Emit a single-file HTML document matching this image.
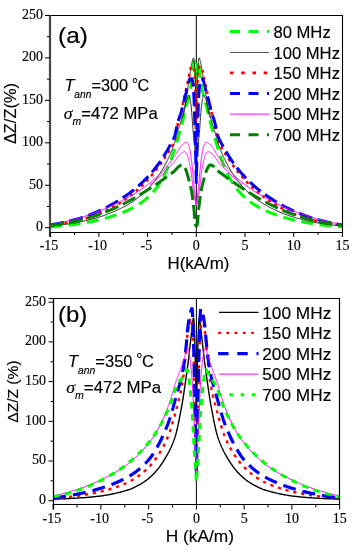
<!DOCTYPE html><html><head><meta charset="utf-8"><style>html,body{margin:0;padding:0;background:#fff;}svg{display:block;}.sf{font-family:"Liberation Serif",serif;font-size:14px;fill:#000;stroke:#000;stroke-width:0.15px;}.ss{font-family:"Liberation Sans",Arial,sans-serif;fill:#000;stroke:#000;stroke-width:0.15px;}</style></head><body>
<svg width="355" height="550" viewBox="0 0 355 550">
<rect width="355" height="550" fill="#fff"/>
<defs><clipPath id="ca"><rect x="50.0" y="15.5" width="292.5" height="217.0"/></clipPath>
<clipPath id="cb"><rect x="53.5" y="298.5" width="286" height="206"/></clipPath></defs>
<g clip-path="url(#ca)" fill="none" stroke-linejoin="round">
<line x1="196.3" y1="15" x2="196.3" y2="233" stroke="#000" stroke-width="1"/>
<path d="M50.20 226.83 L51.17 226.78 L52.15 226.73 L53.12 226.67 L54.10 226.60 L55.07 226.53 L56.04 226.46 L57.02 226.39 L57.99 226.31 L58.97 226.22 L59.94 226.13 L60.91 226.04 L61.89 225.95 L62.86 225.85 L63.84 225.75 L64.81 225.65 L65.78 225.54 L66.76 225.44 L67.73 225.33 L68.71 225.21 L69.68 225.10 L70.65 224.98 L71.63 224.87 L72.60 224.75 L73.58 224.62 L74.55 224.50 L75.52 224.38 L76.50 224.24 L77.47 224.10 L78.45 223.96 L79.42 223.81 L80.39 223.65 L81.37 223.49 L82.34 223.32 L83.32 223.15 L84.29 222.97 L85.26 222.79 L86.24 222.60 L87.21 222.41 L88.19 222.22 L89.16 222.03 L90.13 221.83 L91.11 221.63 L92.08 221.42 L93.06 221.22 L94.03 221.01 L95.00 220.80 L95.98 220.59 L96.95 220.37 L97.93 220.15 L98.90 219.92 L99.87 219.68 L100.85 219.44 L101.82 219.20 L102.80 218.95 L103.77 218.69 L104.74 218.42 L105.72 218.16 L106.69 217.88 L107.67 217.60 L108.64 217.32 L109.61 217.02 L110.59 216.73 L111.56 216.42 L112.54 216.11 L113.51 215.80 L114.48 215.48 L115.46 215.15 L116.43 214.81 L117.41 214.47 L118.38 214.12 L119.35 213.76 L120.33 213.40 L121.30 213.03 L122.28 212.65 L123.25 212.26 L124.22 211.86 L125.20 211.45 L126.17 211.04 L127.15 210.61 L128.12 210.18 L129.09 209.74 L130.07 209.28 L131.04 208.80 L132.02 208.30 L132.99 207.79 L133.96 207.26 L134.94 206.71 L135.91 206.15 L136.89 205.56 L137.86 204.96 L138.83 204.34 L139.81 203.70 L140.78 203.04 L141.76 202.35 L142.73 201.64 L143.70 200.90 L144.68 200.13 L145.65 199.33 L146.63 198.50 L147.60 197.64 L148.57 196.75 L149.55 195.82 L150.52 194.86 L151.50 193.85 L152.47 192.80 L153.44 191.69 L154.42 190.54 L155.39 189.34 L156.37 188.08 L157.34 186.77 L158.31 185.39 L159.29 183.96 L160.26 182.45 L161.24 180.85 L162.21 179.15 L163.18 177.36 L164.16 175.47 L165.13 173.50 L166.11 171.44 L167.08 169.30 L167.18 169.08 L167.27 168.86 L167.37 168.64 L167.47 168.42 L167.57 168.20 L167.66 167.97 L167.76 167.75 L167.86 167.53 L167.96 167.30 L168.05 167.08 L168.15 166.85 L168.25 166.62 L168.35 166.39 L168.44 166.17 L168.54 165.94 L168.64 165.71 L168.74 165.48 L168.83 165.24 L168.93 165.01 L169.03 164.78 L169.13 164.54 L169.22 164.31 L169.32 164.07 L169.42 163.84 L169.52 163.60 L169.61 163.36 L169.71 163.13 L169.81 162.89 L169.90 162.65 L170.00 162.40 L170.10 162.15 L170.20 161.90 L170.29 161.64 L170.39 161.38 L170.49 161.12 L170.59 160.86 L170.68 160.59 L170.78 160.32 L170.88 160.04 L170.98 159.77 L171.07 159.49 L171.17 159.21 L171.27 158.93 L171.37 158.64 L171.46 158.35 L171.56 158.06 L171.66 157.77 L171.76 157.48 L171.85 157.19 L171.95 156.89 L172.05 156.60 L172.14 156.30 L172.24 156.00 L172.34 155.71 L172.44 155.41 L172.53 155.11 L172.63 154.81 L172.73 154.51 L172.83 154.21 L172.92 153.91 L173.02 153.61 L173.12 153.31 L173.22 153.01 L173.31 152.71 L173.41 152.41 L173.51 152.11 L173.61 151.81 L173.70 151.51 L173.80 151.22 L173.90 150.92 L174.00 150.61 L174.09 150.31 L174.19 150.01 L174.29 149.71 L174.39 149.41 L174.48 149.11 L174.58 148.80 L174.68 148.50 L174.77 148.19 L174.87 147.89 L174.97 147.58 L175.07 147.28 L175.16 146.97 L175.26 146.66 L175.36 146.35 L175.46 146.05 L175.55 145.74 L175.65 145.43 L175.75 145.12 L175.85 144.81 L175.94 144.49 L176.04 144.18 L176.14 143.87 L176.24 143.56 L176.33 143.24 L176.43 142.93 L176.53 142.61 L176.63 142.29 L176.72 141.98 L176.82 141.66 L176.92 141.34 L177.01 141.02 L177.11 140.70 L177.21 140.38 L177.31 140.06 L177.40 139.74 L177.50 139.42 L177.60 139.09 L177.70 138.77 L177.79 138.44 L177.89 138.12 L177.99 137.79 L178.09 137.46 L178.18 137.13 L178.28 136.80 L178.38 136.47 L178.48 136.14 L178.57 135.81 L178.67 135.48 L178.77 135.15 L178.87 134.81 L178.96 134.48 L179.06 134.14 L179.16 133.80 L179.25 133.47 L179.35 133.13 L179.45 132.79 L179.55 132.45 L179.64 132.11 L179.74 131.76 L179.84 131.42 L179.94 131.07 L180.03 130.73 L180.13 130.38 L180.23 130.03 L180.33 129.68 L180.42 129.32 L180.52 128.97 L180.62 128.61 L180.72 128.25 L180.81 127.89 L180.91 127.53 L181.01 127.17 L181.11 126.81 L181.20 126.44 L181.30 126.08 L181.40 125.71 L181.50 125.34 L181.59 124.97 L181.69 124.60 L181.79 124.23 L181.88 123.86 L181.98 123.49 L182.08 123.11 L182.18 122.74 L182.27 122.36 L182.37 121.98 L182.47 121.61 L182.57 121.23 L182.66 120.85 L182.76 120.47 L182.86 120.09 L182.96 119.71 L183.05 119.33 L183.15 118.94 L183.25 118.56 L183.35 118.18 L183.44 117.79 L183.54 117.41 L183.64 117.01 L183.74 116.62 L183.83 116.22 L183.93 115.82 L184.03 115.42 L184.12 115.01 L184.22 114.61 L184.32 114.20 L184.42 113.79 L184.51 113.38 L184.61 112.97 L184.71 112.56 L184.81 112.14 L184.90 111.73 L185.00 111.32 L185.10 110.90 L185.20 110.49 L185.29 110.08 L185.39 109.67 L185.49 109.26 L185.59 108.85 L185.68 108.44 L185.78 108.03 L185.88 107.63 L185.98 107.23 L186.07 106.83 L186.17 106.43 L186.27 106.04 L186.37 105.65 L186.46 105.26 L186.56 104.88 L186.66 104.49 L186.75 104.12 L186.85 103.75 L186.95 103.38 L187.05 103.03 L187.14 102.68 L187.24 102.34 L187.34 102.00 L187.44 101.68 L187.53 101.35 L187.63 101.03 L187.73 100.71 L187.83 100.38 L187.92 100.06 L188.02 99.74 L188.12 99.41 L188.22 99.08 L188.31 98.74 L188.41 98.39 L188.51 98.04 L188.61 97.67 L188.70 97.30 L188.80 96.92 L188.90 96.52 L189.00 96.10 L189.09 95.68 L189.19 95.25 L189.29 94.82 L189.38 94.37 L189.48 93.93 L189.58 93.47 L189.68 93.01 L189.77 92.54 L189.87 92.06 L189.97 91.58 L190.07 91.09 L190.16 90.59 L190.26 90.08 L190.36 89.57 L190.46 89.05 L190.55 88.53 L190.65 87.99 L190.75 87.45 L190.85 86.90 L190.94 86.34 L191.04 85.77 L191.14 85.20 L191.24 84.62 L191.33 84.03 L191.43 83.43 L191.53 82.82 L191.62 82.21 L191.72 81.59 L191.82 80.96 L191.92 80.32 L192.01 79.67 L192.11 79.01 L192.21 78.34 L192.31 77.67 L192.40 76.99 L192.50 76.29 L192.60 75.59 L192.70 74.88 L192.79 74.08 L192.89 73.15 L192.99 72.09 L193.09 70.96 L193.18 69.77 L193.28 68.55 L193.38 67.34 L193.48 66.16 L193.57 65.05 L193.67 64.02 L193.77 63.12 L193.87 62.37 L193.96 61.79 L194.06 61.42 L194.16 61.30 L194.25 61.35 L194.35 61.52 L194.45 61.79 L194.55 62.16 L194.64 62.63 L194.74 63.20 L194.84 63.85 L194.94 64.59 L195.03 65.42 L195.13 66.32 L195.23 67.30 L195.33 68.34 L195.42 69.46 L195.52 70.63 L195.62 72.31 L195.72 74.83 L195.81 78.06 L195.91 81.88 L196.01 86.15 L196.11 90.73 L196.20 95.51 L196.30 100.35 L196.40 95.51 L196.49 90.73 L196.59 86.15 L196.69 81.88 L196.79 78.06 L196.88 74.83 L196.98 72.31 L197.08 70.63 L197.18 69.46 L197.27 68.34 L197.37 67.30 L197.47 66.32 L197.57 65.42 L197.66 64.59 L197.76 63.85 L197.86 63.20 L197.96 62.63 L198.05 62.16 L198.15 61.79 L198.25 61.52 L198.35 61.35 L198.44 61.30 L198.54 61.42 L198.64 61.79 L198.74 62.37 L198.83 63.12 L198.93 64.02 L199.03 65.05 L199.12 66.16 L199.22 67.34 L199.32 68.55 L199.42 69.77 L199.51 70.96 L199.61 72.09 L199.71 73.15 L199.81 74.08 L199.90 74.88 L200.00 75.59 L200.10 76.29 L200.20 76.99 L200.29 77.67 L200.39 78.34 L200.49 79.01 L200.59 79.67 L200.68 80.32 L200.78 80.96 L200.88 81.59 L200.98 82.21 L201.07 82.82 L201.17 83.43 L201.27 84.03 L201.36 84.62 L201.46 85.20 L201.56 85.77 L201.66 86.34 L201.75 86.90 L201.85 87.45 L201.95 87.99 L202.05 88.53 L202.14 89.05 L202.24 89.57 L202.34 90.08 L202.44 90.59 L202.53 91.09 L202.63 91.58 L202.73 92.06 L202.83 92.54 L202.92 93.01 L203.02 93.47 L203.12 93.93 L203.22 94.37 L203.31 94.82 L203.41 95.25 L203.51 95.68 L203.61 96.10 L203.70 96.52 L203.80 96.92 L203.90 97.30 L203.99 97.67 L204.09 98.04 L204.19 98.39 L204.29 98.74 L204.38 99.08 L204.48 99.41 L204.58 99.74 L204.68 100.06 L204.77 100.38 L204.87 100.71 L204.97 101.03 L205.07 101.35 L205.16 101.68 L205.26 102.00 L205.36 102.34 L205.46 102.68 L205.55 103.03 L205.65 103.38 L205.75 103.75 L205.85 104.12 L205.94 104.49 L206.04 104.88 L206.14 105.26 L206.23 105.65 L206.33 106.04 L206.43 106.43 L206.53 106.83 L206.62 107.23 L206.72 107.63 L206.82 108.03 L206.92 108.44 L207.01 108.85 L207.11 109.26 L207.21 109.67 L207.31 110.08 L207.40 110.49 L207.50 110.90 L207.60 111.32 L207.70 111.73 L207.79 112.14 L207.89 112.56 L207.99 112.97 L208.09 113.38 L208.18 113.79 L208.28 114.20 L208.38 114.61 L208.48 115.01 L208.57 115.42 L208.67 115.82 L208.77 116.22 L208.86 116.62 L208.96 117.01 L209.06 117.41 L209.16 117.79 L209.25 118.18 L209.35 118.56 L209.45 118.94 L209.55 119.33 L209.64 119.71 L209.74 120.09 L209.84 120.47 L209.94 120.85 L210.03 121.23 L210.13 121.61 L210.23 121.98 L210.33 122.36 L210.42 122.74 L210.52 123.11 L210.62 123.49 L210.72 123.86 L210.81 124.23 L210.91 124.60 L211.01 124.97 L211.10 125.34 L211.20 125.71 L211.30 126.08 L211.40 126.44 L211.49 126.81 L211.59 127.17 L211.69 127.53 L211.79 127.89 L211.88 128.25 L211.98 128.61 L212.08 128.97 L212.18 129.32 L212.27 129.68 L212.37 130.03 L212.47 130.38 L212.57 130.73 L212.66 131.07 L212.76 131.42 L212.86 131.76 L212.96 132.11 L213.05 132.45 L213.15 132.79 L213.25 133.13 L213.35 133.47 L213.44 133.80 L213.54 134.14 L213.64 134.48 L213.73 134.81 L213.83 135.15 L213.93 135.48 L214.03 135.81 L214.12 136.14 L214.22 136.47 L214.32 136.80 L214.42 137.13 L214.51 137.46 L214.61 137.79 L214.71 138.12 L214.81 138.44 L214.90 138.77 L215.00 139.09 L215.10 139.42 L215.20 139.74 L215.29 140.06 L215.39 140.38 L215.49 140.70 L215.59 141.02 L215.68 141.34 L215.78 141.66 L215.88 141.98 L215.97 142.29 L216.07 142.61 L216.17 142.93 L216.27 143.24 L216.36 143.56 L216.46 143.87 L216.56 144.18 L216.66 144.49 L216.75 144.81 L216.85 145.12 L216.95 145.43 L217.05 145.74 L217.14 146.05 L217.24 146.35 L217.34 146.66 L217.44 146.97 L217.53 147.28 L217.63 147.58 L217.73 147.89 L217.83 148.19 L217.92 148.50 L218.02 148.80 L218.12 149.11 L218.22 149.41 L218.31 149.71 L218.41 150.01 L218.51 150.31 L218.60 150.61 L218.70 150.92 L218.80 151.22 L218.90 151.51 L218.99 151.81 L219.09 152.11 L219.19 152.41 L219.29 152.71 L219.38 153.01 L219.48 153.31 L219.58 153.61 L219.68 153.91 L219.77 154.21 L219.87 154.51 L219.97 154.81 L220.07 155.11 L220.16 155.41 L220.26 155.71 L220.36 156.00 L220.46 156.30 L220.55 156.60 L220.65 156.89 L220.75 157.19 L220.84 157.48 L220.94 157.77 L221.04 158.06 L221.14 158.35 L221.23 158.64 L221.33 158.93 L221.43 159.21 L221.53 159.49 L221.62 159.77 L221.72 160.04 L221.82 160.32 L221.92 160.59 L222.01 160.86 L222.11 161.12 L222.21 161.38 L222.31 161.64 L222.40 161.90 L222.50 162.15 L222.60 162.40 L222.70 162.65 L222.79 162.89 L222.89 163.13 L222.99 163.36 L223.09 163.60 L223.18 163.84 L223.28 164.07 L223.38 164.31 L223.47 164.54 L223.57 164.78 L223.67 165.01 L223.77 165.24 L223.86 165.48 L223.96 165.71 L224.06 165.94 L224.16 166.17 L224.25 166.39 L224.35 166.62 L224.45 166.85 L224.55 167.08 L224.64 167.30 L224.74 167.53 L224.84 167.75 L224.94 167.97 L225.03 168.20 L225.13 168.42 L225.23 168.64 L225.33 168.86 L225.42 169.08 L225.52 169.30 L226.49 171.44 L227.47 173.50 L228.44 175.47 L229.42 177.36 L230.39 179.15 L231.36 180.85 L232.34 182.45 L233.31 183.96 L234.29 185.39 L235.26 186.77 L236.23 188.08 L237.21 189.34 L238.18 190.54 L239.16 191.69 L240.13 192.80 L241.10 193.85 L242.08 194.86 L243.05 195.82 L244.03 196.75 L245.00 197.64 L245.97 198.50 L246.95 199.33 L247.92 200.13 L248.90 200.90 L249.87 201.64 L250.84 202.35 L251.82 203.04 L252.79 203.70 L253.77 204.34 L254.74 204.96 L255.71 205.56 L256.69 206.15 L257.66 206.71 L258.64 207.26 L259.61 207.79 L260.58 208.30 L261.56 208.80 L262.53 209.28 L263.51 209.74 L264.48 210.18 L265.45 210.61 L266.43 211.04 L267.40 211.45 L268.38 211.86 L269.35 212.26 L270.32 212.65 L271.30 213.03 L272.27 213.40 L273.25 213.76 L274.22 214.12 L275.19 214.47 L276.17 214.81 L277.14 215.15 L278.12 215.48 L279.09 215.80 L280.06 216.11 L281.04 216.42 L282.01 216.73 L282.99 217.02 L283.96 217.32 L284.93 217.60 L285.91 217.88 L286.88 218.16 L287.86 218.42 L288.83 218.69 L289.80 218.95 L290.78 219.20 L291.75 219.44 L292.73 219.68 L293.70 219.92 L294.67 220.15 L295.65 220.37 L296.62 220.59 L297.60 220.80 L298.57 221.01 L299.54 221.22 L300.52 221.42 L301.49 221.63 L302.47 221.83 L303.44 222.03 L304.41 222.22 L305.39 222.41 L306.36 222.60 L307.34 222.79 L308.31 222.97 L309.28 223.15 L310.26 223.32 L311.23 223.49 L312.21 223.65 L313.18 223.81 L314.15 223.96 L315.13 224.10 L316.10 224.24 L317.08 224.38 L318.05 224.50 L319.02 224.62 L320.00 224.75 L320.97 224.87 L321.95 224.98 L322.92 225.10 L323.89 225.21 L324.87 225.33 L325.84 225.44 L326.82 225.54 L327.79 225.65 L328.76 225.75 L329.74 225.85 L330.71 225.95 L331.69 226.04 L332.66 226.13 L333.63 226.22 L334.61 226.31 L335.58 226.39 L336.56 226.46 L337.53 226.53 L338.50 226.60 L339.48 226.67 L340.45 226.73 L341.43 226.78 L342.40 226.83" stroke="#00ff00" stroke-width="3" stroke-dasharray="12 6.5"/>
<path d="M50.20 226.01 L51.17 225.94 L52.15 225.86 L53.12 225.78 L54.10 225.69 L55.07 225.60 L56.04 225.50 L57.02 225.40 L57.99 225.29 L58.97 225.18 L59.94 225.07 L60.91 224.95 L61.89 224.82 L62.86 224.70 L63.84 224.56 L64.81 224.43 L65.78 224.29 L66.76 224.15 L67.73 224.01 L68.71 223.86 L69.68 223.72 L70.65 223.56 L71.63 223.41 L72.60 223.26 L73.58 223.10 L74.55 222.94 L75.52 222.78 L76.50 222.61 L77.47 222.43 L78.45 222.25 L79.42 222.05 L80.39 221.86 L81.37 221.65 L82.34 221.44 L83.32 221.23 L84.29 221.01 L85.26 220.78 L86.24 220.55 L87.21 220.31 L88.19 220.07 L89.16 219.83 L90.13 219.58 L91.11 219.33 L92.08 219.07 L93.06 218.81 L94.03 218.55 L95.00 218.29 L95.98 218.01 L96.95 217.74 L97.93 217.45 L98.90 217.15 L99.87 216.85 L100.85 216.54 L101.82 216.22 L102.80 215.90 L103.77 215.56 L104.74 215.22 L105.72 214.87 L106.69 214.52 L107.67 214.15 L108.64 213.78 L109.61 213.40 L110.59 213.02 L111.56 212.62 L112.54 212.22 L113.51 211.80 L114.48 211.38 L115.46 210.95 L116.43 210.50 L117.41 210.05 L118.38 209.59 L119.35 209.12 L120.33 208.64 L121.30 208.15 L122.28 207.66 L123.25 207.15 L124.22 206.63 L125.20 206.10 L126.17 205.56 L127.15 205.01 L128.12 204.46 L129.09 203.89 L130.07 203.30 L131.04 202.69 L132.02 202.06 L132.99 201.41 L133.96 200.74 L134.94 200.05 L135.91 199.34 L136.89 198.61 L137.86 197.87 L138.83 197.11 L139.81 196.33 L140.78 195.53 L141.76 194.71 L142.73 193.86 L143.70 192.98 L144.68 192.08 L145.65 191.15 L146.63 190.19 L147.60 189.21 L148.57 188.20 L149.55 187.15 L150.52 186.08 L151.50 184.96 L152.47 183.81 L153.44 182.62 L154.42 181.39 L155.39 180.12 L156.37 178.81 L157.34 177.45 L158.31 176.05 L159.29 174.61 L160.26 173.13 L161.24 171.57 L162.21 169.95 L163.18 168.26 L164.16 166.51 L165.13 164.70 L166.11 162.84 L167.08 160.91 L167.18 160.72 L167.27 160.52 L167.37 160.33 L167.47 160.13 L167.57 159.93 L167.66 159.74 L167.76 159.54 L167.86 159.34 L167.96 159.14 L168.05 158.94 L168.15 158.74 L168.25 158.54 L168.35 158.34 L168.44 158.14 L168.54 157.93 L168.64 157.73 L168.74 157.53 L168.83 157.32 L168.93 157.12 L169.03 156.91 L169.13 156.70 L169.22 156.49 L169.32 156.28 L169.42 156.07 L169.52 155.86 L169.61 155.65 L169.71 155.44 L169.81 155.23 L169.90 155.01 L170.00 154.79 L170.10 154.58 L170.20 154.36 L170.29 154.14 L170.39 153.92 L170.49 153.70 L170.59 153.47 L170.68 153.25 L170.78 153.02 L170.88 152.79 L170.98 152.56 L171.07 152.33 L171.17 152.10 L171.27 151.87 L171.37 151.63 L171.46 151.40 L171.56 151.16 L171.66 150.92 L171.76 150.68 L171.85 150.43 L171.95 150.19 L172.05 149.94 L172.14 149.69 L172.24 149.44 L172.34 149.19 L172.44 148.93 L172.53 148.68 L172.63 148.42 L172.73 148.16 L172.83 147.90 L172.92 147.63 L173.02 147.36 L173.12 147.09 L173.22 146.81 L173.31 146.53 L173.41 146.25 L173.51 145.96 L173.61 145.67 L173.70 145.38 L173.80 145.08 L173.90 144.78 L174.00 144.47 L174.09 144.17 L174.19 143.85 L174.29 143.54 L174.39 143.23 L174.48 142.91 L174.58 142.59 L174.68 142.27 L174.77 141.94 L174.87 141.62 L174.97 141.29 L175.07 140.96 L175.16 140.63 L175.26 140.30 L175.36 139.96 L175.46 139.63 L175.55 139.29 L175.65 138.96 L175.75 138.62 L175.85 138.29 L175.94 137.95 L176.04 137.61 L176.14 137.27 L176.24 136.94 L176.33 136.60 L176.43 136.26 L176.53 135.92 L176.63 135.59 L176.72 135.25 L176.82 134.92 L176.92 134.58 L177.01 134.25 L177.11 133.92 L177.21 133.59 L177.31 133.26 L177.40 132.94 L177.50 132.61 L177.60 132.29 L177.70 131.97 L177.79 131.64 L177.89 131.32 L177.99 131.00 L178.09 130.67 L178.18 130.35 L178.28 130.03 L178.38 129.71 L178.48 129.39 L178.57 129.06 L178.67 128.74 L178.77 128.42 L178.87 128.10 L178.96 127.78 L179.06 127.45 L179.16 127.13 L179.25 126.81 L179.35 126.48 L179.45 126.16 L179.55 125.84 L179.64 125.51 L179.74 125.19 L179.84 124.86 L179.94 124.53 L180.03 124.21 L180.13 123.88 L180.23 123.55 L180.33 123.22 L180.42 122.89 L180.52 122.56 L180.62 122.23 L180.72 121.90 L180.81 121.57 L180.91 121.23 L181.01 120.90 L181.11 120.56 L181.20 120.22 L181.30 119.89 L181.40 119.55 L181.50 119.21 L181.59 118.87 L181.69 118.52 L181.79 118.18 L181.88 117.83 L181.98 117.48 L182.08 117.12 L182.18 116.76 L182.27 116.39 L182.37 116.02 L182.47 115.64 L182.57 115.26 L182.66 114.88 L182.76 114.49 L182.86 114.11 L182.96 113.71 L183.05 113.32 L183.15 112.93 L183.25 112.53 L183.35 112.13 L183.44 111.73 L183.54 111.33 L183.64 110.94 L183.74 110.54 L183.83 110.14 L183.93 109.74 L184.03 109.34 L184.12 108.94 L184.22 108.55 L184.32 108.16 L184.42 107.77 L184.51 107.38 L184.61 106.99 L184.71 106.61 L184.81 106.23 L184.90 105.86 L185.00 105.49 L185.10 105.12 L185.20 104.76 L185.29 104.40 L185.39 104.05 L185.49 103.70 L185.59 103.36 L185.68 103.03 L185.78 102.70 L185.88 102.38 L185.98 102.07 L186.07 101.76 L186.17 101.46 L186.27 101.17 L186.37 100.89 L186.46 100.61 L186.56 100.35 L186.66 100.09 L186.75 99.81 L186.85 99.53 L186.95 99.25 L187.05 98.96 L187.14 98.68 L187.24 98.39 L187.34 98.10 L187.44 97.82 L187.53 97.55 L187.63 97.28 L187.73 97.02 L187.83 96.77 L187.92 96.54 L188.02 96.32 L188.12 96.11 L188.22 95.93 L188.31 95.76 L188.41 95.61 L188.51 95.49 L188.61 95.39 L188.70 95.32 L188.80 95.27 L188.90 95.26 L189.00 95.29 L189.09 95.38 L189.19 95.54 L189.29 95.75 L189.38 96.01 L189.48 96.33 L189.58 96.68 L189.68 97.08 L189.77 97.52 L189.87 98.00 L189.97 98.51 L190.07 99.04 L190.16 99.60 L190.26 100.19 L190.36 100.79 L190.46 101.40 L190.55 102.03 L190.65 102.67 L190.75 103.31 L190.85 103.95 L190.94 104.59 L191.04 105.28 L191.14 106.07 L191.24 106.94 L191.33 107.90 L191.43 108.93 L191.53 110.03 L191.62 111.19 L191.72 112.41 L191.82 113.67 L191.92 114.97 L192.01 116.30 L192.11 117.65 L192.21 119.03 L192.31 120.41 L192.40 121.80 L192.50 123.18 L192.60 124.56 L192.70 125.91 L192.79 127.25 L192.89 128.55 L192.99 129.80 L193.09 131.02 L193.18 132.18 L193.28 133.28 L193.38 134.31 L193.48 135.30 L193.57 136.29 L193.67 137.26 L193.77 138.23 L193.87 139.19 L193.96 140.14 L194.06 141.09 L194.16 142.02 L194.25 142.95 L194.35 143.86 L194.45 144.77 L194.55 145.66 L194.64 146.55 L194.74 147.42 L194.84 148.29 L194.94 149.14 L195.03 149.98 L195.13 150.81 L195.23 151.63 L195.33 152.44 L195.42 153.23 L195.52 154.01 L195.62 154.78 L195.72 155.54 L195.81 156.28 L195.91 157.01 L196.01 157.72 L196.11 158.42 L196.20 159.11 L196.30 159.78 L196.40 159.11 L196.49 158.42 L196.59 157.72 L196.69 157.01 L196.79 156.28 L196.88 155.54 L196.98 154.78 L197.08 154.01 L197.18 153.23 L197.27 152.44 L197.37 151.63 L197.47 150.81 L197.57 149.98 L197.66 149.14 L197.76 148.29 L197.86 147.42 L197.96 146.55 L198.05 145.66 L198.15 144.77 L198.25 143.86 L198.35 142.95 L198.44 142.02 L198.54 141.09 L198.64 140.14 L198.74 139.19 L198.83 138.23 L198.93 137.26 L199.03 136.29 L199.12 135.30 L199.22 134.31 L199.32 133.28 L199.42 132.18 L199.51 131.02 L199.61 129.80 L199.71 128.55 L199.81 127.25 L199.90 125.91 L200.00 124.56 L200.10 123.18 L200.20 121.80 L200.29 120.41 L200.39 119.03 L200.49 117.65 L200.59 116.30 L200.68 114.97 L200.78 113.67 L200.88 112.41 L200.98 111.19 L201.07 110.03 L201.17 108.93 L201.27 107.90 L201.36 106.94 L201.46 106.07 L201.56 105.28 L201.66 104.59 L201.75 103.95 L201.85 103.31 L201.95 102.67 L202.05 102.03 L202.14 101.40 L202.24 100.79 L202.34 100.19 L202.44 99.60 L202.53 99.04 L202.63 98.51 L202.73 98.00 L202.83 97.52 L202.92 97.08 L203.02 96.68 L203.12 96.33 L203.22 96.01 L203.31 95.75 L203.41 95.54 L203.51 95.38 L203.61 95.29 L203.70 95.26 L203.80 95.27 L203.90 95.32 L203.99 95.39 L204.09 95.49 L204.19 95.61 L204.29 95.76 L204.38 95.93 L204.48 96.11 L204.58 96.32 L204.68 96.54 L204.77 96.77 L204.87 97.02 L204.97 97.28 L205.07 97.55 L205.16 97.82 L205.26 98.10 L205.36 98.39 L205.46 98.68 L205.55 98.96 L205.65 99.25 L205.75 99.53 L205.85 99.81 L205.94 100.09 L206.04 100.35 L206.14 100.61 L206.23 100.89 L206.33 101.17 L206.43 101.46 L206.53 101.76 L206.62 102.07 L206.72 102.38 L206.82 102.70 L206.92 103.03 L207.01 103.36 L207.11 103.70 L207.21 104.05 L207.31 104.40 L207.40 104.76 L207.50 105.12 L207.60 105.49 L207.70 105.86 L207.79 106.23 L207.89 106.61 L207.99 106.99 L208.09 107.38 L208.18 107.77 L208.28 108.16 L208.38 108.55 L208.48 108.94 L208.57 109.34 L208.67 109.74 L208.77 110.14 L208.86 110.54 L208.96 110.94 L209.06 111.33 L209.16 111.73 L209.25 112.13 L209.35 112.53 L209.45 112.93 L209.55 113.32 L209.64 113.71 L209.74 114.11 L209.84 114.49 L209.94 114.88 L210.03 115.26 L210.13 115.64 L210.23 116.02 L210.33 116.39 L210.42 116.76 L210.52 117.12 L210.62 117.48 L210.72 117.83 L210.81 118.18 L210.91 118.52 L211.01 118.87 L211.10 119.21 L211.20 119.55 L211.30 119.89 L211.40 120.22 L211.49 120.56 L211.59 120.90 L211.69 121.23 L211.79 121.57 L211.88 121.90 L211.98 122.23 L212.08 122.56 L212.18 122.89 L212.27 123.22 L212.37 123.55 L212.47 123.88 L212.57 124.21 L212.66 124.53 L212.76 124.86 L212.86 125.19 L212.96 125.51 L213.05 125.84 L213.15 126.16 L213.25 126.48 L213.35 126.81 L213.44 127.13 L213.54 127.45 L213.64 127.78 L213.73 128.10 L213.83 128.42 L213.93 128.74 L214.03 129.06 L214.12 129.39 L214.22 129.71 L214.32 130.03 L214.42 130.35 L214.51 130.67 L214.61 131.00 L214.71 131.32 L214.81 131.64 L214.90 131.97 L215.00 132.29 L215.10 132.61 L215.20 132.94 L215.29 133.26 L215.39 133.59 L215.49 133.92 L215.59 134.25 L215.68 134.58 L215.78 134.92 L215.88 135.25 L215.97 135.59 L216.07 135.92 L216.17 136.26 L216.27 136.60 L216.36 136.94 L216.46 137.27 L216.56 137.61 L216.66 137.95 L216.75 138.29 L216.85 138.62 L216.95 138.96 L217.05 139.29 L217.14 139.63 L217.24 139.96 L217.34 140.30 L217.44 140.63 L217.53 140.96 L217.63 141.29 L217.73 141.62 L217.83 141.94 L217.92 142.27 L218.02 142.59 L218.12 142.91 L218.22 143.23 L218.31 143.54 L218.41 143.85 L218.51 144.17 L218.60 144.47 L218.70 144.78 L218.80 145.08 L218.90 145.38 L218.99 145.67 L219.09 145.96 L219.19 146.25 L219.29 146.53 L219.38 146.81 L219.48 147.09 L219.58 147.36 L219.68 147.63 L219.77 147.90 L219.87 148.16 L219.97 148.42 L220.07 148.68 L220.16 148.93 L220.26 149.19 L220.36 149.44 L220.46 149.69 L220.55 149.94 L220.65 150.19 L220.75 150.43 L220.84 150.68 L220.94 150.92 L221.04 151.16 L221.14 151.40 L221.23 151.63 L221.33 151.87 L221.43 152.10 L221.53 152.33 L221.62 152.56 L221.72 152.79 L221.82 153.02 L221.92 153.25 L222.01 153.47 L222.11 153.70 L222.21 153.92 L222.31 154.14 L222.40 154.36 L222.50 154.58 L222.60 154.79 L222.70 155.01 L222.79 155.23 L222.89 155.44 L222.99 155.65 L223.09 155.86 L223.18 156.07 L223.28 156.28 L223.38 156.49 L223.47 156.70 L223.57 156.91 L223.67 157.12 L223.77 157.32 L223.86 157.53 L223.96 157.73 L224.06 157.93 L224.16 158.14 L224.25 158.34 L224.35 158.54 L224.45 158.74 L224.55 158.94 L224.64 159.14 L224.74 159.34 L224.84 159.54 L224.94 159.74 L225.03 159.93 L225.13 160.13 L225.23 160.33 L225.33 160.52 L225.42 160.72 L225.52 160.91 L226.49 162.84 L227.47 164.70 L228.44 166.51 L229.42 168.26 L230.39 169.95 L231.36 171.57 L232.34 173.13 L233.31 174.61 L234.29 176.05 L235.26 177.45 L236.23 178.81 L237.21 180.12 L238.18 181.39 L239.16 182.62 L240.13 183.81 L241.10 184.96 L242.08 186.08 L243.05 187.15 L244.03 188.20 L245.00 189.21 L245.97 190.19 L246.95 191.15 L247.92 192.08 L248.90 192.98 L249.87 193.86 L250.84 194.71 L251.82 195.53 L252.79 196.33 L253.77 197.11 L254.74 197.87 L255.71 198.61 L256.69 199.34 L257.66 200.05 L258.64 200.74 L259.61 201.41 L260.58 202.06 L261.56 202.69 L262.53 203.30 L263.51 203.89 L264.48 204.46 L265.45 205.01 L266.43 205.56 L267.40 206.10 L268.38 206.63 L269.35 207.15 L270.32 207.66 L271.30 208.15 L272.27 208.64 L273.25 209.12 L274.22 209.59 L275.19 210.05 L276.17 210.50 L277.14 210.95 L278.12 211.38 L279.09 211.80 L280.06 212.22 L281.04 212.62 L282.01 213.02 L282.99 213.40 L283.96 213.78 L284.93 214.15 L285.91 214.52 L286.88 214.87 L287.86 215.22 L288.83 215.56 L289.80 215.90 L290.78 216.22 L291.75 216.54 L292.73 216.85 L293.70 217.15 L294.67 217.45 L295.65 217.74 L296.62 218.01 L297.60 218.29 L298.57 218.55 L299.54 218.81 L300.52 219.07 L301.49 219.33 L302.47 219.58 L303.44 219.83 L304.41 220.07 L305.39 220.31 L306.36 220.55 L307.34 220.78 L308.31 221.01 L309.28 221.23 L310.26 221.44 L311.23 221.65 L312.21 221.86 L313.18 222.05 L314.15 222.25 L315.13 222.43 L316.10 222.61 L317.08 222.78 L318.05 222.94 L319.02 223.10 L320.00 223.26 L320.97 223.41 L321.95 223.56 L322.92 223.72 L323.89 223.86 L324.87 224.01 L325.84 224.15 L326.82 224.29 L327.79 224.43 L328.76 224.56 L329.74 224.70 L330.71 224.82 L331.69 224.95 L332.66 225.07 L333.63 225.18 L334.61 225.29 L335.58 225.40 L336.56 225.50 L337.53 225.60 L338.50 225.69 L339.48 225.78 L340.45 225.86 L341.43 225.94 L342.40 226.01" stroke="#111" stroke-width="0.9"/>
<path d="M181.79 118.18 L181.88 118.11 L181.98 118.03 L182.08 117.92 L182.18 117.79 L182.27 117.64 L182.37 117.47 L182.47 117.29 L182.57 117.08 L182.66 116.87 L182.76 116.63 L182.86 116.38 L182.96 116.12 L183.05 115.84 L183.15 115.56 L183.25 115.26 L183.35 114.95 L183.44 114.63 L183.54 114.31 L183.64 113.98 L183.74 113.64 L183.83 113.29 L183.93 112.94 L184.03 112.59 L184.12 112.24 L184.22 111.86 L184.32 111.43 L184.42 110.97 L184.51 110.46 L184.61 109.92 L184.71 109.35 L184.81 108.75 L184.90 108.12 L185.00 107.46 L185.10 106.79 L185.20 106.09 L185.29 105.38 L185.39 104.65 L185.49 103.92 L185.59 103.17 L185.68 102.42 L185.78 101.67 L185.88 100.92 L185.98 100.17 L186.07 99.43 L186.17 98.70 L186.27 97.97 L186.37 97.27 L186.46 96.58 L186.56 95.90 L186.66 95.26 L186.75 94.62 L186.85 93.99 L186.95 93.36 L187.05 92.73 L187.14 92.11 L187.24 91.48 L187.34 90.86 L187.44 90.24 L187.53 89.62 L187.63 89.00 L187.73 88.39 L187.83 87.77 L187.92 87.15 L188.02 86.53 L188.12 85.92 L188.22 85.30 L188.31 84.68 L188.41 84.06 L188.51 83.44 L188.61 82.82 L188.70 82.20 L188.80 81.58 L188.90 80.97 L189.00 80.35 L189.09 79.74 L189.19 79.12 L189.29 78.51 L189.38 77.90 L189.48 77.29 L189.58 76.68 L189.68 76.08 L189.77 75.48 L189.87 74.88 L189.97 74.28 L190.07 73.66 L190.16 73.04 L190.26 72.41 L190.36 71.78 L190.46 71.14 L190.55 70.51 L190.65 69.88 L190.75 69.25 L190.85 68.63 L190.94 68.03 L191.04 67.43 L191.14 66.86 L191.24 66.30 L191.33 65.75 L191.43 65.24 L191.53 64.74 L191.62 64.28 L191.72 63.84 L191.82 63.42 L191.92 62.98 L192.01 62.53 L192.11 62.08 L192.21 61.63 L192.31 61.18 L192.40 60.75 L192.50 60.33 L192.60 59.93 L192.70 59.55 L192.79 59.20 L192.89 58.88 L192.99 58.60 L193.09 58.36 L193.18 58.17 L193.28 58.02 L193.38 57.93 L193.48 57.90 L193.57 57.98 L193.67 58.22 L193.77 58.60 L193.87 59.12 L193.96 59.77 L194.06 60.55 L194.16 61.44 L194.25 62.43 L194.35 63.53 L194.45 64.72 L194.55 65.98 L194.64 67.33 L194.74 68.74 L194.84 70.21 L194.94 71.72 L195.03 73.28 L195.13 74.88 L195.23 76.72 L195.33 78.99 L195.42 81.65 L195.52 84.67 L195.62 88.01 L195.72 91.64 L195.81 95.51 L195.91 99.60 L196.01 103.86 L196.11 108.26 L196.20 112.76 L196.30 117.33 L196.40 112.76 L196.49 108.26 L196.59 103.86 L196.69 99.60 L196.79 95.51 L196.88 91.64 L196.98 88.01 L197.08 84.67 L197.18 81.65 L197.27 78.99 L197.37 76.72 L197.47 74.88 L197.57 73.28 L197.66 71.72 L197.76 70.21 L197.86 68.74 L197.96 67.33 L198.05 65.98 L198.15 64.72 L198.25 63.53 L198.35 62.43 L198.44 61.44 L198.54 60.55 L198.64 59.77 L198.74 59.12 L198.83 58.60 L198.93 58.22 L199.03 57.98 L199.12 57.90 L199.22 57.93 L199.32 58.02 L199.42 58.17 L199.51 58.36 L199.61 58.60 L199.71 58.88 L199.81 59.20 L199.90 59.55 L200.00 59.93 L200.10 60.33 L200.20 60.75 L200.29 61.18 L200.39 61.63 L200.49 62.08 L200.59 62.53 L200.68 62.98 L200.78 63.42 L200.88 63.84 L200.98 64.28 L201.07 64.74 L201.17 65.24 L201.27 65.75 L201.36 66.30 L201.46 66.86 L201.56 67.43 L201.66 68.03 L201.75 68.63 L201.85 69.25 L201.95 69.88 L202.05 70.51 L202.14 71.14 L202.24 71.78 L202.34 72.41 L202.44 73.04 L202.53 73.66 L202.63 74.28 L202.73 74.88 L202.83 75.48 L202.92 76.08 L203.02 76.68 L203.12 77.29 L203.22 77.90 L203.31 78.51 L203.41 79.12 L203.51 79.74 L203.61 80.35 L203.70 80.97 L203.80 81.58 L203.90 82.20 L203.99 82.82 L204.09 83.44 L204.19 84.06 L204.29 84.68 L204.38 85.30 L204.48 85.92 L204.58 86.53 L204.68 87.15 L204.77 87.77 L204.87 88.39 L204.97 89.00 L205.07 89.62 L205.16 90.24 L205.26 90.86 L205.36 91.48 L205.46 92.11 L205.55 92.73 L205.65 93.36 L205.75 93.99 L205.85 94.62 L205.94 95.26 L206.04 95.90 L206.14 96.58 L206.23 97.27 L206.33 97.97 L206.43 98.70 L206.53 99.43 L206.62 100.17 L206.72 100.92 L206.82 101.67 L206.92 102.42 L207.01 103.17 L207.11 103.92 L207.21 104.65 L207.31 105.38 L207.40 106.09 L207.50 106.79 L207.60 107.46 L207.70 108.12 L207.79 108.75 L207.89 109.35 L207.99 109.92 L208.09 110.46 L208.18 110.97 L208.28 111.43 L208.38 111.86 L208.48 112.24 L208.57 112.59 L208.67 112.94 L208.77 113.29 L208.86 113.64 L208.96 113.98 L209.06 114.31 L209.16 114.63 L209.25 114.95 L209.35 115.26 L209.45 115.56 L209.55 115.84 L209.64 116.12 L209.74 116.38 L209.84 116.63 L209.94 116.87 L210.03 117.08 L210.13 117.29 L210.23 117.47 L210.33 117.64 L210.42 117.79 L210.52 117.92 L210.62 118.03 L210.72 118.11 L210.81 118.18" stroke="#111" stroke-width="0.9"/>
<path d="M50.20 225.22 L51.17 225.14 L52.15 225.04 L53.12 224.94 L54.10 224.83 L55.07 224.71 L56.04 224.59 L57.02 224.46 L57.99 224.33 L58.97 224.19 L59.94 224.04 L60.91 223.89 L61.89 223.73 L62.86 223.57 L63.84 223.41 L64.81 223.24 L65.78 223.06 L66.76 222.88 L67.73 222.70 L68.71 222.51 L69.68 222.33 L70.65 222.13 L71.63 221.94 L72.60 221.74 L73.58 221.54 L74.55 221.34 L75.52 221.13 L76.50 220.91 L77.47 220.69 L78.45 220.45 L79.42 220.21 L80.39 219.95 L81.37 219.69 L82.34 219.42 L83.32 219.14 L84.29 218.86 L85.26 218.57 L86.24 218.27 L87.21 217.97 L88.19 217.66 L89.16 217.34 L90.13 217.02 L91.11 216.69 L92.08 216.36 L93.06 216.02 L94.03 215.68 L95.00 215.34 L95.98 214.99 L96.95 214.62 L97.93 214.25 L98.90 213.86 L99.87 213.46 L100.85 213.05 L101.82 212.63 L102.80 212.20 L103.77 211.76 L104.74 211.31 L105.72 210.86 L106.69 210.39 L107.67 209.91 L108.64 209.43 L109.61 208.93 L110.59 208.43 L111.56 207.92 L112.54 207.39 L113.51 206.85 L114.48 206.30 L115.46 205.74 L116.43 205.16 L117.41 204.58 L118.38 203.98 L119.35 203.38 L120.33 202.76 L121.30 202.13 L122.28 201.49 L123.25 200.85 L124.22 200.19 L125.20 199.52 L126.17 198.84 L127.15 198.16 L128.12 197.46 L129.09 196.76 L130.07 196.03 L131.04 195.29 L132.02 194.52 L132.99 193.73 L133.96 192.93 L134.94 192.11 L135.91 191.27 L136.89 190.42 L137.86 189.55 L138.83 188.67 L139.81 187.77 L140.78 186.87 L141.76 185.94 L142.73 184.99 L143.70 184.02 L144.68 183.04 L145.65 182.03 L146.63 181.00 L147.60 179.96 L148.57 178.90 L149.55 177.81 L150.52 176.71 L151.50 175.59 L152.47 174.44 L153.44 173.26 L154.42 172.07 L155.39 170.85 L156.37 169.60 L157.34 168.33 L158.31 167.04 L159.29 165.72 L160.26 164.37 L161.24 162.99 L162.21 161.58 L163.18 160.14 L164.16 158.67 L165.13 157.17 L166.11 155.64 L167.08 154.08 L167.18 153.92 L167.27 153.77 L167.37 153.61 L167.47 153.45 L167.57 153.29 L167.66 153.14 L167.76 152.98 L167.86 152.82 L167.96 152.66 L168.05 152.50 L168.15 152.34 L168.25 152.18 L168.35 152.02 L168.44 151.86 L168.54 151.70 L168.64 151.54 L168.74 151.38 L168.83 151.22 L168.93 151.06 L169.03 150.90 L169.13 150.73 L169.22 150.57 L169.32 150.41 L169.42 150.25 L169.52 150.08 L169.61 149.92 L169.71 149.76 L169.81 149.59 L169.90 149.43 L170.00 149.27 L170.10 149.12 L170.20 148.96 L170.29 148.81 L170.39 148.65 L170.49 148.50 L170.59 148.36 L170.68 148.21 L170.78 148.06 L170.88 147.91 L170.98 147.77 L171.07 147.62 L171.17 147.48 L171.27 147.33 L171.37 147.18 L171.46 147.04 L171.56 146.89 L171.66 146.74 L171.76 146.59 L171.85 146.44 L171.95 146.29 L172.05 146.14 L172.14 145.98 L172.24 145.82 L172.34 145.66 L172.44 145.50 L172.53 145.33 L172.63 145.17 L172.73 145.00 L172.83 144.82 L172.92 144.64 L173.02 144.46 L173.12 144.28 L173.22 144.09 L173.31 143.89 L173.41 143.69 L173.51 143.49 L173.61 143.28 L173.70 143.07 L173.80 142.85 L173.90 142.63 L174.00 142.40 L174.09 142.16 L174.19 141.92 L174.29 141.67 L174.39 141.42 L174.48 141.16 L174.58 140.88 L174.68 140.58 L174.77 140.24 L174.87 139.88 L174.97 139.50 L175.07 139.10 L175.16 138.67 L175.26 138.23 L175.36 137.76 L175.46 137.28 L175.55 136.79 L175.65 136.28 L175.75 135.75 L175.85 135.22 L175.94 134.67 L176.04 134.12 L176.14 133.56 L176.24 132.99 L176.33 132.42 L176.43 131.84 L176.53 131.26 L176.63 130.68 L176.72 130.10 L176.82 129.53 L176.92 128.95 L177.01 128.38 L177.11 127.82 L177.21 127.27 L177.31 126.72 L177.40 126.19 L177.50 125.66 L177.60 125.15 L177.70 124.65 L177.79 124.17 L177.89 123.70 L177.99 123.26 L178.09 122.83 L178.18 122.42 L178.28 122.03 L178.38 121.66 L178.48 121.29 L178.57 120.93 L178.67 120.58 L178.77 120.24 L178.87 119.91 L178.96 119.58 L179.06 119.26 L179.16 118.95 L179.25 118.63 L179.35 118.33 L179.45 118.02 L179.55 117.72 L179.64 117.41 L179.74 117.11 L179.84 116.80 L179.94 116.50 L180.03 116.19 L180.13 115.88 L180.23 115.56 L180.33 115.24 L180.42 114.91 L180.52 114.58 L180.62 114.24 L180.72 113.89 L180.81 113.54 L180.91 113.17 L181.01 112.79 L181.11 112.41 L181.20 112.00 L181.30 111.59 L181.40 111.16 L181.50 110.72 L181.59 110.27 L181.69 109.81 L181.79 109.34 L181.88 108.86 L181.98 108.38 L182.08 107.89 L182.18 107.39 L182.27 106.90 L182.37 106.40 L182.47 105.90 L182.57 105.40 L182.66 104.90 L182.76 104.41 L182.86 103.91 L182.96 103.42 L183.05 102.94 L183.15 102.47 L183.25 102.00 L183.35 101.54 L183.44 101.08 L183.54 100.63 L183.64 100.18 L183.74 99.74 L183.83 99.29 L183.93 98.85 L184.03 98.40 L184.12 97.96 L184.22 97.52 L184.32 97.08 L184.42 96.64 L184.51 96.21 L184.61 95.77 L184.71 95.34 L184.81 94.90 L184.90 94.47 L185.00 94.04 L185.10 93.61 L185.20 93.18 L185.29 92.75 L185.39 92.31 L185.49 91.88 L185.59 91.45 L185.68 91.02 L185.78 90.59 L185.88 90.16 L185.98 89.73 L186.07 89.30 L186.17 88.88 L186.27 88.45 L186.37 88.02 L186.46 87.60 L186.56 87.18 L186.66 86.75 L186.75 86.33 L186.85 85.91 L186.95 85.49 L187.05 85.07 L187.14 84.65 L187.24 84.23 L187.34 83.81 L187.44 83.39 L187.53 82.96 L187.63 82.54 L187.73 82.12 L187.83 81.69 L187.92 81.27 L188.02 80.84 L188.12 80.42 L188.22 79.99 L188.31 79.56 L188.41 79.12 L188.51 78.68 L188.61 78.22 L188.70 77.74 L188.80 77.25 L188.90 76.75 L189.00 76.23 L189.09 75.71 L189.19 75.19 L189.29 74.66 L189.38 74.14 L189.48 73.61 L189.58 73.09 L189.68 72.58 L189.77 72.08 L189.87 71.59 L189.97 71.11 L190.07 70.65 L190.16 70.21 L190.26 69.80 L190.36 69.40 L190.46 69.03 L190.55 68.69 L190.65 68.38 L190.75 68.11 L190.85 67.87 L190.94 67.66 L191.04 67.48 L191.14 67.30 L191.24 67.12 L191.33 66.95 L191.43 66.80 L191.53 66.66 L191.62 66.55 L191.72 66.46 L191.82 66.41 L191.92 66.39 L192.01 66.39 L192.11 66.41 L192.21 66.43 L192.31 66.46 L192.40 66.50 L192.50 66.54 L192.60 66.59 L192.70 66.65 L192.79 66.72 L192.89 66.79 L192.99 66.87 L193.09 66.96 L193.18 67.04 L193.28 67.14 L193.38 67.24 L193.48 67.36 L193.57 67.54 L193.67 67.76 L193.77 68.03 L193.87 68.36 L193.96 68.74 L194.06 69.17 L194.16 69.67 L194.25 70.22 L194.35 70.84 L194.45 71.51 L194.55 72.25 L194.64 73.06 L194.74 73.94 L194.84 74.88 L194.94 76.53 L195.03 79.39 L195.13 83.31 L195.23 88.10 L195.33 93.61 L195.42 99.65 L195.52 106.06 L195.62 112.68 L195.72 119.32 L195.81 125.82 L195.91 132.62 L196.01 140.16 L196.11 148.30 L196.20 156.87 L196.30 165.72 L196.40 156.87 L196.49 148.30 L196.59 140.16 L196.69 132.62 L196.79 125.82 L196.88 119.32 L196.98 112.68 L197.08 106.06 L197.18 99.65 L197.27 93.61 L197.37 88.10 L197.47 83.31 L197.57 79.39 L197.66 76.53 L197.76 74.88 L197.86 73.94 L197.96 73.06 L198.05 72.25 L198.15 71.51 L198.25 70.84 L198.35 70.22 L198.44 69.67 L198.54 69.17 L198.64 68.74 L198.74 68.36 L198.83 68.03 L198.93 67.76 L199.03 67.54 L199.12 67.36 L199.22 67.24 L199.32 67.14 L199.42 67.04 L199.51 66.96 L199.61 66.87 L199.71 66.79 L199.81 66.72 L199.90 66.65 L200.00 66.59 L200.10 66.54 L200.20 66.50 L200.29 66.46 L200.39 66.43 L200.49 66.41 L200.59 66.39 L200.68 66.39 L200.78 66.41 L200.88 66.46 L200.98 66.55 L201.07 66.66 L201.17 66.80 L201.27 66.95 L201.36 67.12 L201.46 67.30 L201.56 67.48 L201.66 67.66 L201.75 67.87 L201.85 68.11 L201.95 68.38 L202.05 68.69 L202.14 69.03 L202.24 69.40 L202.34 69.80 L202.44 70.21 L202.53 70.65 L202.63 71.11 L202.73 71.59 L202.83 72.08 L202.92 72.58 L203.02 73.09 L203.12 73.61 L203.22 74.14 L203.31 74.66 L203.41 75.19 L203.51 75.71 L203.61 76.23 L203.70 76.75 L203.80 77.25 L203.90 77.74 L203.99 78.22 L204.09 78.68 L204.19 79.12 L204.29 79.56 L204.38 79.99 L204.48 80.42 L204.58 80.84 L204.68 81.27 L204.77 81.69 L204.87 82.12 L204.97 82.54 L205.07 82.96 L205.16 83.39 L205.26 83.81 L205.36 84.23 L205.46 84.65 L205.55 85.07 L205.65 85.49 L205.75 85.91 L205.85 86.33 L205.94 86.75 L206.04 87.18 L206.14 87.60 L206.23 88.02 L206.33 88.45 L206.43 88.88 L206.53 89.30 L206.62 89.73 L206.72 90.16 L206.82 90.59 L206.92 91.02 L207.01 91.45 L207.11 91.88 L207.21 92.31 L207.31 92.75 L207.40 93.18 L207.50 93.61 L207.60 94.04 L207.70 94.47 L207.79 94.90 L207.89 95.34 L207.99 95.77 L208.09 96.21 L208.18 96.64 L208.28 97.08 L208.38 97.52 L208.48 97.96 L208.57 98.40 L208.67 98.85 L208.77 99.29 L208.86 99.74 L208.96 100.18 L209.06 100.63 L209.16 101.08 L209.25 101.54 L209.35 102.00 L209.45 102.47 L209.55 102.94 L209.64 103.42 L209.74 103.91 L209.84 104.41 L209.94 104.90 L210.03 105.40 L210.13 105.90 L210.23 106.40 L210.33 106.90 L210.42 107.39 L210.52 107.89 L210.62 108.38 L210.72 108.86 L210.81 109.34 L210.91 109.81 L211.01 110.27 L211.10 110.72 L211.20 111.16 L211.30 111.59 L211.40 112.00 L211.49 112.41 L211.59 112.79 L211.69 113.17 L211.79 113.54 L211.88 113.89 L211.98 114.24 L212.08 114.58 L212.18 114.91 L212.27 115.24 L212.37 115.56 L212.47 115.88 L212.57 116.19 L212.66 116.50 L212.76 116.80 L212.86 117.11 L212.96 117.41 L213.05 117.72 L213.15 118.02 L213.25 118.33 L213.35 118.63 L213.44 118.95 L213.54 119.26 L213.64 119.58 L213.73 119.91 L213.83 120.24 L213.93 120.58 L214.03 120.93 L214.12 121.29 L214.22 121.66 L214.32 122.03 L214.42 122.42 L214.51 122.83 L214.61 123.26 L214.71 123.70 L214.81 124.17 L214.90 124.65 L215.00 125.15 L215.10 125.66 L215.20 126.19 L215.29 126.72 L215.39 127.27 L215.49 127.82 L215.59 128.38 L215.68 128.95 L215.78 129.53 L215.88 130.10 L215.97 130.68 L216.07 131.26 L216.17 131.84 L216.27 132.42 L216.36 132.99 L216.46 133.56 L216.56 134.12 L216.66 134.67 L216.75 135.22 L216.85 135.75 L216.95 136.28 L217.05 136.79 L217.14 137.28 L217.24 137.76 L217.34 138.23 L217.44 138.67 L217.53 139.10 L217.63 139.50 L217.73 139.88 L217.83 140.24 L217.92 140.58 L218.02 140.88 L218.12 141.16 L218.22 141.42 L218.31 141.67 L218.41 141.92 L218.51 142.16 L218.60 142.40 L218.70 142.63 L218.80 142.85 L218.90 143.07 L218.99 143.28 L219.09 143.49 L219.19 143.69 L219.29 143.89 L219.38 144.09 L219.48 144.28 L219.58 144.46 L219.68 144.64 L219.77 144.82 L219.87 145.00 L219.97 145.17 L220.07 145.33 L220.16 145.50 L220.26 145.66 L220.36 145.82 L220.46 145.98 L220.55 146.14 L220.65 146.29 L220.75 146.44 L220.84 146.59 L220.94 146.74 L221.04 146.89 L221.14 147.04 L221.23 147.18 L221.33 147.33 L221.43 147.48 L221.53 147.62 L221.62 147.77 L221.72 147.91 L221.82 148.06 L221.92 148.21 L222.01 148.36 L222.11 148.50 L222.21 148.65 L222.31 148.81 L222.40 148.96 L222.50 149.12 L222.60 149.27 L222.70 149.43 L222.79 149.59 L222.89 149.76 L222.99 149.92 L223.09 150.08 L223.18 150.25 L223.28 150.41 L223.38 150.57 L223.47 150.73 L223.57 150.90 L223.67 151.06 L223.77 151.22 L223.86 151.38 L223.96 151.54 L224.06 151.70 L224.16 151.86 L224.25 152.02 L224.35 152.18 L224.45 152.34 L224.55 152.50 L224.64 152.66 L224.74 152.82 L224.84 152.98 L224.94 153.14 L225.03 153.29 L225.13 153.45 L225.23 153.61 L225.33 153.77 L225.42 153.92 L225.52 154.08 L226.49 155.64 L227.47 157.17 L228.44 158.67 L229.42 160.14 L230.39 161.58 L231.36 162.99 L232.34 164.37 L233.31 165.72 L234.29 167.04 L235.26 168.33 L236.23 169.60 L237.21 170.85 L238.18 172.07 L239.16 173.26 L240.13 174.44 L241.10 175.59 L242.08 176.71 L243.05 177.81 L244.03 178.90 L245.00 179.96 L245.97 181.00 L246.95 182.03 L247.92 183.04 L248.90 184.02 L249.87 184.99 L250.84 185.94 L251.82 186.87 L252.79 187.77 L253.77 188.67 L254.74 189.55 L255.71 190.42 L256.69 191.27 L257.66 192.11 L258.64 192.93 L259.61 193.73 L260.58 194.52 L261.56 195.29 L262.53 196.03 L263.51 196.76 L264.48 197.46 L265.45 198.16 L266.43 198.84 L267.40 199.52 L268.38 200.19 L269.35 200.85 L270.32 201.49 L271.30 202.13 L272.27 202.76 L273.25 203.38 L274.22 203.98 L275.19 204.58 L276.17 205.16 L277.14 205.74 L278.12 206.30 L279.09 206.85 L280.06 207.39 L281.04 207.92 L282.01 208.43 L282.99 208.93 L283.96 209.43 L284.93 209.91 L285.91 210.39 L286.88 210.86 L287.86 211.31 L288.83 211.76 L289.80 212.20 L290.78 212.63 L291.75 213.05 L292.73 213.46 L293.70 213.86 L294.67 214.25 L295.65 214.62 L296.62 214.99 L297.60 215.34 L298.57 215.68 L299.54 216.02 L300.52 216.36 L301.49 216.69 L302.47 217.02 L303.44 217.34 L304.41 217.66 L305.39 217.97 L306.36 218.27 L307.34 218.57 L308.31 218.86 L309.28 219.14 L310.26 219.42 L311.23 219.69 L312.21 219.95 L313.18 220.21 L314.15 220.45 L315.13 220.69 L316.10 220.91 L317.08 221.13 L318.05 221.34 L319.02 221.54 L320.00 221.74 L320.97 221.94 L321.95 222.13 L322.92 222.33 L323.89 222.51 L324.87 222.70 L325.84 222.88 L326.82 223.06 L327.79 223.24 L328.76 223.41 L329.74 223.57 L330.71 223.73 L331.69 223.89 L332.66 224.04 L333.63 224.19 L334.61 224.33 L335.58 224.46 L336.56 224.59 L337.53 224.71 L338.50 224.83 L339.48 224.94 L340.45 225.04 L341.43 225.14 L342.40 225.22" stroke="#ff0000" stroke-width="2.6" stroke-dasharray="3 4.2"/>
<path d="M50.20 224.78 L51.17 224.65 L52.15 224.52 L53.12 224.37 L54.10 224.22 L55.07 224.06 L56.04 223.90 L57.02 223.73 L57.99 223.55 L58.97 223.37 L59.94 223.18 L60.91 222.99 L61.89 222.79 L62.86 222.58 L63.84 222.37 L64.81 222.16 L65.78 221.93 L66.76 221.71 L67.73 221.48 L68.71 221.25 L69.68 221.01 L70.65 220.77 L71.63 220.53 L72.60 220.28 L73.58 220.03 L74.55 219.78 L75.52 219.52 L76.50 219.25 L77.47 218.97 L78.45 218.68 L79.42 218.38 L80.39 218.07 L81.37 217.76 L82.34 217.43 L83.32 217.10 L84.29 216.76 L85.26 216.41 L86.24 216.06 L87.21 215.70 L88.19 215.33 L89.16 214.96 L90.13 214.59 L91.11 214.21 L92.08 213.82 L93.06 213.43 L94.03 213.04 L95.00 212.65 L95.98 212.25 L96.95 211.83 L97.93 211.41 L98.90 210.98 L99.87 210.54 L100.85 210.09 L101.82 209.64 L102.80 209.17 L103.77 208.69 L104.74 208.21 L105.72 207.72 L106.69 207.22 L107.67 206.71 L108.64 206.20 L109.61 205.68 L110.59 205.15 L111.56 204.61 L112.54 204.07 L113.51 203.51 L114.48 202.95 L115.46 202.38 L116.43 201.80 L117.41 201.21 L118.38 200.61 L119.35 200.00 L120.33 199.38 L121.30 198.76 L122.28 198.12 L123.25 197.48 L124.22 196.83 L125.20 196.17 L126.17 195.50 L127.15 194.82 L128.12 194.13 L129.09 193.43 L130.07 192.72 L131.04 191.99 L132.02 191.25 L132.99 190.48 L133.96 189.71 L134.94 188.91 L135.91 188.10 L136.89 187.28 L137.86 186.44 L138.83 185.59 L139.81 184.72 L140.78 183.84 L141.76 182.94 L142.73 182.02 L143.70 181.08 L144.68 180.12 L145.65 179.14 L146.63 178.14 L147.60 177.12 L148.57 176.08 L149.55 175.01 L150.52 173.92 L151.50 172.80 L152.47 171.65 L153.44 170.48 L154.42 169.27 L155.39 168.04 L156.37 166.78 L157.34 165.50 L158.31 164.19 L159.29 162.87 L160.26 161.51 L161.24 160.10 L162.21 158.64 L163.18 157.12 L164.16 155.57 L165.13 153.97 L166.11 152.34 L167.08 150.67 L167.18 150.50 L167.27 150.33 L167.37 150.16 L167.47 149.99 L167.57 149.82 L167.66 149.65 L167.76 149.48 L167.86 149.31 L167.96 149.13 L168.05 148.96 L168.15 148.79 L168.25 148.61 L168.35 148.44 L168.44 148.26 L168.54 148.09 L168.64 147.91 L168.74 147.73 L168.83 147.56 L168.93 147.38 L169.03 147.20 L169.13 147.02 L169.22 146.84 L169.32 146.66 L169.42 146.48 L169.52 146.30 L169.61 146.12 L169.71 145.94 L169.81 145.76 L169.90 145.58 L170.00 145.40 L170.10 145.22 L170.20 145.04 L170.29 144.87 L170.39 144.69 L170.49 144.52 L170.59 144.34 L170.68 144.17 L170.78 144.00 L170.88 143.82 L170.98 143.65 L171.07 143.48 L171.17 143.31 L171.27 143.13 L171.37 142.96 L171.46 142.78 L171.56 142.61 L171.66 142.43 L171.76 142.26 L171.85 142.08 L171.95 141.90 L172.05 141.72 L172.14 141.53 L172.24 141.35 L172.34 141.16 L172.44 140.97 L172.53 140.78 L172.63 140.59 L172.73 140.39 L172.83 140.19 L172.92 139.99 L173.02 139.79 L173.12 139.58 L173.22 139.37 L173.31 139.16 L173.41 138.94 L173.51 138.72 L173.61 138.49 L173.70 138.26 L173.80 138.03 L173.90 137.79 L174.00 137.55 L174.09 137.31 L174.19 137.06 L174.29 136.80 L174.39 136.54 L174.48 136.27 L174.58 136.00 L174.68 135.71 L174.77 135.40 L174.87 135.07 L174.97 134.74 L175.07 134.39 L175.16 134.02 L175.26 133.65 L175.36 133.26 L175.46 132.87 L175.55 132.46 L175.65 132.05 L175.75 131.63 L175.85 131.20 L175.94 130.77 L176.04 130.33 L176.14 129.89 L176.24 129.45 L176.33 129.00 L176.43 128.55 L176.53 128.10 L176.63 127.65 L176.72 127.20 L176.82 126.75 L176.92 126.30 L177.01 125.86 L177.11 125.42 L177.21 124.98 L177.31 124.55 L177.40 124.13 L177.50 123.71 L177.60 123.30 L177.70 122.90 L177.79 122.51 L177.89 122.13 L177.99 121.77 L178.09 121.41 L178.18 121.07 L178.28 120.73 L178.38 120.41 L178.48 120.09 L178.57 119.78 L178.67 119.48 L178.77 119.18 L178.87 118.89 L178.96 118.60 L179.06 118.32 L179.16 118.04 L179.25 117.77 L179.35 117.49 L179.45 117.22 L179.55 116.95 L179.64 116.68 L179.74 116.40 L179.84 116.13 L179.94 115.86 L180.03 115.58 L180.13 115.30 L180.23 115.02 L180.33 114.74 L180.42 114.45 L180.52 114.15 L180.62 113.85 L180.72 113.54 L180.81 113.23 L180.91 112.91 L181.01 112.58 L181.11 112.24 L181.20 111.89 L181.30 111.52 L181.40 111.15 L181.50 110.77 L181.59 110.38 L181.69 109.98 L181.79 109.57 L181.88 109.16 L181.98 108.74 L182.08 108.31 L182.18 107.89 L182.27 107.46 L182.37 107.03 L182.47 106.60 L182.57 106.18 L182.66 105.75 L182.76 105.33 L182.86 104.91 L182.96 104.49 L183.05 104.08 L183.15 103.68 L183.25 103.28 L183.35 102.90 L183.44 102.52 L183.54 102.14 L183.64 101.77 L183.74 101.40 L183.83 101.04 L183.93 100.68 L184.03 100.32 L184.12 99.96 L184.22 99.60 L184.32 99.25 L184.42 98.90 L184.51 98.55 L184.61 98.20 L184.71 97.85 L184.81 97.50 L184.90 97.15 L185.00 96.80 L185.10 96.44 L185.20 96.09 L185.29 95.74 L185.39 95.38 L185.49 95.02 L185.59 94.66 L185.68 94.30 L185.78 93.93 L185.88 93.56 L185.98 93.18 L186.07 92.80 L186.17 92.41 L186.27 92.02 L186.37 91.62 L186.46 91.22 L186.56 90.82 L186.66 90.42 L186.75 90.02 L186.85 89.61 L186.95 89.21 L187.05 88.81 L187.14 88.41 L187.24 88.02 L187.34 87.62 L187.44 87.24 L187.53 86.86 L187.63 86.48 L187.73 86.12 L187.83 85.76 L187.92 85.41 L188.02 85.07 L188.12 84.72 L188.22 84.36 L188.31 83.98 L188.41 83.59 L188.51 83.20 L188.61 82.80 L188.70 82.40 L188.80 82.01 L188.90 81.63 L189.00 81.26 L189.09 80.91 L189.19 80.57 L189.29 80.27 L189.38 79.99 L189.48 79.74 L189.58 79.53 L189.68 79.36 L189.77 79.23 L189.87 79.15 L189.97 79.12 L190.07 79.12 L190.16 79.12 L190.26 79.12 L190.36 79.12 L190.46 79.12 L190.55 79.12 L190.65 79.12 L190.75 79.12 L190.85 79.12 L190.94 79.12 L191.04 79.12 L191.14 79.12 L191.24 79.12 L191.33 79.12 L191.43 79.12 L191.53 79.12 L191.62 79.12 L191.72 79.12 L191.82 79.12 L191.92 79.12 L192.01 79.18 L192.11 79.35 L192.21 79.63 L192.31 80.01 L192.40 80.49 L192.50 81.06 L192.60 81.73 L192.70 82.47 L192.79 83.29 L192.89 84.19 L192.99 85.15 L193.09 86.18 L193.18 87.26 L193.28 88.41 L193.38 89.59 L193.48 90.83 L193.57 92.10 L193.67 93.41 L193.77 94.74 L193.87 96.10 L193.96 97.68 L194.06 99.62 L194.16 101.90 L194.25 104.49 L194.35 107.34 L194.45 110.43 L194.55 113.71 L194.64 117.15 L194.74 120.72 L194.84 124.38 L194.94 128.10 L195.03 131.83 L195.13 135.55 L195.23 139.22 L195.33 142.80 L195.42 146.38 L195.52 150.07 L195.62 153.87 L195.72 157.76 L195.81 161.73 L195.91 165.79 L196.01 169.92 L196.11 174.12 L196.20 178.39 L196.30 182.70 L196.40 178.39 L196.49 174.12 L196.59 169.92 L196.69 165.79 L196.79 161.73 L196.88 157.76 L196.98 153.87 L197.08 150.07 L197.18 146.38 L197.27 142.80 L197.37 139.22 L197.47 135.55 L197.57 131.83 L197.66 128.10 L197.76 124.38 L197.86 120.72 L197.96 117.15 L198.05 113.71 L198.15 110.43 L198.25 107.34 L198.35 104.49 L198.44 101.90 L198.54 99.62 L198.64 97.68 L198.74 96.10 L198.83 94.74 L198.93 93.41 L199.03 92.10 L199.12 90.83 L199.22 89.59 L199.32 88.41 L199.42 87.26 L199.51 86.18 L199.61 85.15 L199.71 84.19 L199.81 83.29 L199.90 82.47 L200.00 81.73 L200.10 81.06 L200.20 80.49 L200.29 80.01 L200.39 79.63 L200.49 79.35 L200.59 79.18 L200.68 79.12 L200.78 79.12 L200.88 79.12 L200.98 79.12 L201.07 79.12 L201.17 79.12 L201.27 79.12 L201.36 79.12 L201.46 79.12 L201.56 79.12 L201.66 79.12 L201.75 79.12 L201.85 79.12 L201.95 79.12 L202.05 79.12 L202.14 79.12 L202.24 79.12 L202.34 79.12 L202.44 79.12 L202.53 79.12 L202.63 79.12 L202.73 79.15 L202.83 79.23 L202.92 79.36 L203.02 79.53 L203.12 79.74 L203.22 79.99 L203.31 80.27 L203.41 80.57 L203.51 80.91 L203.61 81.26 L203.70 81.63 L203.80 82.01 L203.90 82.40 L203.99 82.80 L204.09 83.20 L204.19 83.59 L204.29 83.98 L204.38 84.36 L204.48 84.72 L204.58 85.07 L204.68 85.41 L204.77 85.76 L204.87 86.12 L204.97 86.48 L205.07 86.86 L205.16 87.24 L205.26 87.62 L205.36 88.02 L205.46 88.41 L205.55 88.81 L205.65 89.21 L205.75 89.61 L205.85 90.02 L205.94 90.42 L206.04 90.82 L206.14 91.22 L206.23 91.62 L206.33 92.02 L206.43 92.41 L206.53 92.80 L206.62 93.18 L206.72 93.56 L206.82 93.93 L206.92 94.30 L207.01 94.66 L207.11 95.02 L207.21 95.38 L207.31 95.74 L207.40 96.09 L207.50 96.44 L207.60 96.80 L207.70 97.15 L207.79 97.50 L207.89 97.85 L207.99 98.20 L208.09 98.55 L208.18 98.90 L208.28 99.25 L208.38 99.60 L208.48 99.96 L208.57 100.32 L208.67 100.68 L208.77 101.04 L208.86 101.40 L208.96 101.77 L209.06 102.14 L209.16 102.52 L209.25 102.90 L209.35 103.28 L209.45 103.68 L209.55 104.08 L209.64 104.49 L209.74 104.91 L209.84 105.33 L209.94 105.75 L210.03 106.18 L210.13 106.60 L210.23 107.03 L210.33 107.46 L210.42 107.89 L210.52 108.31 L210.62 108.74 L210.72 109.16 L210.81 109.57 L210.91 109.98 L211.01 110.38 L211.10 110.77 L211.20 111.15 L211.30 111.52 L211.40 111.89 L211.49 112.24 L211.59 112.58 L211.69 112.91 L211.79 113.23 L211.88 113.54 L211.98 113.85 L212.08 114.15 L212.18 114.45 L212.27 114.74 L212.37 115.02 L212.47 115.30 L212.57 115.58 L212.66 115.86 L212.76 116.13 L212.86 116.40 L212.96 116.68 L213.05 116.95 L213.15 117.22 L213.25 117.49 L213.35 117.77 L213.44 118.04 L213.54 118.32 L213.64 118.60 L213.73 118.89 L213.83 119.18 L213.93 119.48 L214.03 119.78 L214.12 120.09 L214.22 120.41 L214.32 120.73 L214.42 121.07 L214.51 121.41 L214.61 121.77 L214.71 122.13 L214.81 122.51 L214.90 122.90 L215.00 123.30 L215.10 123.71 L215.20 124.13 L215.29 124.55 L215.39 124.98 L215.49 125.42 L215.59 125.86 L215.68 126.30 L215.78 126.75 L215.88 127.20 L215.97 127.65 L216.07 128.10 L216.17 128.55 L216.27 129.00 L216.36 129.45 L216.46 129.89 L216.56 130.33 L216.66 130.77 L216.75 131.20 L216.85 131.63 L216.95 132.05 L217.05 132.46 L217.14 132.87 L217.24 133.26 L217.34 133.65 L217.44 134.02 L217.53 134.39 L217.63 134.74 L217.73 135.07 L217.83 135.40 L217.92 135.71 L218.02 136.00 L218.12 136.27 L218.22 136.54 L218.31 136.80 L218.41 137.06 L218.51 137.31 L218.60 137.55 L218.70 137.79 L218.80 138.03 L218.90 138.26 L218.99 138.49 L219.09 138.72 L219.19 138.94 L219.29 139.16 L219.38 139.37 L219.48 139.58 L219.58 139.79 L219.68 139.99 L219.77 140.19 L219.87 140.39 L219.97 140.59 L220.07 140.78 L220.16 140.97 L220.26 141.16 L220.36 141.35 L220.46 141.53 L220.55 141.72 L220.65 141.90 L220.75 142.08 L220.84 142.26 L220.94 142.43 L221.04 142.61 L221.14 142.78 L221.23 142.96 L221.33 143.13 L221.43 143.31 L221.53 143.48 L221.62 143.65 L221.72 143.82 L221.82 144.00 L221.92 144.17 L222.01 144.34 L222.11 144.52 L222.21 144.69 L222.31 144.87 L222.40 145.04 L222.50 145.22 L222.60 145.40 L222.70 145.58 L222.79 145.76 L222.89 145.94 L222.99 146.12 L223.09 146.30 L223.18 146.48 L223.28 146.66 L223.38 146.84 L223.47 147.02 L223.57 147.20 L223.67 147.38 L223.77 147.56 L223.86 147.73 L223.96 147.91 L224.06 148.09 L224.16 148.26 L224.25 148.44 L224.35 148.61 L224.45 148.79 L224.55 148.96 L224.64 149.13 L224.74 149.31 L224.84 149.48 L224.94 149.65 L225.03 149.82 L225.13 149.99 L225.23 150.16 L225.33 150.33 L225.42 150.50 L225.52 150.67 L226.49 152.34 L227.47 153.97 L228.44 155.57 L229.42 157.12 L230.39 158.64 L231.36 160.10 L232.34 161.51 L233.31 162.87 L234.29 164.19 L235.26 165.50 L236.23 166.78 L237.21 168.04 L238.18 169.27 L239.16 170.48 L240.13 171.65 L241.10 172.80 L242.08 173.92 L243.05 175.01 L244.03 176.08 L245.00 177.12 L245.97 178.14 L246.95 179.14 L247.92 180.12 L248.90 181.08 L249.87 182.02 L250.84 182.94 L251.82 183.84 L252.79 184.72 L253.77 185.59 L254.74 186.44 L255.71 187.28 L256.69 188.10 L257.66 188.91 L258.64 189.71 L259.61 190.48 L260.58 191.25 L261.56 191.99 L262.53 192.72 L263.51 193.43 L264.48 194.13 L265.45 194.82 L266.43 195.50 L267.40 196.17 L268.38 196.83 L269.35 197.48 L270.32 198.12 L271.30 198.76 L272.27 199.38 L273.25 200.00 L274.22 200.61 L275.19 201.21 L276.17 201.80 L277.14 202.38 L278.12 202.95 L279.09 203.51 L280.06 204.07 L281.04 204.61 L282.01 205.15 L282.99 205.68 L283.96 206.20 L284.93 206.71 L285.91 207.22 L286.88 207.72 L287.86 208.21 L288.83 208.69 L289.80 209.17 L290.78 209.64 L291.75 210.09 L292.73 210.54 L293.70 210.98 L294.67 211.41 L295.65 211.83 L296.62 212.25 L297.60 212.65 L298.57 213.04 L299.54 213.43 L300.52 213.82 L301.49 214.21 L302.47 214.59 L303.44 214.96 L304.41 215.33 L305.39 215.70 L306.36 216.06 L307.34 216.41 L308.31 216.76 L309.28 217.10 L310.26 217.43 L311.23 217.76 L312.21 218.07 L313.18 218.38 L314.15 218.68 L315.13 218.97 L316.10 219.25 L317.08 219.52 L318.05 219.78 L319.02 220.03 L320.00 220.28 L320.97 220.53 L321.95 220.77 L322.92 221.01 L323.89 221.25 L324.87 221.48 L325.84 221.71 L326.82 221.93 L327.79 222.16 L328.76 222.37 L329.74 222.58 L330.71 222.79 L331.69 222.99 L332.66 223.18 L333.63 223.37 L334.61 223.55 L335.58 223.73 L336.56 223.90 L337.53 224.06 L338.50 224.22 L339.48 224.37 L340.45 224.52 L341.43 224.65 L342.40 224.78" stroke="#0000ff" stroke-width="3" stroke-dasharray="14 5.5"/>
<path d="M50.20 224.42 L51.17 224.27 L52.15 224.12 L53.12 223.96 L54.10 223.80 L55.07 223.63 L56.04 223.45 L57.02 223.27 L57.99 223.09 L58.97 222.90 L59.94 222.71 L60.91 222.51 L61.89 222.30 L62.86 222.09 L63.84 221.88 L64.81 221.66 L65.78 221.44 L66.76 221.22 L67.73 220.99 L68.71 220.76 L69.68 220.53 L70.65 220.29 L71.63 220.05 L72.60 219.80 L73.58 219.56 L74.55 219.31 L75.52 219.05 L76.50 218.79 L77.47 218.52 L78.45 218.24 L79.42 217.95 L80.39 217.65 L81.37 217.35 L82.34 217.04 L83.32 216.73 L84.29 216.41 L85.26 216.09 L86.24 215.76 L87.21 215.42 L88.19 215.08 L89.16 214.74 L90.13 214.39 L91.11 214.05 L92.08 213.69 L93.06 213.34 L94.03 212.99 L95.00 212.63 L95.98 212.27 L96.95 211.90 L97.93 211.52 L98.90 211.14 L99.87 210.76 L100.85 210.36 L101.82 209.96 L102.80 209.56 L103.77 209.15 L104.74 208.74 L105.72 208.32 L106.69 207.89 L107.67 207.46 L108.64 207.03 L109.61 206.59 L110.59 206.15 L111.56 205.70 L112.54 205.25 L113.51 204.80 L114.48 204.33 L115.46 203.87 L116.43 203.40 L117.41 202.92 L118.38 202.44 L119.35 201.95 L120.33 201.46 L121.30 200.96 L122.28 200.46 L123.25 199.95 L124.22 199.43 L125.20 198.92 L126.17 198.39 L127.15 197.86 L128.12 197.33 L129.09 196.78 L130.07 196.24 L131.04 195.68 L132.02 195.11 L132.99 194.53 L133.96 193.94 L134.94 193.35 L135.91 192.74 L136.89 192.13 L137.86 191.50 L138.83 190.87 L139.81 190.23 L140.78 189.58 L141.76 188.91 L142.73 188.24 L143.70 187.56 L144.68 186.86 L145.65 186.15 L146.63 185.43 L147.60 184.70 L148.57 183.95 L149.55 183.18 L150.52 182.40 L151.50 181.61 L152.47 180.80 L153.44 179.98 L154.42 179.13 L155.39 178.27 L156.37 177.39 L157.34 176.49 L158.31 175.57 L159.29 174.63 L160.26 173.66 L161.24 172.66 L162.21 171.64 L163.18 170.60 L164.16 169.53 L165.13 168.43 L166.11 167.31 L167.08 166.16 L167.18 166.05 L167.27 165.93 L167.37 165.81 L167.47 165.70 L167.57 165.58 L167.66 165.46 L167.76 165.35 L167.86 165.23 L167.96 165.11 L168.05 164.99 L168.15 164.87 L168.25 164.76 L168.35 164.64 L168.44 164.52 L168.54 164.40 L168.64 164.28 L168.74 164.16 L168.83 164.04 L168.93 163.92 L169.03 163.80 L169.13 163.68 L169.22 163.56 L169.32 163.44 L169.42 163.31 L169.52 163.19 L169.61 163.07 L169.71 162.95 L169.81 162.83 L169.90 162.70 L170.00 162.58 L170.10 162.46 L170.20 162.33 L170.29 162.21 L170.39 162.08 L170.49 161.95 L170.59 161.83 L170.68 161.70 L170.78 161.57 L170.88 161.44 L170.98 161.31 L171.07 161.18 L171.17 161.05 L171.27 160.92 L171.37 160.79 L171.46 160.65 L171.56 160.52 L171.66 160.39 L171.76 160.25 L171.85 160.12 L171.95 159.99 L172.05 159.85 L172.14 159.72 L172.24 159.58 L172.34 159.44 L172.44 159.31 L172.53 159.17 L172.63 159.03 L172.73 158.90 L172.83 158.76 L172.92 158.62 L173.02 158.48 L173.12 158.34 L173.22 158.20 L173.31 158.06 L173.41 157.93 L173.51 157.79 L173.61 157.65 L173.70 157.51 L173.80 157.37 L173.90 157.23 L174.00 157.08 L174.09 156.94 L174.19 156.80 L174.29 156.66 L174.39 156.52 L174.48 156.38 L174.58 156.24 L174.68 156.10 L174.77 155.96 L174.87 155.81 L174.97 155.67 L175.07 155.52 L175.16 155.37 L175.26 155.21 L175.36 155.06 L175.46 154.90 L175.55 154.75 L175.65 154.59 L175.75 154.43 L175.85 154.26 L175.94 154.10 L176.04 153.94 L176.14 153.77 L176.24 153.60 L176.33 153.44 L176.43 153.27 L176.53 153.10 L176.63 152.93 L176.72 152.76 L176.82 152.59 L176.92 152.42 L177.01 152.25 L177.11 152.07 L177.21 151.90 L177.31 151.73 L177.40 151.56 L177.50 151.39 L177.60 151.21 L177.70 151.04 L177.79 150.87 L177.89 150.70 L177.99 150.53 L178.09 150.36 L178.18 150.19 L178.28 150.03 L178.38 149.86 L178.48 149.69 L178.57 149.53 L178.67 149.37 L178.77 149.20 L178.87 149.04 L178.96 148.88 L179.06 148.73 L179.16 148.57 L179.25 148.41 L179.35 148.26 L179.45 148.11 L179.55 147.96 L179.64 147.81 L179.74 147.67 L179.84 147.53 L179.94 147.39 L180.03 147.25 L180.13 147.11 L180.23 146.98 L180.33 146.85 L180.42 146.72 L180.52 146.60 L180.62 146.47 L180.72 146.35 L180.81 146.24 L180.91 146.13 L181.01 146.02 L181.11 145.91 L181.20 145.81 L181.30 145.71 L181.40 145.61 L181.50 145.52 L181.59 145.43 L181.69 145.35 L181.79 145.26 L181.88 145.18 L181.98 145.10 L182.08 145.01 L182.18 144.93 L182.27 144.85 L182.37 144.76 L182.47 144.68 L182.57 144.60 L182.66 144.51 L182.76 144.43 L182.86 144.35 L182.96 144.27 L183.05 144.19 L183.15 144.10 L183.25 144.02 L183.35 143.95 L183.44 143.87 L183.54 143.79 L183.64 143.71 L183.74 143.64 L183.83 143.57 L183.93 143.49 L184.03 143.42 L184.12 143.35 L184.22 143.28 L184.32 143.22 L184.42 143.15 L184.51 143.09 L184.61 143.03 L184.71 142.97 L184.81 142.91 L184.90 142.85 L185.00 142.80 L185.10 142.75 L185.20 142.70 L185.29 142.65 L185.39 142.61 L185.49 142.57 L185.59 142.53 L185.68 142.49 L185.78 142.46 L185.88 142.43 L185.98 142.40 L186.07 142.37 L186.17 142.35 L186.27 142.33 L186.37 142.32 L186.46 142.31 L186.56 142.30 L186.66 142.29 L186.75 142.29 L186.85 142.30 L186.95 142.33 L187.05 142.39 L187.14 142.46 L187.24 142.55 L187.34 142.65 L187.44 142.77 L187.53 142.91 L187.63 143.07 L187.73 143.23 L187.83 143.41 L187.92 143.60 L188.02 143.80 L188.12 144.01 L188.22 144.23 L188.31 144.46 L188.41 144.70 L188.51 144.94 L188.61 145.18 L188.70 145.43 L188.80 145.68 L188.90 145.94 L189.00 146.20 L189.09 146.47 L189.19 146.78 L189.29 147.11 L189.38 147.48 L189.48 147.87 L189.58 148.30 L189.68 148.75 L189.77 149.22 L189.87 149.71 L189.97 150.23 L190.07 150.77 L190.16 151.33 L190.26 151.91 L190.36 152.50 L190.46 153.11 L190.55 153.73 L190.65 154.37 L190.75 155.02 L190.85 155.68 L190.94 156.35 L191.04 157.02 L191.14 157.71 L191.24 158.39 L191.33 159.09 L191.43 159.78 L191.53 160.50 L191.62 161.26 L191.72 162.06 L191.82 162.91 L191.92 163.78 L192.01 164.69 L192.11 165.63 L192.21 166.60 L192.31 167.60 L192.40 168.61 L192.50 169.65 L192.60 170.70 L192.70 171.77 L192.79 172.85 L192.89 173.93 L192.99 175.03 L193.09 176.13 L193.18 177.22 L193.28 178.32 L193.38 179.41 L193.48 180.50 L193.57 181.57 L193.67 182.63 L193.77 183.68 L193.87 184.71 L193.96 185.72 L194.06 186.70 L194.16 187.66 L194.25 188.60 L194.35 189.50 L194.45 190.37 L194.55 191.25 L194.64 192.11 L194.74 192.96 L194.84 193.81 L194.94 194.65 L195.03 195.48 L195.13 196.31 L195.23 197.13 L195.33 197.94 L195.42 198.74 L195.52 199.53 L195.62 200.32 L195.72 201.10 L195.81 201.87 L195.91 202.64 L196.01 203.40 L196.11 204.15 L196.20 204.89 L196.30 205.63 L196.40 204.89 L196.49 204.15 L196.59 203.40 L196.69 202.64 L196.79 201.87 L196.88 201.10 L196.98 200.32 L197.08 199.53 L197.18 198.74 L197.27 197.94 L197.37 197.13 L197.47 196.31 L197.57 195.48 L197.66 194.65 L197.76 193.81 L197.86 192.96 L197.96 192.11 L198.05 191.25 L198.15 190.37 L198.25 189.50 L198.35 188.60 L198.44 187.66 L198.54 186.70 L198.64 185.72 L198.74 184.71 L198.83 183.68 L198.93 182.63 L199.03 181.57 L199.12 180.50 L199.22 179.41 L199.32 178.32 L199.42 177.22 L199.51 176.13 L199.61 175.03 L199.71 173.93 L199.81 172.85 L199.90 171.77 L200.00 170.70 L200.10 169.65 L200.20 168.61 L200.29 167.60 L200.39 166.60 L200.49 165.63 L200.59 164.69 L200.68 163.78 L200.78 162.91 L200.88 162.06 L200.98 161.26 L201.07 160.50 L201.17 159.78 L201.27 159.09 L201.36 158.39 L201.46 157.71 L201.56 157.02 L201.66 156.35 L201.75 155.68 L201.85 155.02 L201.95 154.37 L202.05 153.73 L202.14 153.11 L202.24 152.50 L202.34 151.91 L202.44 151.33 L202.53 150.77 L202.63 150.23 L202.73 149.71 L202.83 149.22 L202.92 148.75 L203.02 148.30 L203.12 147.87 L203.22 147.48 L203.31 147.11 L203.41 146.78 L203.51 146.47 L203.61 146.20 L203.70 145.94 L203.80 145.68 L203.90 145.43 L203.99 145.18 L204.09 144.94 L204.19 144.70 L204.29 144.46 L204.38 144.23 L204.48 144.01 L204.58 143.80 L204.68 143.60 L204.77 143.41 L204.87 143.23 L204.97 143.07 L205.07 142.91 L205.16 142.77 L205.26 142.65 L205.36 142.55 L205.46 142.46 L205.55 142.39 L205.65 142.33 L205.75 142.30 L205.85 142.29 L205.94 142.29 L206.04 142.30 L206.14 142.31 L206.23 142.32 L206.33 142.33 L206.43 142.35 L206.53 142.37 L206.62 142.40 L206.72 142.43 L206.82 142.46 L206.92 142.49 L207.01 142.53 L207.11 142.57 L207.21 142.61 L207.31 142.65 L207.40 142.70 L207.50 142.75 L207.60 142.80 L207.70 142.85 L207.79 142.91 L207.89 142.97 L207.99 143.03 L208.09 143.09 L208.18 143.15 L208.28 143.22 L208.38 143.28 L208.48 143.35 L208.57 143.42 L208.67 143.49 L208.77 143.57 L208.86 143.64 L208.96 143.71 L209.06 143.79 L209.16 143.87 L209.25 143.95 L209.35 144.02 L209.45 144.10 L209.55 144.19 L209.64 144.27 L209.74 144.35 L209.84 144.43 L209.94 144.51 L210.03 144.60 L210.13 144.68 L210.23 144.76 L210.33 144.85 L210.42 144.93 L210.52 145.01 L210.62 145.10 L210.72 145.18 L210.81 145.26 L210.91 145.35 L211.01 145.43 L211.10 145.52 L211.20 145.61 L211.30 145.71 L211.40 145.81 L211.49 145.91 L211.59 146.02 L211.69 146.13 L211.79 146.24 L211.88 146.35 L211.98 146.47 L212.08 146.60 L212.18 146.72 L212.27 146.85 L212.37 146.98 L212.47 147.11 L212.57 147.25 L212.66 147.39 L212.76 147.53 L212.86 147.67 L212.96 147.81 L213.05 147.96 L213.15 148.11 L213.25 148.26 L213.35 148.41 L213.44 148.57 L213.54 148.73 L213.64 148.88 L213.73 149.04 L213.83 149.20 L213.93 149.37 L214.03 149.53 L214.12 149.69 L214.22 149.86 L214.32 150.03 L214.42 150.19 L214.51 150.36 L214.61 150.53 L214.71 150.70 L214.81 150.87 L214.90 151.04 L215.00 151.21 L215.10 151.39 L215.20 151.56 L215.29 151.73 L215.39 151.90 L215.49 152.07 L215.59 152.25 L215.68 152.42 L215.78 152.59 L215.88 152.76 L215.97 152.93 L216.07 153.10 L216.17 153.27 L216.27 153.44 L216.36 153.60 L216.46 153.77 L216.56 153.94 L216.66 154.10 L216.75 154.26 L216.85 154.43 L216.95 154.59 L217.05 154.75 L217.14 154.90 L217.24 155.06 L217.34 155.21 L217.44 155.37 L217.53 155.52 L217.63 155.67 L217.73 155.81 L217.83 155.96 L217.92 156.10 L218.02 156.24 L218.12 156.38 L218.22 156.52 L218.31 156.66 L218.41 156.80 L218.51 156.94 L218.60 157.08 L218.70 157.23 L218.80 157.37 L218.90 157.51 L218.99 157.65 L219.09 157.79 L219.19 157.93 L219.29 158.06 L219.38 158.20 L219.48 158.34 L219.58 158.48 L219.68 158.62 L219.77 158.76 L219.87 158.90 L219.97 159.03 L220.07 159.17 L220.16 159.31 L220.26 159.44 L220.36 159.58 L220.46 159.72 L220.55 159.85 L220.65 159.99 L220.75 160.12 L220.84 160.25 L220.94 160.39 L221.04 160.52 L221.14 160.65 L221.23 160.79 L221.33 160.92 L221.43 161.05 L221.53 161.18 L221.62 161.31 L221.72 161.44 L221.82 161.57 L221.92 161.70 L222.01 161.83 L222.11 161.95 L222.21 162.08 L222.31 162.21 L222.40 162.33 L222.50 162.46 L222.60 162.58 L222.70 162.70 L222.79 162.83 L222.89 162.95 L222.99 163.07 L223.09 163.19 L223.18 163.31 L223.28 163.44 L223.38 163.56 L223.47 163.68 L223.57 163.80 L223.67 163.92 L223.77 164.04 L223.86 164.16 L223.96 164.28 L224.06 164.40 L224.16 164.52 L224.25 164.64 L224.35 164.76 L224.45 164.87 L224.55 164.99 L224.64 165.11 L224.74 165.23 L224.84 165.35 L224.94 165.46 L225.03 165.58 L225.13 165.70 L225.23 165.81 L225.33 165.93 L225.42 166.05 L225.52 166.16 L226.49 167.31 L227.47 168.43 L228.44 169.53 L229.42 170.60 L230.39 171.64 L231.36 172.66 L232.34 173.66 L233.31 174.63 L234.29 175.57 L235.26 176.49 L236.23 177.39 L237.21 178.27 L238.18 179.13 L239.16 179.98 L240.13 180.80 L241.10 181.61 L242.08 182.40 L243.05 183.18 L244.03 183.95 L245.00 184.70 L245.97 185.43 L246.95 186.15 L247.92 186.86 L248.90 187.56 L249.87 188.24 L250.84 188.91 L251.82 189.58 L252.79 190.23 L253.77 190.87 L254.74 191.50 L255.71 192.13 L256.69 192.74 L257.66 193.35 L258.64 193.94 L259.61 194.53 L260.58 195.11 L261.56 195.68 L262.53 196.24 L263.51 196.78 L264.48 197.33 L265.45 197.86 L266.43 198.39 L267.40 198.92 L268.38 199.43 L269.35 199.95 L270.32 200.46 L271.30 200.96 L272.27 201.46 L273.25 201.95 L274.22 202.44 L275.19 202.92 L276.17 203.40 L277.14 203.87 L278.12 204.33 L279.09 204.80 L280.06 205.25 L281.04 205.70 L282.01 206.15 L282.99 206.59 L283.96 207.03 L284.93 207.46 L285.91 207.89 L286.88 208.32 L287.86 208.74 L288.83 209.15 L289.80 209.56 L290.78 209.96 L291.75 210.36 L292.73 210.76 L293.70 211.14 L294.67 211.52 L295.65 211.90 L296.62 212.27 L297.60 212.63 L298.57 212.99 L299.54 213.34 L300.52 213.69 L301.49 214.05 L302.47 214.39 L303.44 214.74 L304.41 215.08 L305.39 215.42 L306.36 215.76 L307.34 216.09 L308.31 216.41 L309.28 216.73 L310.26 217.04 L311.23 217.35 L312.21 217.65 L313.18 217.95 L314.15 218.24 L315.13 218.52 L316.10 218.79 L317.08 219.05 L318.05 219.31 L319.02 219.56 L320.00 219.80 L320.97 220.05 L321.95 220.29 L322.92 220.53 L323.89 220.76 L324.87 220.99 L325.84 221.22 L326.82 221.44 L327.79 221.66 L328.76 221.88 L329.74 222.09 L330.71 222.30 L331.69 222.51 L332.66 222.71 L333.63 222.90 L334.61 223.09 L335.58 223.27 L336.56 223.45 L337.53 223.63 L338.50 223.80 L339.48 223.96 L340.45 224.12 L341.43 224.27 L342.40 224.42" stroke="#ff00ff" stroke-width="1"/>
<path d="M150.52 184.55 L151.50 183.80 L152.47 183.04 L153.44 182.25 L154.42 181.45 L155.39 180.63 L156.37 179.80 L157.34 178.95 L158.31 178.08 L159.29 177.21 L160.26 176.31 L161.24 175.38 L162.21 174.43 L163.18 173.45 L164.16 172.45 L165.13 171.44 L166.11 170.42 L167.08 169.40 L167.18 169.30 L167.27 169.20 L167.37 169.10 L167.47 168.99 L167.57 168.89 L167.66 168.79 L167.76 168.69 L167.86 168.59 L167.96 168.49 L168.05 168.38 L168.15 168.28 L168.25 168.18 L168.35 168.08 L168.44 167.98 L168.54 167.88 L168.64 167.78 L168.74 167.68 L168.83 167.57 L168.93 167.47 L169.03 167.37 L169.13 167.27 L169.22 167.17 L169.32 167.07 L169.42 166.97 L169.52 166.87 L169.61 166.77 L169.71 166.67 L169.81 166.57 L169.90 166.47 L170.00 166.37 L170.10 166.28 L170.20 166.18 L170.29 166.08 L170.39 165.98 L170.49 165.89 L170.59 165.79 L170.68 165.69 L170.78 165.60 L170.88 165.50 L170.98 165.40 L171.07 165.31 L171.17 165.21 L171.27 165.11 L171.37 165.01 L171.46 164.92 L171.56 164.82 L171.66 164.72 L171.76 164.62 L171.85 164.52 L171.95 164.42 L172.05 164.32 L172.14 164.22 L172.24 164.12 L172.34 164.02 L172.44 163.92 L172.53 163.82 L172.63 163.71 L172.73 163.61 L172.83 163.50 L172.92 163.39 L173.02 163.29 L173.12 163.18 L173.22 163.07 L173.31 162.95 L173.41 162.84 L173.51 162.72 L173.61 162.60 L173.70 162.48 L173.80 162.36 L173.90 162.23 L174.00 162.11 L174.09 161.98 L174.19 161.85 L174.29 161.72 L174.39 161.59 L174.48 161.46 L174.58 161.33 L174.68 161.19 L174.77 161.06 L174.87 160.92 L174.97 160.78 L175.07 160.64 L175.16 160.50 L175.26 160.36 L175.36 160.23 L175.46 160.08 L175.55 159.94 L175.65 159.80 L175.75 159.66 L175.85 159.52 L175.94 159.38 L176.04 159.24 L176.14 159.10 L176.24 158.96 L176.33 158.82 L176.43 158.68 L176.53 158.54 L176.63 158.40 L176.72 158.26 L176.82 158.12 L176.92 157.98 L177.01 157.85 L177.11 157.71 L177.21 157.58 L177.31 157.44 L177.40 157.31 L177.50 157.18 L177.60 157.05 L177.70 156.92 L177.79 156.80 L177.89 156.67 L177.99 156.55 L178.09 156.42 L178.18 156.30 L178.28 156.19 L178.38 156.07 L178.48 155.96 L178.57 155.84 L178.67 155.73 L178.77 155.62 L178.87 155.52 L178.96 155.42 L179.06 155.32 L179.16 155.22 L179.25 155.12 L179.35 155.03 L179.45 154.94 L179.55 154.85 L179.64 154.77 L179.74 154.69 L179.84 154.61 L179.94 154.53 L180.03 154.44 L180.13 154.36 L180.23 154.28 L180.33 154.20 L180.42 154.11 L180.52 154.03 L180.62 153.95 L180.72 153.86 L180.81 153.78 L180.91 153.70 L181.01 153.62 L181.11 153.53 L181.20 153.45 L181.30 153.37 L181.40 153.29 L181.50 153.21 L181.59 153.13 L181.69 153.06 L181.79 152.98 L181.88 152.90 L181.98 152.83 L182.08 152.76 L182.18 152.69 L182.27 152.62 L182.37 152.55 L182.47 152.48 L182.57 152.42 L182.66 152.35 L182.76 152.29 L182.86 152.23 L182.96 152.18 L183.05 152.12 L183.15 152.07 L183.25 152.02 L183.35 151.97 L183.44 151.93 L183.54 151.89 L183.64 151.85 L183.74 151.81 L183.83 151.78 L183.93 151.75 L184.03 151.72 L184.12 151.70 L184.22 151.68 L184.32 151.66 L184.42 151.65 L184.51 151.64 L184.61 151.63 L184.71 151.63 L184.81 151.64 L184.90 151.66 L185.00 151.70 L185.10 151.75 L185.20 151.82 L185.29 151.90 L185.39 151.99 L185.49 152.09 L185.59 152.20 L185.68 152.33 L185.78 152.46 L185.88 152.60 L185.98 152.75 L186.07 152.90 L186.17 153.07 L186.27 153.23 L186.37 153.40 L186.46 153.58 L186.56 153.76 L186.66 153.94 L186.75 154.13 L186.85 154.31 L186.95 154.50 L187.05 154.69 L187.14 154.88 L187.24 155.09 L187.34 155.32 L187.44 155.56 L187.53 155.81 L187.63 156.08 L187.73 156.36 L187.83 156.66 L187.92 156.97 L188.02 157.29 L188.12 157.63 L188.22 157.98 L188.31 158.33 L188.41 158.70 L188.51 159.08 L188.61 159.47 L188.70 159.87 L188.80 160.28 L188.90 160.70 L189.00 161.13 L189.09 161.56 L189.19 162.00 L189.29 162.45 L189.38 162.91 L189.48 163.37 L189.58 163.84 L189.68 164.32 L189.77 164.80 L189.87 165.28 L189.97 165.77 L190.07 166.27 L190.16 166.76 L190.26 167.26 L190.36 167.76 L190.46 168.27 L190.55 168.79 L190.65 169.35 L190.75 169.94 L190.85 170.55 L190.94 171.19 L191.04 171.86 L191.14 172.55 L191.24 173.26 L191.33 173.99 L191.43 174.74 L191.53 175.51 L191.62 176.29 L191.72 177.08 L191.82 177.88 L191.92 178.69 L192.01 179.50 L192.11 180.32 L192.21 181.14 L192.31 181.97 L192.40 182.79 L192.50 183.61 L192.60 184.43 L192.70 185.23 L192.79 186.03 L192.89 186.82 L192.99 187.60 L193.09 188.36 L193.18 189.11 L193.28 189.84 L193.38 190.55 L193.48 191.24 L193.57 191.90 L193.67 192.54 L193.77 193.16 L193.87 193.74 L193.96 194.31 L194.06 194.86 L194.16 195.42 L194.25 195.96 L194.35 196.50 L194.45 197.03 L194.55 197.55 L194.64 198.07 L194.74 198.58 L194.84 199.08 L194.94 199.58 L195.03 200.06 L195.13 200.54 L195.23 201.01 L195.33 201.47 L195.42 201.93 L195.52 202.37 L195.62 202.81 L195.72 203.24 L195.81 203.66 L195.91 204.07 L196.01 204.47 L196.11 204.87 L196.20 205.25 L196.30 205.63 L196.40 205.25 L196.49 204.87 L196.59 204.47 L196.69 204.07 L196.79 203.66 L196.88 203.24 L196.98 202.81 L197.08 202.37 L197.18 201.93 L197.27 201.47 L197.37 201.01 L197.47 200.54 L197.57 200.06 L197.66 199.58 L197.76 199.08 L197.86 198.58 L197.96 198.07 L198.05 197.55 L198.15 197.03 L198.25 196.50 L198.35 195.96 L198.44 195.42 L198.54 194.86 L198.64 194.31 L198.74 193.74 L198.83 193.16 L198.93 192.54 L199.03 191.90 L199.12 191.24 L199.22 190.55 L199.32 189.84 L199.42 189.11 L199.51 188.36 L199.61 187.60 L199.71 186.82 L199.81 186.03 L199.90 185.23 L200.00 184.43 L200.10 183.61 L200.20 182.79 L200.29 181.97 L200.39 181.14 L200.49 180.32 L200.59 179.50 L200.68 178.69 L200.78 177.88 L200.88 177.08 L200.98 176.29 L201.07 175.51 L201.17 174.74 L201.27 173.99 L201.36 173.26 L201.46 172.55 L201.56 171.86 L201.66 171.19 L201.75 170.55 L201.85 169.94 L201.95 169.35 L202.05 168.79 L202.14 168.27 L202.24 167.76 L202.34 167.26 L202.44 166.76 L202.53 166.27 L202.63 165.77 L202.73 165.28 L202.83 164.80 L202.92 164.32 L203.02 163.84 L203.12 163.37 L203.22 162.91 L203.31 162.45 L203.41 162.00 L203.51 161.56 L203.61 161.13 L203.70 160.70 L203.80 160.28 L203.90 159.87 L203.99 159.47 L204.09 159.08 L204.19 158.70 L204.29 158.33 L204.38 157.98 L204.48 157.63 L204.58 157.29 L204.68 156.97 L204.77 156.66 L204.87 156.36 L204.97 156.08 L205.07 155.81 L205.16 155.56 L205.26 155.32 L205.36 155.09 L205.46 154.88 L205.55 154.69 L205.65 154.50 L205.75 154.31 L205.85 154.13 L205.94 153.94 L206.04 153.76 L206.14 153.58 L206.23 153.40 L206.33 153.23 L206.43 153.07 L206.53 152.90 L206.62 152.75 L206.72 152.60 L206.82 152.46 L206.92 152.33 L207.01 152.20 L207.11 152.09 L207.21 151.99 L207.31 151.90 L207.40 151.82 L207.50 151.75 L207.60 151.70 L207.70 151.66 L207.79 151.64 L207.89 151.63 L207.99 151.63 L208.09 151.64 L208.18 151.65 L208.28 151.66 L208.38 151.68 L208.48 151.70 L208.57 151.72 L208.67 151.75 L208.77 151.78 L208.86 151.81 L208.96 151.85 L209.06 151.89 L209.16 151.93 L209.25 151.97 L209.35 152.02 L209.45 152.07 L209.55 152.12 L209.64 152.18 L209.74 152.23 L209.84 152.29 L209.94 152.35 L210.03 152.42 L210.13 152.48 L210.23 152.55 L210.33 152.62 L210.42 152.69 L210.52 152.76 L210.62 152.83 L210.72 152.90 L210.81 152.98 L210.91 153.06 L211.01 153.13 L211.10 153.21 L211.20 153.29 L211.30 153.37 L211.40 153.45 L211.49 153.53 L211.59 153.62 L211.69 153.70 L211.79 153.78 L211.88 153.86 L211.98 153.95 L212.08 154.03 L212.18 154.11 L212.27 154.20 L212.37 154.28 L212.47 154.36 L212.57 154.44 L212.66 154.53 L212.76 154.61 L212.86 154.69 L212.96 154.77 L213.05 154.85 L213.15 154.94 L213.25 155.03 L213.35 155.12 L213.44 155.22 L213.54 155.32 L213.64 155.42 L213.73 155.52 L213.83 155.62 L213.93 155.73 L214.03 155.84 L214.12 155.96 L214.22 156.07 L214.32 156.19 L214.42 156.30 L214.51 156.42 L214.61 156.55 L214.71 156.67 L214.81 156.80 L214.90 156.92 L215.00 157.05 L215.10 157.18 L215.20 157.31 L215.29 157.44 L215.39 157.58 L215.49 157.71 L215.59 157.85 L215.68 157.98 L215.78 158.12 L215.88 158.26 L215.97 158.40 L216.07 158.54 L216.17 158.68 L216.27 158.82 L216.36 158.96 L216.46 159.10 L216.56 159.24 L216.66 159.38 L216.75 159.52 L216.85 159.66 L216.95 159.80 L217.05 159.94 L217.14 160.08 L217.24 160.23 L217.34 160.36 L217.44 160.50 L217.53 160.64 L217.63 160.78 L217.73 160.92 L217.83 161.06 L217.92 161.19 L218.02 161.33 L218.12 161.46 L218.22 161.59 L218.31 161.72 L218.41 161.85 L218.51 161.98 L218.60 162.11 L218.70 162.23 L218.80 162.36 L218.90 162.48 L218.99 162.60 L219.09 162.72 L219.19 162.84 L219.29 162.95 L219.38 163.07 L219.48 163.18 L219.58 163.29 L219.68 163.39 L219.77 163.50 L219.87 163.61 L219.97 163.71 L220.07 163.82 L220.16 163.92 L220.26 164.02 L220.36 164.12 L220.46 164.22 L220.55 164.32 L220.65 164.42 L220.75 164.52 L220.84 164.62 L220.94 164.72 L221.04 164.82 L221.14 164.92 L221.23 165.01 L221.33 165.11 L221.43 165.21 L221.53 165.31 L221.62 165.40 L221.72 165.50 L221.82 165.60 L221.92 165.69 L222.01 165.79 L222.11 165.89 L222.21 165.98 L222.31 166.08 L222.40 166.18 L222.50 166.28 L222.60 166.37 L222.70 166.47 L222.79 166.57 L222.89 166.67 L222.99 166.77 L223.09 166.87 L223.18 166.97 L223.28 167.07 L223.38 167.17 L223.47 167.27 L223.57 167.37 L223.67 167.47 L223.77 167.57 L223.86 167.68 L223.96 167.78 L224.06 167.88 L224.16 167.98 L224.25 168.08 L224.35 168.18 L224.45 168.28 L224.55 168.38 L224.64 168.49 L224.74 168.59 L224.84 168.69 L224.94 168.79 L225.03 168.89 L225.13 168.99 L225.23 169.10 L225.33 169.20 L225.42 169.30 L225.52 169.40 L226.49 170.42 L227.47 171.44 L228.44 172.45 L229.42 173.45 L230.39 174.43 L231.36 175.38 L232.34 176.31 L233.31 177.21 L234.29 178.08 L235.26 178.95 L236.23 179.80 L237.21 180.63 L238.18 181.45 L239.16 182.25 L240.13 183.04 L241.10 183.80 L242.08 184.55" stroke="#ff00ff" stroke-width="1"/>
<path d="M50.20 225.20 L51.17 225.11 L52.15 225.01 L53.12 224.90 L54.10 224.79 L55.07 224.67 L56.04 224.55 L57.02 224.42 L57.99 224.29 L58.97 224.15 L59.94 224.01 L60.91 223.86 L61.89 223.71 L62.86 223.55 L63.84 223.39 L64.81 223.23 L65.78 223.06 L66.76 222.89 L67.73 222.72 L68.71 222.54 L69.68 222.36 L70.65 222.18 L71.63 221.99 L72.60 221.80 L73.58 221.61 L74.55 221.42 L75.52 221.22 L76.50 221.01 L77.47 220.80 L78.45 220.57 L79.42 220.34 L80.39 220.11 L81.37 219.86 L82.34 219.61 L83.32 219.35 L84.29 219.09 L85.26 218.82 L86.24 218.54 L87.21 218.26 L88.19 217.98 L89.16 217.69 L90.13 217.39 L91.11 217.10 L92.08 216.80 L93.06 216.49 L94.03 216.19 L95.00 215.88 L95.98 215.56 L96.95 215.24 L97.93 214.90 L98.90 214.56 L99.87 214.21 L100.85 213.86 L101.82 213.49 L102.80 213.12 L103.77 212.74 L104.74 212.36 L105.72 211.97 L106.69 211.57 L107.67 211.17 L108.64 210.77 L109.61 210.36 L110.59 209.95 L111.56 209.52 L112.54 209.10 L113.51 208.66 L114.48 208.22 L115.46 207.77 L116.43 207.31 L117.41 206.85 L118.38 206.39 L119.35 205.91 L120.33 205.44 L121.30 204.95 L122.28 204.47 L123.25 203.98 L124.22 203.48 L125.20 202.98 L126.17 202.48 L127.15 201.97 L128.12 201.46 L129.09 200.95 L130.07 200.42 L131.04 199.89 L132.02 199.35 L132.99 198.80 L133.96 198.25 L134.94 197.69 L135.91 197.12 L136.89 196.55 L137.86 195.97 L138.83 195.40 L139.81 194.81 L140.78 194.23 L141.76 193.64 L142.73 193.04 L143.70 192.44 L144.68 191.83 L145.65 191.21 L146.63 190.59 L147.60 189.97 L148.57 189.34 L149.55 188.71 L150.52 188.08 L151.50 187.44 L152.47 186.79 L153.44 186.14 L154.42 185.49 L155.39 184.83 L156.37 184.17 L157.34 183.50 L158.31 182.82 L159.29 182.15 L160.26 181.47 L161.24 180.78 L162.21 180.09 L163.18 179.40 L164.16 178.70 L165.13 177.99 L166.11 177.28 L167.08 176.57 L167.18 176.50 L167.27 176.43 L167.37 176.36 L167.47 176.29 L167.57 176.21 L167.66 176.14 L167.76 176.07 L167.86 176.00 L167.96 175.93 L168.05 175.86 L168.15 175.78 L168.25 175.71 L168.35 175.64 L168.44 175.57 L168.54 175.50 L168.64 175.43 L168.74 175.35 L168.83 175.28 L168.93 175.21 L169.03 175.14 L169.13 175.07 L169.22 174.99 L169.32 174.92 L169.42 174.85 L169.52 174.78 L169.61 174.71 L169.71 174.63 L169.81 174.56 L169.90 174.49 L170.00 174.42 L170.10 174.35 L170.20 174.28 L170.29 174.21 L170.39 174.13 L170.49 174.06 L170.59 173.99 L170.68 173.92 L170.78 173.85 L170.88 173.78 L170.98 173.72 L171.07 173.65 L171.17 173.58 L171.27 173.51 L171.37 173.44 L171.46 173.37 L171.56 173.30 L171.66 173.23 L171.76 173.16 L171.85 173.09 L171.95 173.02 L172.05 172.95 L172.14 172.88 L172.24 172.80 L172.34 172.73 L172.44 172.66 L172.53 172.59 L172.63 172.52 L172.73 172.44 L172.83 172.37 L172.92 172.30 L173.02 172.22 L173.12 172.15 L173.22 172.07 L173.31 172.00 L173.41 171.92 L173.51 171.84 L173.61 171.76 L173.70 171.68 L173.80 171.61 L173.90 171.53 L174.00 171.44 L174.09 171.36 L174.19 171.28 L174.29 171.20 L174.39 171.11 L174.48 171.03 L174.58 170.94 L174.68 170.85 L174.77 170.76 L174.87 170.66 L174.97 170.57 L175.07 170.47 L175.16 170.36 L175.26 170.26 L175.36 170.15 L175.46 170.05 L175.55 169.94 L175.65 169.83 L175.75 169.72 L175.85 169.60 L175.94 169.49 L176.04 169.38 L176.14 169.26 L176.24 169.15 L176.33 169.03 L176.43 168.92 L176.53 168.80 L176.63 168.69 L176.72 168.57 L176.82 168.46 L176.92 168.35 L177.01 168.23 L177.11 168.12 L177.21 168.01 L177.31 167.91 L177.40 167.80 L177.50 167.70 L177.60 167.59 L177.70 167.49 L177.79 167.39 L177.89 167.30 L177.99 167.21 L178.09 167.11 L178.18 167.03 L178.28 166.94 L178.38 166.86 L178.48 166.78 L178.57 166.71 L178.67 166.64 L178.77 166.57 L178.87 166.51 L178.96 166.44 L179.06 166.37 L179.16 166.31 L179.25 166.24 L179.35 166.17 L179.45 166.11 L179.55 166.04 L179.64 165.97 L179.74 165.91 L179.84 165.84 L179.94 165.77 L180.03 165.71 L180.13 165.65 L180.23 165.59 L180.33 165.53 L180.42 165.47 L180.52 165.41 L180.62 165.36 L180.72 165.30 L180.81 165.25 L180.91 165.21 L181.01 165.16 L181.11 165.12 L181.20 165.08 L181.30 165.04 L181.40 165.01 L181.50 164.98 L181.59 164.95 L181.69 164.93 L181.79 164.91 L181.88 164.89 L181.98 164.88 L182.08 164.88 L182.18 164.87 L182.27 164.88 L182.37 164.89 L182.47 164.92 L182.57 164.96 L182.66 165.00 L182.76 165.06 L182.86 165.12 L182.96 165.19 L183.05 165.27 L183.15 165.36 L183.25 165.45 L183.35 165.55 L183.44 165.66 L183.54 165.78 L183.64 165.90 L183.74 166.02 L183.83 166.16 L183.93 166.29 L184.03 166.44 L184.12 166.58 L184.22 166.73 L184.32 166.89 L184.42 167.05 L184.51 167.21 L184.61 167.38 L184.71 167.54 L184.81 167.71 L184.90 167.89 L185.00 168.06 L185.10 168.24 L185.20 168.41 L185.29 168.59 L185.39 168.77 L185.49 168.94 L185.59 169.12 L185.68 169.30 L185.78 169.50 L185.88 169.71 L185.98 169.94 L186.07 170.18 L186.17 170.43 L186.27 170.69 L186.37 170.96 L186.46 171.24 L186.56 171.54 L186.66 171.84 L186.75 172.15 L186.85 172.46 L186.95 172.79 L187.05 173.12 L187.14 173.46 L187.24 173.80 L187.34 174.15 L187.44 174.50 L187.53 174.85 L187.63 175.21 L187.73 175.57 L187.83 175.93 L187.92 176.29 L188.02 176.66 L188.12 177.02 L188.22 177.38 L188.31 177.74 L188.41 178.10 L188.51 178.46 L188.61 178.81 L188.70 179.17 L188.80 179.52 L188.90 179.88 L189.00 180.23 L189.09 180.59 L189.19 180.95 L189.29 181.32 L189.38 181.68 L189.48 182.05 L189.58 182.42 L189.68 182.80 L189.77 183.18 L189.87 183.56 L189.97 183.95 L190.07 184.34 L190.16 184.75 L190.26 185.15 L190.36 185.56 L190.46 185.98 L190.55 186.41 L190.65 186.85 L190.75 187.29 L190.85 187.74 L190.94 188.20 L191.04 188.67 L191.14 189.15 L191.24 189.64 L191.33 190.14 L191.43 190.65 L191.53 191.17 L191.62 191.70 L191.72 192.25 L191.82 192.83 L191.92 193.43 L192.01 194.05 L192.11 194.69 L192.21 195.36 L192.31 196.04 L192.40 196.74 L192.50 197.46 L192.60 198.19 L192.70 198.94 L192.79 199.70 L192.89 200.47 L192.99 201.26 L193.09 202.06 L193.18 202.86 L193.28 203.68 L193.38 204.50 L193.48 205.33 L193.57 206.16 L193.67 207.00 L193.77 207.84 L193.87 208.68 L193.96 209.58 L194.06 210.59 L194.16 211.68 L194.25 212.84 L194.35 214.04 L194.45 215.27 L194.55 216.51 L194.64 217.74 L194.74 218.93 L194.84 220.08 L194.94 221.16 L195.03 222.16 L195.13 223.05 L195.23 223.81 L195.33 224.43 L195.42 224.88 L195.52 225.15 L195.62 225.32 L195.72 225.48 L195.81 225.63 L195.91 225.75 L196.01 225.86 L196.11 225.93 L196.20 225.98 L196.30 226.00 L196.40 225.98 L196.49 225.93 L196.59 225.86 L196.69 225.75 L196.79 225.63 L196.88 225.48 L196.98 225.32 L197.08 225.15 L197.18 224.88 L197.27 224.43 L197.37 223.81 L197.47 223.05 L197.57 222.16 L197.66 221.16 L197.76 220.08 L197.86 218.93 L197.96 217.74 L198.05 216.51 L198.15 215.27 L198.25 214.04 L198.35 212.84 L198.44 211.68 L198.54 210.59 L198.64 209.58 L198.74 208.68 L198.83 207.84 L198.93 207.00 L199.03 206.16 L199.12 205.33 L199.22 204.50 L199.32 203.68 L199.42 202.86 L199.51 202.06 L199.61 201.26 L199.71 200.47 L199.81 199.70 L199.90 198.94 L200.00 198.19 L200.10 197.46 L200.20 196.74 L200.29 196.04 L200.39 195.36 L200.49 194.69 L200.59 194.05 L200.68 193.43 L200.78 192.83 L200.88 192.25 L200.98 191.70 L201.07 191.17 L201.17 190.65 L201.27 190.14 L201.36 189.64 L201.46 189.15 L201.56 188.67 L201.66 188.20 L201.75 187.74 L201.85 187.29 L201.95 186.85 L202.05 186.41 L202.14 185.98 L202.24 185.56 L202.34 185.15 L202.44 184.75 L202.53 184.34 L202.63 183.95 L202.73 183.56 L202.83 183.18 L202.92 182.80 L203.02 182.42 L203.12 182.05 L203.22 181.68 L203.31 181.32 L203.41 180.95 L203.51 180.59 L203.61 180.23 L203.70 179.88 L203.80 179.52 L203.90 179.17 L203.99 178.81 L204.09 178.46 L204.19 178.10 L204.29 177.74 L204.38 177.38 L204.48 177.02 L204.58 176.66 L204.68 176.29 L204.77 175.93 L204.87 175.57 L204.97 175.21 L205.07 174.85 L205.16 174.50 L205.26 174.15 L205.36 173.80 L205.46 173.46 L205.55 173.12 L205.65 172.79 L205.75 172.46 L205.85 172.15 L205.94 171.84 L206.04 171.54 L206.14 171.24 L206.23 170.96 L206.33 170.69 L206.43 170.43 L206.53 170.18 L206.62 169.94 L206.72 169.71 L206.82 169.50 L206.92 169.30 L207.01 169.12 L207.11 168.94 L207.21 168.77 L207.31 168.59 L207.40 168.41 L207.50 168.24 L207.60 168.06 L207.70 167.89 L207.79 167.71 L207.89 167.54 L207.99 167.38 L208.09 167.21 L208.18 167.05 L208.28 166.89 L208.38 166.73 L208.48 166.58 L208.57 166.44 L208.67 166.29 L208.77 166.16 L208.86 166.02 L208.96 165.90 L209.06 165.78 L209.16 165.66 L209.25 165.55 L209.35 165.45 L209.45 165.36 L209.55 165.27 L209.64 165.19 L209.74 165.12 L209.84 165.06 L209.94 165.00 L210.03 164.96 L210.13 164.92 L210.23 164.89 L210.33 164.88 L210.42 164.87 L210.52 164.88 L210.62 164.88 L210.72 164.89 L210.81 164.91 L210.91 164.93 L211.01 164.95 L211.10 164.98 L211.20 165.01 L211.30 165.04 L211.40 165.08 L211.49 165.12 L211.59 165.16 L211.69 165.21 L211.79 165.25 L211.88 165.30 L211.98 165.36 L212.08 165.41 L212.18 165.47 L212.27 165.53 L212.37 165.59 L212.47 165.65 L212.57 165.71 L212.66 165.77 L212.76 165.84 L212.86 165.91 L212.96 165.97 L213.05 166.04 L213.15 166.11 L213.25 166.17 L213.35 166.24 L213.44 166.31 L213.54 166.37 L213.64 166.44 L213.73 166.51 L213.83 166.57 L213.93 166.64 L214.03 166.71 L214.12 166.78 L214.22 166.86 L214.32 166.94 L214.42 167.03 L214.51 167.11 L214.61 167.21 L214.71 167.30 L214.81 167.39 L214.90 167.49 L215.00 167.59 L215.10 167.70 L215.20 167.80 L215.29 167.91 L215.39 168.01 L215.49 168.12 L215.59 168.23 L215.68 168.35 L215.78 168.46 L215.88 168.57 L215.97 168.69 L216.07 168.80 L216.17 168.92 L216.27 169.03 L216.36 169.15 L216.46 169.26 L216.56 169.38 L216.66 169.49 L216.75 169.60 L216.85 169.72 L216.95 169.83 L217.05 169.94 L217.14 170.05 L217.24 170.15 L217.34 170.26 L217.44 170.36 L217.53 170.47 L217.63 170.57 L217.73 170.66 L217.83 170.76 L217.92 170.85 L218.02 170.94 L218.12 171.03 L218.22 171.11 L218.31 171.20 L218.41 171.28 L218.51 171.36 L218.60 171.44 L218.70 171.53 L218.80 171.61 L218.90 171.68 L218.99 171.76 L219.09 171.84 L219.19 171.92 L219.29 172.00 L219.38 172.07 L219.48 172.15 L219.58 172.22 L219.68 172.30 L219.77 172.37 L219.87 172.44 L219.97 172.52 L220.07 172.59 L220.16 172.66 L220.26 172.73 L220.36 172.80 L220.46 172.88 L220.55 172.95 L220.65 173.02 L220.75 173.09 L220.84 173.16 L220.94 173.23 L221.04 173.30 L221.14 173.37 L221.23 173.44 L221.33 173.51 L221.43 173.58 L221.53 173.65 L221.62 173.72 L221.72 173.78 L221.82 173.85 L221.92 173.92 L222.01 173.99 L222.11 174.06 L222.21 174.13 L222.31 174.21 L222.40 174.28 L222.50 174.35 L222.60 174.42 L222.70 174.49 L222.79 174.56 L222.89 174.63 L222.99 174.71 L223.09 174.78 L223.18 174.85 L223.28 174.92 L223.38 174.99 L223.47 175.07 L223.57 175.14 L223.67 175.21 L223.77 175.28 L223.86 175.35 L223.96 175.43 L224.06 175.50 L224.16 175.57 L224.25 175.64 L224.35 175.71 L224.45 175.78 L224.55 175.86 L224.64 175.93 L224.74 176.00 L224.84 176.07 L224.94 176.14 L225.03 176.21 L225.13 176.29 L225.23 176.36 L225.33 176.43 L225.42 176.50 L225.52 176.57 L226.49 177.28 L227.47 177.99 L228.44 178.70 L229.42 179.40 L230.39 180.09 L231.36 180.78 L232.34 181.47 L233.31 182.15 L234.29 182.82 L235.26 183.50 L236.23 184.17 L237.21 184.83 L238.18 185.49 L239.16 186.14 L240.13 186.79 L241.10 187.44 L242.08 188.08 L243.05 188.71 L244.03 189.34 L245.00 189.97 L245.97 190.59 L246.95 191.21 L247.92 191.83 L248.90 192.44 L249.87 193.04 L250.84 193.64 L251.82 194.23 L252.79 194.81 L253.77 195.40 L254.74 195.97 L255.71 196.55 L256.69 197.12 L257.66 197.69 L258.64 198.25 L259.61 198.80 L260.58 199.35 L261.56 199.89 L262.53 200.42 L263.51 200.95 L264.48 201.46 L265.45 201.97 L266.43 202.48 L267.40 202.98 L268.38 203.48 L269.35 203.98 L270.32 204.47 L271.30 204.95 L272.27 205.44 L273.25 205.91 L274.22 206.39 L275.19 206.85 L276.17 207.31 L277.14 207.77 L278.12 208.22 L279.09 208.66 L280.06 209.10 L281.04 209.52 L282.01 209.95 L282.99 210.36 L283.96 210.77 L284.93 211.17 L285.91 211.57 L286.88 211.97 L287.86 212.36 L288.83 212.74 L289.80 213.12 L290.78 213.49 L291.75 213.86 L292.73 214.21 L293.70 214.56 L294.67 214.90 L295.65 215.24 L296.62 215.56 L297.60 215.88 L298.57 216.19 L299.54 216.49 L300.52 216.80 L301.49 217.10 L302.47 217.39 L303.44 217.69 L304.41 217.98 L305.39 218.26 L306.36 218.54 L307.34 218.82 L308.31 219.09 L309.28 219.35 L310.26 219.61 L311.23 219.86 L312.21 220.11 L313.18 220.34 L314.15 220.57 L315.13 220.80 L316.10 221.01 L317.08 221.22 L318.05 221.42 L319.02 221.61 L320.00 221.80 L320.97 221.99 L321.95 222.18 L322.92 222.36 L323.89 222.54 L324.87 222.72 L325.84 222.89 L326.82 223.06 L327.79 223.23 L328.76 223.39 L329.74 223.55 L330.71 223.71 L331.69 223.86 L332.66 224.01 L333.63 224.15 L334.61 224.29 L335.58 224.42 L336.56 224.55 L337.53 224.67 L338.50 224.79 L339.48 224.90 L340.45 225.01 L341.43 225.11 L342.40 225.20" stroke="#008000" stroke-width="3" stroke-dasharray="14 5"/>
</g>
<g stroke="#000" fill="none">
<line x1="45" y1="15.5" x2="343" y2="15.5" stroke-width="1.1"/>
<line x1="342.5" y1="15" x2="342.5" y2="233" stroke-width="1.1"/>
<line x1="49" y1="232.5" x2="343" y2="232.5" stroke-width="1.1"/>
<line x1="50" y1="15" x2="50" y2="237" stroke="#484848" stroke-width="2.2"/>
<line x1="45" y1="227.70" x2="50" y2="227.70" stroke-width="1"/>
<line x1="47" y1="206.47" x2="50" y2="206.47" stroke-width="1"/>
<line x1="45" y1="185.25" x2="50" y2="185.25" stroke-width="1"/>
<line x1="47" y1="164.02" x2="50" y2="164.02" stroke-width="1"/>
<line x1="45" y1="142.80" x2="50" y2="142.80" stroke-width="1"/>
<line x1="47" y1="121.57" x2="50" y2="121.57" stroke-width="1"/>
<line x1="45" y1="100.35" x2="50" y2="100.35" stroke-width="1"/>
<line x1="47" y1="79.12" x2="50" y2="79.12" stroke-width="1"/>
<line x1="45" y1="57.90" x2="50" y2="57.90" stroke-width="1"/>
<line x1="47" y1="36.67" x2="50" y2="36.67" stroke-width="1"/>
<line x1="45" y1="15.45" x2="50" y2="15.45" stroke-width="1"/>
<line x1="50.20" y1="232" x2="50.20" y2="237.00" stroke-width="1"/>
<line x1="74.55" y1="232" x2="74.55" y2="235.00" stroke-width="1"/>
<line x1="98.90" y1="232" x2="98.90" y2="237.00" stroke-width="1"/>
<line x1="123.25" y1="232" x2="123.25" y2="235.00" stroke-width="1"/>
<line x1="147.60" y1="232" x2="147.60" y2="237.00" stroke-width="1"/>
<line x1="171.95" y1="232" x2="171.95" y2="235.00" stroke-width="1"/>
<line x1="196.30" y1="232" x2="196.30" y2="237.00" stroke-width="1"/>
<line x1="220.65" y1="232" x2="220.65" y2="235.00" stroke-width="1"/>
<line x1="245.00" y1="232" x2="245.00" y2="237.00" stroke-width="1"/>
<line x1="269.35" y1="232" x2="269.35" y2="235.00" stroke-width="1"/>
<line x1="293.70" y1="232" x2="293.70" y2="237.00" stroke-width="1"/>
<line x1="318.05" y1="232" x2="318.05" y2="235.00" stroke-width="1"/>
<line x1="342.40" y1="232" x2="342.40" y2="237.00" stroke-width="1"/>
</g>
<text class="sf" x="43" y="231.00" text-anchor="end">0</text>
<text class="sf" x="43" y="188.55" text-anchor="end">50</text>
<text class="sf" x="43" y="146.10" text-anchor="end">100</text>
<text class="sf" x="43" y="103.65" text-anchor="end">150</text>
<text class="sf" x="43" y="61.20" text-anchor="end">200</text>
<text class="sf" x="43" y="18.75" text-anchor="end">250</text>
<text class="sf" x="49.00" y="250" text-anchor="middle">-15</text>
<text class="sf" x="97.70" y="250" text-anchor="middle">-10</text>
<text class="sf" x="146.40" y="250" text-anchor="middle">-5</text>
<text class="sf" x="196.30" y="250" text-anchor="middle">0</text>
<text class="sf" x="245.00" y="250" text-anchor="middle">5</text>
<text class="sf" x="293.70" y="250" text-anchor="middle">10</text>
<text class="sf" x="342.40" y="250" text-anchor="middle">15</text>
<text class="ss" font-size="16" transform="translate(198.40 269.00) scale(1.055 1)" text-anchor="middle" >H(kA/m)</text>
<text class="ss" font-size="16" transform="translate(15.8,113.6) rotate(-90) scale(1.026 1)" text-anchor="middle">ΔZ/Z(%)</text>
<text class="ss" font-size="22" transform="translate(58.00 43.00) scale(1.110 1)" text-anchor="start" >(a)</text>
<text class="ss" font-size="16" transform="translate(64.40 91.00) scale(1.020 1)" text-anchor="start" ><tspan font-style="italic">T</tspan><tspan font-style="italic" font-size="10" dy="7.3">ann</tspan><tspan dy="-7.3">=300 </tspan><tspan dx="-1" dy="-1.3" stroke-width="0">°</tspan><tspan dx="-0.6" dy="1.3">C</tspan></text>
<text class="ss" font-size="16" transform="translate(63.80 118.50) scale(1.043 1)" text-anchor="start" ><tspan font-family="Liberation Serif" font-style="italic" font-size="17">σ</tspan><tspan font-style="italic" font-size="10" dy="6.3">m</tspan><tspan dy="-6.3">=472 MPa</tspan></text>
<line x1="230" y1="31.6" x2="269" y2="31.6" stroke="#00ff00" stroke-width="3" stroke-dasharray="10 8.5"/>
<text class="ss" font-size="16" transform="translate(273.40 37.60) scale(1.040 1)" text-anchor="start" >80 MHz</text>
<line x1="230" y1="52.5" x2="269" y2="52.5" stroke="#555" stroke-width="1"/>
<text class="ss" font-size="16" transform="translate(273.40 58.50) scale(1.040 1)" text-anchor="start" >100 MHz</text>
<line x1="230" y1="72.9" x2="269" y2="72.9" stroke="#ff0000" stroke-width="2.6" stroke-dasharray="3.6 7.6"/>
<text class="ss" font-size="16" transform="translate(273.40 78.90) scale(1.040 1)" text-anchor="start" >150 MHz</text>
<line x1="230" y1="93.6" x2="269" y2="93.6" stroke="#0000ff" stroke-width="3" stroke-dasharray="10 8.5"/>
<text class="ss" font-size="16" transform="translate(273.40 99.60) scale(1.040 1)" text-anchor="start" >200 MHz</text>
<line x1="230" y1="114.1" x2="269" y2="114.1" stroke="#ff00ff" stroke-width="1"/>
<text class="ss" font-size="16" transform="translate(273.40 120.10) scale(1.040 1)" text-anchor="start" >500 MHz</text>
<line x1="230" y1="134.7" x2="269" y2="134.7" stroke="#008000" stroke-width="3" stroke-dasharray="10 8.5"/>
<text class="ss" font-size="16" transform="translate(273.40 140.70) scale(1.040 1)" text-anchor="start" >700 MHz</text>
<g clip-path="url(#cb)" fill="none" stroke-linejoin="round">
<line x1="196.4" y1="298" x2="196.4" y2="505" stroke="#000" stroke-width="1"/>
<path d="M53.15 499.08 L54.10 499.06 L55.06 499.04 L56.01 499.02 L56.97 498.99 L57.92 498.97 L58.88 498.94 L59.83 498.91 L60.79 498.87 L61.74 498.84 L62.70 498.80 L63.66 498.76 L64.61 498.72 L65.56 498.68 L66.52 498.64 L67.47 498.59 L68.43 498.55 L69.38 498.50 L70.34 498.45 L71.29 498.40 L72.25 498.35 L73.20 498.30 L74.16 498.25 L75.11 498.20 L76.07 498.15 L77.02 498.09 L77.98 498.04 L78.93 497.98 L79.89 497.92 L80.84 497.86 L81.80 497.79 L82.75 497.73 L83.71 497.66 L84.66 497.59 L85.62 497.52 L86.58 497.44 L87.53 497.36 L88.48 497.28 L89.44 497.20 L90.39 497.11 L91.35 497.02 L92.30 496.93 L93.26 496.83 L94.22 496.73 L95.17 496.63 L96.12 496.53 L97.08 496.42 L98.03 496.31 L98.99 496.20 L99.94 496.08 L100.90 495.96 L101.85 495.83 L102.81 495.70 L103.77 495.56 L104.72 495.41 L105.67 495.26 L106.63 495.10 L107.58 494.93 L108.54 494.76 L109.49 494.58 L110.45 494.40 L111.41 494.20 L112.36 494.01 L113.32 493.80 L114.27 493.59 L115.22 493.38 L116.18 493.16 L117.13 492.93 L118.09 492.69 L119.04 492.45 L120.00 492.21 L120.95 491.95 L121.91 491.70 L122.86 491.43 L123.82 491.16 L124.78 490.89 L125.73 490.61 L126.69 490.32 L127.64 490.02 L128.59 489.72 L129.55 489.40 L130.50 489.05 L131.46 488.67 L132.41 488.27 L133.37 487.84 L134.32 487.40 L135.28 486.93 L136.23 486.45 L137.19 485.96 L138.15 485.45 L139.10 484.92 L140.06 484.39 L141.01 483.85 L141.97 483.27 L142.92 482.66 L143.88 482.03 L144.83 481.36 L145.78 480.66 L146.74 479.94 L147.69 479.19 L148.65 478.42 L149.60 477.61 L150.56 476.77 L151.51 475.89 L152.47 474.98 L153.43 474.02 L154.38 473.02 L155.34 471.99 L156.29 470.91 L157.25 469.78 L158.20 468.61 L159.16 467.39 L160.11 466.11 L161.06 464.77 L162.02 463.38 L162.97 461.92 L163.93 460.40 L164.88 458.82 L165.84 457.19 L166.80 455.53 L167.75 453.81 L167.85 453.64 L167.94 453.46 L168.04 453.28 L168.13 453.11 L168.23 452.93 L168.32 452.75 L168.42 452.57 L168.51 452.39 L168.61 452.21 L168.71 452.03 L168.80 451.84 L168.90 451.66 L168.99 451.47 L169.09 451.29 L169.18 451.10 L169.28 450.91 L169.37 450.72 L169.47 450.53 L169.56 450.34 L169.66 450.15 L169.76 449.95 L169.85 449.76 L169.95 449.56 L170.04 449.37 L170.14 449.17 L170.23 448.97 L170.33 448.77 L170.42 448.56 L170.52 448.36 L170.62 448.16 L170.71 447.95 L170.81 447.74 L170.90 447.53 L171.00 447.32 L171.09 447.11 L171.19 446.90 L171.28 446.69 L171.38 446.47 L171.47 446.25 L171.57 446.03 L171.67 445.81 L171.76 445.59 L171.86 445.37 L171.95 445.14 L172.05 444.92 L172.14 444.69 L172.24 444.46 L172.33 444.22 L172.43 443.99 L172.53 443.76 L172.62 443.52 L172.72 443.28 L172.81 443.04 L172.91 442.80 L173.00 442.55 L173.10 442.31 L173.19 442.06 L173.29 441.81 L173.38 441.56 L173.48 441.31 L173.58 441.05 L173.67 440.79 L173.77 440.53 L173.86 440.27 L173.96 440.01 L174.05 439.74 L174.15 439.48 L174.24 439.21 L174.34 438.94 L174.44 438.66 L174.53 438.39 L174.63 438.11 L174.72 437.83 L174.82 437.55 L174.91 437.26 L175.01 436.97 L175.10 436.68 L175.20 436.39 L175.29 436.08 L175.39 435.77 L175.49 435.46 L175.58 435.14 L175.68 434.81 L175.77 434.48 L175.87 434.14 L175.96 433.80 L176.06 433.45 L176.15 433.09 L176.25 432.73 L176.34 432.37 L176.44 432.00 L176.54 431.63 L176.63 431.25 L176.73 430.86 L176.82 430.47 L176.92 430.08 L177.01 429.68 L177.11 429.28 L177.20 428.87 L177.30 428.46 L177.40 428.04 L177.49 427.62 L177.59 427.20 L177.68 426.77 L177.78 426.34 L177.87 425.90 L177.97 425.46 L178.06 425.02 L178.16 424.57 L178.25 424.12 L178.35 423.66 L178.45 423.21 L178.54 422.75 L178.64 422.28 L178.73 421.81 L178.83 421.34 L178.92 420.87 L179.02 420.39 L179.11 419.91 L179.21 419.43 L179.31 418.95 L179.40 418.46 L179.50 417.97 L179.59 417.48 L179.69 416.98 L179.78 416.49 L179.88 415.99 L179.97 415.49 L180.07 414.98 L180.17 414.48 L180.26 413.97 L180.36 413.46 L180.45 412.95 L180.55 412.44 L180.64 411.93 L180.74 411.41 L180.83 410.90 L180.93 410.38 L181.02 409.86 L181.12 409.34 L181.22 408.82 L181.31 408.30 L181.41 407.78 L181.50 407.25 L181.60 406.73 L181.69 406.20 L181.79 405.68 L181.88 405.15 L181.98 404.63 L182.08 404.10 L182.17 403.56 L182.27 403.01 L182.36 402.45 L182.46 401.89 L182.55 401.32 L182.65 400.74 L182.74 400.16 L182.84 399.56 L182.93 398.97 L183.03 398.36 L183.13 397.76 L183.22 397.14 L183.32 396.52 L183.41 395.90 L183.51 395.27 L183.60 394.64 L183.70 394.01 L183.79 393.37 L183.89 392.73 L183.99 392.09 L184.08 391.44 L184.18 390.79 L184.27 390.14 L184.37 389.49 L184.46 388.84 L184.56 388.19 L184.65 387.53 L184.75 386.88 L184.84 386.22 L184.94 385.57 L185.04 384.92 L185.13 384.26 L185.23 383.60 L185.32 382.94 L185.42 382.28 L185.51 381.61 L185.61 380.94 L185.70 380.27 L185.80 379.60 L185.90 378.92 L185.99 378.24 L186.09 377.56 L186.18 376.88 L186.28 376.19 L186.37 375.50 L186.47 374.81 L186.56 374.11 L186.66 373.41 L186.75 372.71 L186.85 372.01 L186.95 371.30 L187.04 370.59 L187.14 369.87 L187.23 369.16 L187.33 368.44 L187.42 367.71 L187.52 366.98 L187.61 366.25 L187.71 365.52 L187.81 364.78 L187.90 364.04 L188.00 363.29 L188.09 362.54 L188.19 361.79 L188.28 361.02 L188.38 360.25 L188.47 359.46 L188.57 358.67 L188.66 357.88 L188.76 357.07 L188.86 356.26 L188.95 355.44 L189.05 354.62 L189.14 353.79 L189.24 352.96 L189.33 352.12 L189.43 351.28 L189.52 350.44 L189.62 349.60 L189.72 348.75 L189.81 347.91 L189.91 347.06 L190.00 346.22 L190.10 345.37 L190.19 344.53 L190.29 343.68 L190.38 342.84 L190.48 342.01 L190.57 341.17 L190.67 340.34 L190.77 339.52 L190.86 338.69 L190.96 337.88 L191.05 337.07 L191.15 336.27 L191.24 335.47 L191.34 334.68 L191.43 333.90 L191.53 333.13 L191.62 332.37 L191.72 331.59 L191.82 330.75 L191.91 329.86 L192.01 328.95 L192.10 328.01 L192.20 327.06 L192.29 326.11 L192.39 325.16 L192.48 324.23 L192.58 323.33 L192.68 322.47 L192.77 321.66 L192.87 320.90 L192.96 320.21 L193.06 319.60 L193.15 319.08 L193.25 318.66 L193.34 318.34 L193.44 318.15 L193.53 318.08 L193.63 318.26 L193.73 318.79 L193.82 319.64 L193.92 320.80 L194.01 322.25 L194.11 323.97 L194.20 325.94 L194.30 328.15 L194.39 330.57 L194.49 333.18 L194.59 335.96 L194.68 338.90 L194.78 341.98 L194.87 345.17 L194.97 348.46 L195.06 351.83 L195.16 355.26 L195.25 358.73 L195.35 362.22 L195.44 365.72 L195.54 369.51 L195.64 373.85 L195.73 378.69 L195.83 383.96 L195.92 389.60 L196.02 395.56 L196.11 401.77 L196.21 408.17 L196.30 414.70 L196.40 421.30 L196.50 414.70 L196.59 408.17 L196.69 401.77 L196.78 395.56 L196.88 389.60 L196.97 383.96 L197.07 378.69 L197.16 373.85 L197.26 369.51 L197.36 365.72 L197.45 362.22 L197.55 358.73 L197.64 355.26 L197.74 351.83 L197.83 348.46 L197.93 345.17 L198.02 341.98 L198.12 338.90 L198.21 335.96 L198.31 333.18 L198.41 330.57 L198.50 328.15 L198.60 325.94 L198.69 323.97 L198.79 322.25 L198.88 320.80 L198.98 319.64 L199.07 318.79 L199.17 318.26 L199.27 318.08 L199.36 318.15 L199.46 318.34 L199.55 318.66 L199.65 319.08 L199.74 319.60 L199.84 320.21 L199.93 320.90 L200.03 321.66 L200.12 322.47 L200.22 323.33 L200.32 324.23 L200.41 325.16 L200.51 326.11 L200.60 327.06 L200.70 328.01 L200.79 328.95 L200.89 329.86 L200.98 330.75 L201.08 331.59 L201.18 332.37 L201.27 333.13 L201.37 333.90 L201.46 334.68 L201.56 335.47 L201.65 336.27 L201.75 337.07 L201.84 337.88 L201.94 338.69 L202.03 339.52 L202.13 340.34 L202.23 341.17 L202.32 342.01 L202.42 342.84 L202.51 343.68 L202.61 344.53 L202.70 345.37 L202.80 346.22 L202.89 347.06 L202.99 347.91 L203.09 348.75 L203.18 349.60 L203.28 350.44 L203.37 351.28 L203.47 352.12 L203.56 352.96 L203.66 353.79 L203.75 354.62 L203.85 355.44 L203.94 356.26 L204.04 357.07 L204.14 357.88 L204.23 358.67 L204.33 359.46 L204.42 360.25 L204.52 361.02 L204.61 361.79 L204.71 362.54 L204.80 363.29 L204.90 364.04 L205.00 364.78 L205.09 365.52 L205.19 366.25 L205.28 366.98 L205.38 367.71 L205.47 368.44 L205.57 369.16 L205.66 369.87 L205.76 370.59 L205.85 371.30 L205.95 372.01 L206.05 372.71 L206.14 373.41 L206.24 374.11 L206.33 374.81 L206.43 375.50 L206.52 376.19 L206.62 376.88 L206.71 377.56 L206.81 378.24 L206.91 378.92 L207.00 379.60 L207.10 380.27 L207.19 380.94 L207.29 381.61 L207.38 382.28 L207.48 382.94 L207.57 383.60 L207.67 384.26 L207.76 384.92 L207.86 385.57 L207.96 386.22 L208.05 386.88 L208.15 387.53 L208.24 388.19 L208.34 388.84 L208.43 389.49 L208.53 390.14 L208.62 390.79 L208.72 391.44 L208.81 392.09 L208.91 392.73 L209.01 393.37 L209.10 394.01 L209.20 394.64 L209.29 395.27 L209.39 395.90 L209.48 396.52 L209.58 397.14 L209.67 397.76 L209.77 398.36 L209.87 398.97 L209.96 399.56 L210.06 400.16 L210.15 400.74 L210.25 401.32 L210.34 401.89 L210.44 402.45 L210.53 403.01 L210.63 403.56 L210.72 404.10 L210.82 404.63 L210.92 405.15 L211.01 405.68 L211.11 406.20 L211.20 406.73 L211.30 407.25 L211.39 407.78 L211.49 408.30 L211.58 408.82 L211.68 409.34 L211.78 409.86 L211.87 410.38 L211.97 410.90 L212.06 411.41 L212.16 411.93 L212.25 412.44 L212.35 412.95 L212.44 413.46 L212.54 413.97 L212.63 414.48 L212.73 414.98 L212.83 415.49 L212.92 415.99 L213.02 416.49 L213.11 416.98 L213.21 417.48 L213.30 417.97 L213.40 418.46 L213.49 418.95 L213.59 419.43 L213.69 419.91 L213.78 420.39 L213.88 420.87 L213.97 421.34 L214.07 421.81 L214.16 422.28 L214.26 422.75 L214.35 423.21 L214.45 423.66 L214.55 424.12 L214.64 424.57 L214.74 425.02 L214.83 425.46 L214.93 425.90 L215.02 426.34 L215.12 426.77 L215.21 427.20 L215.31 427.62 L215.40 428.04 L215.50 428.46 L215.60 428.87 L215.69 429.28 L215.79 429.68 L215.88 430.08 L215.98 430.47 L216.07 430.86 L216.17 431.25 L216.26 431.63 L216.36 432.00 L216.46 432.37 L216.55 432.73 L216.65 433.09 L216.74 433.45 L216.84 433.80 L216.93 434.14 L217.03 434.48 L217.12 434.81 L217.22 435.14 L217.31 435.46 L217.41 435.77 L217.51 436.08 L217.60 436.39 L217.70 436.68 L217.79 436.97 L217.89 437.26 L217.98 437.55 L218.08 437.83 L218.17 438.11 L218.27 438.39 L218.37 438.66 L218.46 438.94 L218.56 439.21 L218.65 439.48 L218.75 439.74 L218.84 440.01 L218.94 440.27 L219.03 440.53 L219.13 440.79 L219.22 441.05 L219.32 441.31 L219.42 441.56 L219.51 441.81 L219.61 442.06 L219.70 442.31 L219.80 442.55 L219.89 442.80 L219.99 443.04 L220.08 443.28 L220.18 443.52 L220.28 443.76 L220.37 443.99 L220.47 444.22 L220.56 444.46 L220.66 444.69 L220.75 444.92 L220.85 445.14 L220.94 445.37 L221.04 445.59 L221.13 445.81 L221.23 446.03 L221.33 446.25 L221.42 446.47 L221.52 446.69 L221.61 446.90 L221.71 447.11 L221.80 447.32 L221.90 447.53 L221.99 447.74 L222.09 447.95 L222.19 448.16 L222.28 448.36 L222.38 448.56 L222.47 448.77 L222.57 448.97 L222.66 449.17 L222.76 449.37 L222.85 449.56 L222.95 449.76 L223.04 449.95 L223.14 450.15 L223.24 450.34 L223.33 450.53 L223.43 450.72 L223.52 450.91 L223.62 451.10 L223.71 451.29 L223.81 451.47 L223.90 451.66 L224.00 451.84 L224.09 452.03 L224.19 452.21 L224.29 452.39 L224.38 452.57 L224.48 452.75 L224.57 452.93 L224.67 453.11 L224.76 453.28 L224.86 453.46 L224.95 453.64 L225.05 453.81 L226.00 455.53 L226.96 457.19 L227.92 458.82 L228.87 460.40 L229.83 461.92 L230.78 463.38 L231.74 464.77 L232.69 466.11 L233.65 467.39 L234.60 468.61 L235.56 469.78 L236.51 470.91 L237.47 471.99 L238.42 473.02 L239.38 474.02 L240.33 474.98 L241.29 475.89 L242.24 476.77 L243.20 477.61 L244.15 478.42 L245.11 479.19 L246.06 479.94 L247.02 480.66 L247.97 481.36 L248.93 482.03 L249.88 482.66 L250.84 483.27 L251.79 483.85 L252.75 484.39 L253.70 484.92 L254.66 485.45 L255.61 485.96 L256.56 486.45 L257.52 486.93 L258.48 487.40 L259.43 487.84 L260.38 488.27 L261.34 488.67 L262.30 489.05 L263.25 489.40 L264.21 489.72 L265.16 490.02 L266.12 490.32 L267.07 490.61 L268.02 490.89 L268.98 491.16 L269.94 491.43 L270.89 491.70 L271.85 491.95 L272.80 492.21 L273.75 492.45 L274.71 492.69 L275.67 492.93 L276.62 493.16 L277.58 493.38 L278.53 493.59 L279.49 493.80 L280.44 494.01 L281.39 494.20 L282.35 494.40 L283.31 494.58 L284.26 494.76 L285.22 494.93 L286.17 495.10 L287.12 495.26 L288.08 495.41 L289.04 495.56 L289.99 495.70 L290.95 495.83 L291.90 495.96 L292.86 496.08 L293.81 496.20 L294.76 496.31 L295.72 496.42 L296.68 496.53 L297.63 496.63 L298.59 496.73 L299.54 496.83 L300.50 496.93 L301.45 497.02 L302.41 497.11 L303.36 497.20 L304.32 497.28 L305.27 497.36 L306.23 497.44 L307.18 497.52 L308.13 497.59 L309.09 497.66 L310.05 497.73 L311.00 497.79 L311.96 497.86 L312.91 497.92 L313.87 497.98 L314.82 498.04 L315.78 498.09 L316.73 498.15 L317.69 498.20 L318.64 498.25 L319.60 498.30 L320.55 498.35 L321.50 498.40 L322.46 498.45 L323.42 498.50 L324.37 498.55 L325.33 498.59 L326.28 498.64 L327.24 498.68 L328.19 498.72 L329.14 498.76 L330.10 498.80 L331.06 498.84 L332.01 498.87 L332.97 498.91 L333.92 498.94 L334.88 498.97 L335.83 498.99 L336.79 499.02 L337.74 499.04 L338.70 499.06 L339.65 499.08" stroke="#000" stroke-width="1.4"/>
<path d="M53.15 498.33 L54.10 498.27 L55.06 498.20 L56.01 498.13 L56.97 498.05 L57.92 497.98 L58.88 497.89 L59.83 497.81 L60.79 497.72 L61.74 497.63 L62.70 497.54 L63.66 497.44 L64.61 497.34 L65.56 497.24 L66.52 497.14 L67.47 497.03 L68.43 496.93 L69.38 496.82 L70.34 496.70 L71.29 496.59 L72.25 496.47 L73.20 496.36 L74.16 496.24 L75.11 496.12 L76.07 495.99 L77.02 495.87 L77.98 495.74 L78.93 495.62 L79.89 495.48 L80.84 495.35 L81.80 495.21 L82.75 495.07 L83.71 494.92 L84.66 494.77 L85.62 494.62 L86.58 494.46 L87.53 494.30 L88.48 494.14 L89.44 493.97 L90.39 493.80 L91.35 493.62 L92.30 493.44 L93.26 493.26 L94.22 493.07 L95.17 492.88 L96.12 492.68 L97.08 492.48 L98.03 492.27 L98.99 492.06 L99.94 491.84 L100.90 491.62 L101.85 491.39 L102.81 491.16 L103.77 490.91 L104.72 490.66 L105.67 490.41 L106.63 490.14 L107.58 489.87 L108.54 489.59 L109.49 489.30 L110.45 489.01 L111.41 488.71 L112.36 488.40 L113.32 488.09 L114.27 487.76 L115.22 487.44 L116.18 487.10 L117.13 486.76 L118.09 486.41 L119.04 486.05 L120.00 485.68 L120.95 485.31 L121.91 484.94 L122.86 484.55 L123.82 484.16 L124.78 483.76 L125.73 483.35 L126.69 482.94 L127.64 482.49 L128.59 482.03 L129.55 481.53 L130.50 481.02 L131.46 480.48 L132.41 479.92 L133.37 479.35 L134.32 478.76 L135.28 478.15 L136.23 477.53 L137.19 476.90 L138.15 476.24 L139.10 475.55 L140.06 474.84 L141.01 474.11 L141.97 473.35 L142.92 472.56 L143.88 471.75 L144.83 470.91 L145.78 470.04 L146.74 469.14 L147.69 468.21 L148.65 467.25 L149.60 466.24 L150.56 465.20 L151.51 464.11 L152.47 462.98 L153.43 461.80 L154.38 460.57 L155.34 459.29 L156.29 457.97 L157.25 456.61 L158.20 455.19 L159.16 453.72 L160.11 452.18 L161.06 450.58 L162.02 448.91 L162.97 447.17 L163.93 445.34 L164.88 443.42 L165.84 441.42 L166.80 439.32 L167.75 437.08 L167.85 436.84 L167.94 436.60 L168.04 436.36 L168.13 436.12 L168.23 435.88 L168.32 435.63 L168.42 435.38 L168.51 435.13 L168.61 434.88 L168.71 434.62 L168.80 434.37 L168.90 434.11 L168.99 433.85 L169.09 433.58 L169.18 433.32 L169.28 433.05 L169.37 432.78 L169.47 432.51 L169.56 432.24 L169.66 431.97 L169.76 431.69 L169.85 431.41 L169.95 431.13 L170.04 430.85 L170.14 430.57 L170.23 430.28 L170.33 429.99 L170.42 429.71 L170.52 429.41 L170.62 429.12 L170.71 428.83 L170.81 428.53 L170.90 428.24 L171.00 427.94 L171.09 427.64 L171.19 427.34 L171.28 427.03 L171.38 426.73 L171.47 426.42 L171.57 426.11 L171.67 425.80 L171.76 425.49 L171.86 425.18 L171.95 424.87 L172.05 424.55 L172.14 424.24 L172.24 423.92 L172.33 423.60 L172.43 423.28 L172.53 422.96 L172.62 422.63 L172.72 422.31 L172.81 421.98 L172.91 421.66 L173.00 421.33 L173.10 421.00 L173.19 420.67 L173.29 420.34 L173.38 420.00 L173.48 419.67 L173.58 419.33 L173.67 419.00 L173.77 418.66 L173.86 418.32 L173.96 417.98 L174.05 417.64 L174.15 417.30 L174.24 416.96 L174.34 416.61 L174.44 416.27 L174.53 415.92 L174.63 415.58 L174.72 415.23 L174.82 414.88 L174.91 414.53 L175.01 414.18 L175.10 413.83 L175.20 413.48 L175.29 413.13 L175.39 412.77 L175.49 412.42 L175.58 412.06 L175.68 411.71 L175.77 411.35 L175.87 411.00 L175.96 410.64 L176.06 410.28 L176.15 409.92 L176.25 409.56 L176.34 409.20 L176.44 408.84 L176.54 408.48 L176.63 408.12 L176.73 407.76 L176.82 407.40 L176.92 407.04 L177.01 406.68 L177.11 406.33 L177.20 405.97 L177.30 405.61 L177.40 405.25 L177.49 404.90 L177.59 404.54 L177.68 404.18 L177.78 403.82 L177.87 403.46 L177.97 403.10 L178.06 402.74 L178.16 402.37 L178.25 402.01 L178.35 401.64 L178.45 401.27 L178.54 400.90 L178.64 400.53 L178.73 400.16 L178.83 399.78 L178.92 399.40 L179.02 399.02 L179.11 398.64 L179.21 398.25 L179.31 397.86 L179.40 397.47 L179.50 397.07 L179.59 396.67 L179.69 396.27 L179.78 395.87 L179.88 395.46 L179.97 395.04 L180.07 394.62 L180.17 394.20 L180.26 393.78 L180.36 393.35 L180.45 392.91 L180.55 392.47 L180.64 392.03 L180.74 391.58 L180.83 391.13 L180.93 390.67 L181.02 390.20 L181.12 389.73 L181.22 389.25 L181.31 388.77 L181.41 388.29 L181.50 387.79 L181.60 387.29 L181.69 386.79 L181.79 386.27 L181.88 385.75 L181.98 385.23 L182.08 384.69 L182.17 384.15 L182.27 383.61 L182.36 383.05 L182.46 382.49 L182.55 381.92 L182.65 381.34 L182.74 380.76 L182.84 380.17 L182.93 379.56 L183.03 378.95 L183.13 378.31 L183.22 377.63 L183.32 376.92 L183.41 376.17 L183.51 375.40 L183.60 374.60 L183.70 373.78 L183.79 372.93 L183.89 372.06 L183.99 371.18 L184.08 370.28 L184.18 369.36 L184.27 368.43 L184.37 367.49 L184.46 366.54 L184.56 365.59 L184.65 364.63 L184.75 363.67 L184.84 362.70 L184.94 361.74 L185.04 360.79 L185.13 359.84 L185.23 358.90 L185.32 357.96 L185.42 357.03 L185.51 356.06 L185.61 355.07 L185.70 354.05 L185.80 353.00 L185.90 351.94 L185.99 350.86 L186.09 349.78 L186.18 348.68 L186.28 347.58 L186.37 346.48 L186.47 345.38 L186.56 344.29 L186.66 343.22 L186.75 342.15 L186.85 341.10 L186.95 340.07 L187.04 339.07 L187.14 338.10 L187.23 337.16 L187.33 336.25 L187.42 335.38 L187.52 334.56 L187.61 333.78 L187.71 333.05 L187.81 332.37 L187.90 331.72 L188.00 331.06 L188.09 330.40 L188.19 329.73 L188.28 329.06 L188.38 328.40 L188.47 327.74 L188.57 327.08 L188.66 326.43 L188.76 325.79 L188.86 325.16 L188.95 324.54 L189.05 323.94 L189.14 323.36 L189.24 322.80 L189.33 322.26 L189.43 321.74 L189.52 321.25 L189.62 320.78 L189.72 320.35 L189.81 319.94 L189.91 319.57 L190.00 319.24 L190.10 318.94 L190.19 318.69 L190.29 318.48 L190.38 318.31 L190.48 318.18 L190.57 318.11 L190.67 318.08 L190.77 318.13 L190.86 318.29 L190.96 318.54 L191.05 318.89 L191.15 319.33 L191.24 319.86 L191.34 320.47 L191.43 321.16 L191.53 321.93 L191.62 322.77 L191.72 323.69 L191.82 324.67 L191.91 325.72 L192.01 326.82 L192.10 327.98 L192.20 329.19 L192.29 330.46 L192.39 331.76 L192.48 333.11 L192.58 334.50 L192.68 335.93 L192.77 337.38 L192.87 338.86 L192.96 340.37 L193.06 341.90 L193.15 343.63 L193.25 345.74 L193.34 348.18 L193.44 350.94 L193.53 353.98 L193.63 357.27 L193.73 360.78 L193.82 364.49 L193.92 368.36 L194.01 372.37 L194.11 376.48 L194.20 380.67 L194.30 384.91 L194.39 389.16 L194.49 393.40 L194.59 397.59 L194.68 401.71 L194.78 405.74 L194.87 409.63 L194.97 413.36 L195.06 417.01 L195.16 420.66 L195.25 424.33 L195.35 428.00 L195.44 431.68 L195.54 435.37 L195.64 439.07 L195.73 442.78 L195.83 446.49 L195.92 450.22 L196.02 453.95 L196.11 457.68 L196.21 461.43 L196.30 465.18 L196.40 468.94 L196.50 465.18 L196.59 461.43 L196.69 457.68 L196.78 453.95 L196.88 450.22 L196.97 446.49 L197.07 442.78 L197.16 439.07 L197.26 435.37 L197.36 431.68 L197.45 428.00 L197.55 424.33 L197.64 420.66 L197.74 417.01 L197.83 413.36 L197.93 409.63 L198.02 405.74 L198.12 401.71 L198.21 397.59 L198.31 393.40 L198.41 389.16 L198.50 384.91 L198.60 380.67 L198.69 376.48 L198.79 372.37 L198.88 368.36 L198.98 364.49 L199.07 360.78 L199.17 357.27 L199.27 353.98 L199.36 350.94 L199.46 348.18 L199.55 345.74 L199.65 343.63 L199.74 341.90 L199.84 340.37 L199.93 338.86 L200.03 337.38 L200.12 335.93 L200.22 334.50 L200.32 333.11 L200.41 331.76 L200.51 330.46 L200.60 329.19 L200.70 327.98 L200.79 326.82 L200.89 325.72 L200.98 324.67 L201.08 323.69 L201.18 322.77 L201.27 321.93 L201.37 321.16 L201.46 320.47 L201.56 319.86 L201.65 319.33 L201.75 318.89 L201.84 318.54 L201.94 318.29 L202.03 318.13 L202.13 318.08 L202.23 318.11 L202.32 318.18 L202.42 318.31 L202.51 318.48 L202.61 318.69 L202.70 318.94 L202.80 319.24 L202.89 319.57 L202.99 319.94 L203.09 320.35 L203.18 320.78 L203.28 321.25 L203.37 321.74 L203.47 322.26 L203.56 322.80 L203.66 323.36 L203.75 323.94 L203.85 324.54 L203.94 325.16 L204.04 325.79 L204.14 326.43 L204.23 327.08 L204.33 327.74 L204.42 328.40 L204.52 329.06 L204.61 329.73 L204.71 330.40 L204.80 331.06 L204.90 331.72 L205.00 332.37 L205.09 333.05 L205.19 333.78 L205.28 334.56 L205.38 335.38 L205.47 336.25 L205.57 337.16 L205.66 338.10 L205.76 339.07 L205.85 340.07 L205.95 341.10 L206.05 342.15 L206.14 343.22 L206.24 344.29 L206.33 345.38 L206.43 346.48 L206.52 347.58 L206.62 348.68 L206.71 349.78 L206.81 350.86 L206.91 351.94 L207.00 353.00 L207.10 354.05 L207.19 355.07 L207.29 356.06 L207.38 357.03 L207.48 357.96 L207.57 358.90 L207.67 359.84 L207.76 360.79 L207.86 361.74 L207.96 362.70 L208.05 363.67 L208.15 364.63 L208.24 365.59 L208.34 366.54 L208.43 367.49 L208.53 368.43 L208.62 369.36 L208.72 370.28 L208.81 371.18 L208.91 372.06 L209.01 372.93 L209.10 373.78 L209.20 374.60 L209.29 375.40 L209.39 376.17 L209.48 376.92 L209.58 377.63 L209.67 378.31 L209.77 378.95 L209.87 379.56 L209.96 380.17 L210.06 380.76 L210.15 381.34 L210.25 381.92 L210.34 382.49 L210.44 383.05 L210.53 383.61 L210.63 384.15 L210.72 384.69 L210.82 385.23 L210.92 385.75 L211.01 386.27 L211.11 386.79 L211.20 387.29 L211.30 387.79 L211.39 388.29 L211.49 388.77 L211.58 389.25 L211.68 389.73 L211.78 390.20 L211.87 390.67 L211.97 391.13 L212.06 391.58 L212.16 392.03 L212.25 392.47 L212.35 392.91 L212.44 393.35 L212.54 393.78 L212.63 394.20 L212.73 394.62 L212.83 395.04 L212.92 395.46 L213.02 395.87 L213.11 396.27 L213.21 396.67 L213.30 397.07 L213.40 397.47 L213.49 397.86 L213.59 398.25 L213.69 398.64 L213.78 399.02 L213.88 399.40 L213.97 399.78 L214.07 400.16 L214.16 400.53 L214.26 400.90 L214.35 401.27 L214.45 401.64 L214.55 402.01 L214.64 402.37 L214.74 402.74 L214.83 403.10 L214.93 403.46 L215.02 403.82 L215.12 404.18 L215.21 404.54 L215.31 404.90 L215.40 405.25 L215.50 405.61 L215.60 405.97 L215.69 406.33 L215.79 406.68 L215.88 407.04 L215.98 407.40 L216.07 407.76 L216.17 408.12 L216.26 408.48 L216.36 408.84 L216.46 409.20 L216.55 409.56 L216.65 409.92 L216.74 410.28 L216.84 410.64 L216.93 411.00 L217.03 411.35 L217.12 411.71 L217.22 412.06 L217.31 412.42 L217.41 412.77 L217.51 413.13 L217.60 413.48 L217.70 413.83 L217.79 414.18 L217.89 414.53 L217.98 414.88 L218.08 415.23 L218.17 415.58 L218.27 415.92 L218.37 416.27 L218.46 416.61 L218.56 416.96 L218.65 417.30 L218.75 417.64 L218.84 417.98 L218.94 418.32 L219.03 418.66 L219.13 419.00 L219.22 419.33 L219.32 419.67 L219.42 420.00 L219.51 420.34 L219.61 420.67 L219.70 421.00 L219.80 421.33 L219.89 421.66 L219.99 421.98 L220.08 422.31 L220.18 422.63 L220.28 422.96 L220.37 423.28 L220.47 423.60 L220.56 423.92 L220.66 424.24 L220.75 424.55 L220.85 424.87 L220.94 425.18 L221.04 425.49 L221.13 425.80 L221.23 426.11 L221.33 426.42 L221.42 426.73 L221.52 427.03 L221.61 427.34 L221.71 427.64 L221.80 427.94 L221.90 428.24 L221.99 428.53 L222.09 428.83 L222.19 429.12 L222.28 429.41 L222.38 429.71 L222.47 429.99 L222.57 430.28 L222.66 430.57 L222.76 430.85 L222.85 431.13 L222.95 431.41 L223.04 431.69 L223.14 431.97 L223.24 432.24 L223.33 432.51 L223.43 432.78 L223.52 433.05 L223.62 433.32 L223.71 433.58 L223.81 433.85 L223.90 434.11 L224.00 434.37 L224.09 434.62 L224.19 434.88 L224.29 435.13 L224.38 435.38 L224.48 435.63 L224.57 435.88 L224.67 436.12 L224.76 436.36 L224.86 436.60 L224.95 436.84 L225.05 437.08 L226.00 439.32 L226.96 441.42 L227.92 443.42 L228.87 445.34 L229.83 447.17 L230.78 448.91 L231.74 450.58 L232.69 452.18 L233.65 453.72 L234.60 455.19 L235.56 456.61 L236.51 457.97 L237.47 459.29 L238.42 460.57 L239.38 461.80 L240.33 462.98 L241.29 464.11 L242.24 465.20 L243.20 466.24 L244.15 467.25 L245.11 468.21 L246.06 469.14 L247.02 470.04 L247.97 470.91 L248.93 471.75 L249.88 472.56 L250.84 473.35 L251.79 474.11 L252.75 474.84 L253.70 475.55 L254.66 476.24 L255.61 476.90 L256.56 477.53 L257.52 478.15 L258.48 478.76 L259.43 479.35 L260.38 479.92 L261.34 480.48 L262.30 481.02 L263.25 481.53 L264.21 482.03 L265.16 482.49 L266.12 482.94 L267.07 483.35 L268.02 483.76 L268.98 484.16 L269.94 484.55 L270.89 484.94 L271.85 485.31 L272.80 485.68 L273.75 486.05 L274.71 486.41 L275.67 486.76 L276.62 487.10 L277.58 487.44 L278.53 487.76 L279.49 488.09 L280.44 488.40 L281.39 488.71 L282.35 489.01 L283.31 489.30 L284.26 489.59 L285.22 489.87 L286.17 490.14 L287.12 490.41 L288.08 490.66 L289.04 490.91 L289.99 491.16 L290.95 491.39 L291.90 491.62 L292.86 491.84 L293.81 492.06 L294.76 492.27 L295.72 492.48 L296.68 492.68 L297.63 492.88 L298.59 493.07 L299.54 493.26 L300.50 493.44 L301.45 493.62 L302.41 493.80 L303.36 493.97 L304.32 494.14 L305.27 494.30 L306.23 494.46 L307.18 494.62 L308.13 494.77 L309.09 494.92 L310.05 495.07 L311.00 495.21 L311.96 495.35 L312.91 495.48 L313.87 495.62 L314.82 495.74 L315.78 495.87 L316.73 495.99 L317.69 496.12 L318.64 496.24 L319.60 496.36 L320.55 496.47 L321.50 496.59 L322.46 496.70 L323.42 496.82 L324.37 496.93 L325.33 497.03 L326.28 497.14 L327.24 497.24 L328.19 497.34 L329.14 497.44 L330.10 497.54 L331.06 497.63 L332.01 497.72 L332.97 497.81 L333.92 497.89 L334.88 497.98 L335.83 498.05 L336.79 498.13 L337.74 498.20 L338.70 498.27 L339.65 498.33" stroke="#ff0000" stroke-width="2.4" stroke-dasharray="3.2 4.8"/>
<path d="M53.15 497.95 L54.10 497.84 L55.06 497.73 L56.01 497.61 L56.97 497.49 L57.92 497.36 L58.88 497.23 L59.83 497.10 L60.79 496.96 L61.74 496.82 L62.70 496.68 L63.66 496.53 L64.61 496.38 L65.56 496.23 L66.52 496.07 L67.47 495.91 L68.43 495.75 L69.38 495.58 L70.34 495.41 L71.29 495.24 L72.25 495.07 L73.20 494.90 L74.16 494.72 L75.11 494.54 L76.07 494.36 L77.02 494.18 L77.98 493.99 L78.93 493.80 L79.89 493.60 L80.84 493.41 L81.80 493.20 L82.75 493.00 L83.71 492.78 L84.66 492.57 L85.62 492.35 L86.58 492.13 L87.53 491.90 L88.48 491.66 L89.44 491.43 L90.39 491.19 L91.35 490.94 L92.30 490.69 L93.26 490.43 L94.22 490.17 L95.17 489.91 L96.12 489.64 L97.08 489.37 L98.03 489.09 L98.99 488.80 L99.94 488.51 L100.90 488.22 L101.85 487.92 L102.81 487.61 L103.77 487.30 L104.72 486.98 L105.67 486.66 L106.63 486.33 L107.58 485.99 L108.54 485.64 L109.49 485.29 L110.45 484.93 L111.41 484.56 L112.36 484.19 L113.32 483.81 L114.27 483.42 L115.22 483.03 L116.18 482.63 L117.13 482.22 L118.09 481.80 L119.04 481.37 L120.00 480.94 L120.95 480.50 L121.91 480.05 L122.86 479.60 L123.82 479.13 L124.78 478.66 L125.73 478.18 L126.69 477.69 L127.64 477.17 L128.59 476.63 L129.55 476.07 L130.50 475.48 L131.46 474.86 L132.41 474.23 L133.37 473.58 L134.32 472.91 L135.28 472.22 L136.23 471.51 L137.19 470.79 L138.15 470.03 L139.10 469.25 L140.06 468.44 L141.01 467.60 L141.97 466.73 L142.92 465.84 L143.88 464.92 L144.83 463.97 L145.78 463.00 L146.74 462.00 L147.69 460.95 L148.65 459.87 L149.60 458.72 L150.56 457.51 L151.51 456.23 L152.47 454.86 L153.43 453.43 L154.38 451.93 L155.34 450.38 L156.29 448.76 L157.25 447.08 L158.20 445.34 L159.16 443.54 L160.11 441.67 L161.06 439.74 L162.02 437.74 L162.97 435.68 L163.93 433.55 L164.88 431.35 L165.84 429.08 L166.80 426.75 L167.75 424.33 L167.85 424.08 L167.94 423.82 L168.04 423.56 L168.13 423.30 L168.23 423.04 L168.32 422.78 L168.42 422.51 L168.51 422.25 L168.61 421.97 L168.71 421.70 L168.80 421.43 L168.90 421.15 L168.99 420.87 L169.09 420.59 L169.18 420.31 L169.28 420.03 L169.37 419.74 L169.47 419.45 L169.56 419.16 L169.66 418.87 L169.76 418.58 L169.85 418.28 L169.95 417.99 L170.04 417.69 L170.14 417.39 L170.23 417.09 L170.33 416.78 L170.42 416.48 L170.52 416.17 L170.62 415.86 L170.71 415.55 L170.81 415.24 L170.90 414.93 L171.00 414.62 L171.09 414.30 L171.19 413.98 L171.28 413.67 L171.38 413.35 L171.47 413.03 L171.57 412.70 L171.67 412.38 L171.76 412.06 L171.86 411.73 L171.95 411.41 L172.05 411.08 L172.14 410.75 L172.24 410.42 L172.33 410.09 L172.43 409.76 L172.53 409.43 L172.62 409.09 L172.72 408.76 L172.81 408.42 L172.91 408.09 L173.00 407.75 L173.10 407.41 L173.19 407.07 L173.29 406.73 L173.38 406.39 L173.48 406.05 L173.58 405.71 L173.67 405.37 L173.77 405.03 L173.86 404.69 L173.96 404.34 L174.05 404.00 L174.15 403.65 L174.24 403.31 L174.34 402.96 L174.44 402.62 L174.53 402.27 L174.63 401.93 L174.72 401.58 L174.82 401.23 L174.91 400.88 L175.01 400.54 L175.10 400.19 L175.20 399.84 L175.29 399.49 L175.39 399.15 L175.49 398.80 L175.58 398.45 L175.68 398.10 L175.77 397.75 L175.87 397.40 L175.96 397.06 L176.06 396.71 L176.15 396.36 L176.25 396.01 L176.34 395.66 L176.44 395.32 L176.54 394.97 L176.63 394.62 L176.73 394.28 L176.82 393.93 L176.92 393.59 L177.01 393.25 L177.11 392.91 L177.20 392.57 L177.30 392.23 L177.40 391.90 L177.49 391.56 L177.59 391.23 L177.68 390.90 L177.78 390.57 L177.87 390.24 L177.97 389.91 L178.06 389.58 L178.16 389.25 L178.25 388.92 L178.35 388.59 L178.45 388.26 L178.54 387.93 L178.64 387.60 L178.73 387.27 L178.83 386.94 L178.92 386.60 L179.02 386.27 L179.11 385.94 L179.21 385.60 L179.31 385.26 L179.40 384.92 L179.50 384.58 L179.59 384.24 L179.69 383.89 L179.78 383.55 L179.88 383.20 L179.97 382.85 L180.07 382.49 L180.17 382.13 L180.26 381.77 L180.36 381.41 L180.45 381.04 L180.55 380.67 L180.64 380.30 L180.74 379.93 L180.83 379.54 L180.93 379.16 L181.02 378.77 L181.12 378.38 L181.22 377.98 L181.31 377.58 L181.41 377.18 L181.50 376.77 L181.60 376.35 L181.69 375.93 L181.79 375.51 L181.88 375.08 L181.98 374.64 L182.08 374.20 L182.17 373.75 L182.27 373.30 L182.36 372.84 L182.46 372.38 L182.55 371.90 L182.65 371.43 L182.74 370.94 L182.84 370.45 L182.93 369.95 L183.03 369.45 L183.13 368.94 L183.22 368.41 L183.32 367.87 L183.41 367.32 L183.51 366.74 L183.60 366.16 L183.70 365.55 L183.79 364.93 L183.89 364.30 L183.99 363.65 L184.08 362.99 L184.18 362.32 L184.27 361.63 L184.37 360.93 L184.46 360.22 L184.56 359.49 L184.65 358.76 L184.75 358.01 L184.84 357.26 L184.94 356.49 L185.04 355.72 L185.13 354.93 L185.23 354.14 L185.32 353.34 L185.42 352.53 L185.51 351.71 L185.61 350.89 L185.70 350.05 L185.80 349.22 L185.90 348.37 L185.99 347.53 L186.09 346.67 L186.18 345.81 L186.28 344.92 L186.37 343.96 L186.47 342.96 L186.56 341.91 L186.66 340.83 L186.75 339.72 L186.85 338.59 L186.95 337.44 L187.04 336.29 L187.14 335.14 L187.23 333.99 L187.33 332.86 L187.42 331.76 L187.52 330.68 L187.61 329.64 L187.71 328.64 L187.81 327.69 L187.90 326.80 L188.00 325.98 L188.09 325.23 L188.19 324.52 L188.28 323.83 L188.38 323.15 L188.47 322.48 L188.57 321.83 L188.66 321.19 L188.76 320.57 L188.86 319.97 L188.95 319.38 L189.05 318.80 L189.14 318.24 L189.24 317.70 L189.33 317.18 L189.43 316.68 L189.52 316.19 L189.62 315.72 L189.72 315.27 L189.81 314.84 L189.91 314.43 L190.00 314.04 L190.10 313.67 L190.19 313.32 L190.29 312.97 L190.38 312.62 L190.48 312.27 L190.57 311.92 L190.67 311.58 L190.77 311.24 L190.86 310.90 L190.96 310.58 L191.05 310.27 L191.15 309.98 L191.24 309.71 L191.34 309.46 L191.43 309.24 L191.53 309.04 L191.62 308.87 L191.72 308.74 L191.82 308.64 L191.91 308.57 L192.01 308.55 L192.10 308.76 L192.20 309.37 L192.29 310.35 L192.39 311.66 L192.48 313.27 L192.58 315.16 L192.68 317.29 L192.77 319.62 L192.87 322.13 L192.96 324.78 L193.06 327.54 L193.15 330.38 L193.25 333.27 L193.34 336.17 L193.44 339.06 L193.53 341.90 L193.63 344.88 L193.73 348.19 L193.82 351.80 L193.92 355.66 L194.01 359.75 L194.11 364.03 L194.20 368.47 L194.30 373.03 L194.39 377.67 L194.49 382.37 L194.59 387.09 L194.68 391.78 L194.78 396.43 L194.87 400.98 L194.97 405.42 L195.06 409.79 L195.16 414.18 L195.25 418.59 L195.35 423.02 L195.44 427.47 L195.54 431.93 L195.64 436.41 L195.73 440.91 L195.83 445.43 L195.92 449.97 L196.02 454.52 L196.11 459.09 L196.21 463.68 L196.30 468.29 L196.40 472.91 L196.50 468.29 L196.59 463.68 L196.69 459.09 L196.78 454.52 L196.88 449.97 L196.97 445.43 L197.07 440.91 L197.16 436.41 L197.26 431.93 L197.36 427.47 L197.45 423.02 L197.55 418.59 L197.64 414.18 L197.74 409.79 L197.83 405.42 L197.93 400.98 L198.02 396.43 L198.12 391.78 L198.21 387.09 L198.31 382.37 L198.41 377.67 L198.50 373.03 L198.60 368.47 L198.69 364.03 L198.79 359.75 L198.88 355.66 L198.98 351.80 L199.07 348.19 L199.17 344.88 L199.27 341.90 L199.36 339.06 L199.46 336.17 L199.55 333.27 L199.65 330.38 L199.74 327.54 L199.84 324.78 L199.93 322.13 L200.03 319.62 L200.12 317.29 L200.22 315.16 L200.32 313.27 L200.41 311.66 L200.51 310.35 L200.60 309.37 L200.70 308.76 L200.79 308.55 L200.89 308.57 L200.98 308.64 L201.08 308.74 L201.18 308.87 L201.27 309.04 L201.37 309.24 L201.46 309.46 L201.56 309.71 L201.65 309.98 L201.75 310.27 L201.84 310.58 L201.94 310.90 L202.03 311.24 L202.13 311.58 L202.23 311.92 L202.32 312.27 L202.42 312.62 L202.51 312.97 L202.61 313.32 L202.70 313.67 L202.80 314.04 L202.89 314.43 L202.99 314.84 L203.09 315.27 L203.18 315.72 L203.28 316.19 L203.37 316.68 L203.47 317.18 L203.56 317.70 L203.66 318.24 L203.75 318.80 L203.85 319.38 L203.94 319.97 L204.04 320.57 L204.14 321.19 L204.23 321.83 L204.33 322.48 L204.42 323.15 L204.52 323.83 L204.61 324.52 L204.71 325.23 L204.80 325.98 L204.90 326.80 L205.00 327.69 L205.09 328.64 L205.19 329.64 L205.28 330.68 L205.38 331.76 L205.47 332.86 L205.57 333.99 L205.66 335.14 L205.76 336.29 L205.85 337.44 L205.95 338.59 L206.05 339.72 L206.14 340.83 L206.24 341.91 L206.33 342.96 L206.43 343.96 L206.52 344.92 L206.62 345.81 L206.71 346.67 L206.81 347.53 L206.91 348.37 L207.00 349.22 L207.10 350.05 L207.19 350.89 L207.29 351.71 L207.38 352.53 L207.48 353.34 L207.57 354.14 L207.67 354.93 L207.76 355.72 L207.86 356.49 L207.96 357.26 L208.05 358.01 L208.15 358.76 L208.24 359.49 L208.34 360.22 L208.43 360.93 L208.53 361.63 L208.62 362.32 L208.72 362.99 L208.81 363.65 L208.91 364.30 L209.01 364.93 L209.10 365.55 L209.20 366.16 L209.29 366.74 L209.39 367.32 L209.48 367.87 L209.58 368.41 L209.67 368.94 L209.77 369.45 L209.87 369.95 L209.96 370.45 L210.06 370.94 L210.15 371.43 L210.25 371.90 L210.34 372.38 L210.44 372.84 L210.53 373.30 L210.63 373.75 L210.72 374.20 L210.82 374.64 L210.92 375.08 L211.01 375.51 L211.11 375.93 L211.20 376.35 L211.30 376.77 L211.39 377.18 L211.49 377.58 L211.58 377.98 L211.68 378.38 L211.78 378.77 L211.87 379.16 L211.97 379.54 L212.06 379.93 L212.16 380.30 L212.25 380.67 L212.35 381.04 L212.44 381.41 L212.54 381.77 L212.63 382.13 L212.73 382.49 L212.83 382.85 L212.92 383.20 L213.02 383.55 L213.11 383.89 L213.21 384.24 L213.30 384.58 L213.40 384.92 L213.49 385.26 L213.59 385.60 L213.69 385.94 L213.78 386.27 L213.88 386.60 L213.97 386.94 L214.07 387.27 L214.16 387.60 L214.26 387.93 L214.35 388.26 L214.45 388.59 L214.55 388.92 L214.64 389.25 L214.74 389.58 L214.83 389.91 L214.93 390.24 L215.02 390.57 L215.12 390.90 L215.21 391.23 L215.31 391.56 L215.40 391.90 L215.50 392.23 L215.60 392.57 L215.69 392.91 L215.79 393.25 L215.88 393.59 L215.98 393.93 L216.07 394.28 L216.17 394.62 L216.26 394.97 L216.36 395.32 L216.46 395.66 L216.55 396.01 L216.65 396.36 L216.74 396.71 L216.84 397.06 L216.93 397.40 L217.03 397.75 L217.12 398.10 L217.22 398.45 L217.31 398.80 L217.41 399.15 L217.51 399.49 L217.60 399.84 L217.70 400.19 L217.79 400.54 L217.89 400.88 L217.98 401.23 L218.08 401.58 L218.17 401.93 L218.27 402.27 L218.37 402.62 L218.46 402.96 L218.56 403.31 L218.65 403.65 L218.75 404.00 L218.84 404.34 L218.94 404.69 L219.03 405.03 L219.13 405.37 L219.22 405.71 L219.32 406.05 L219.42 406.39 L219.51 406.73 L219.61 407.07 L219.70 407.41 L219.80 407.75 L219.89 408.09 L219.99 408.42 L220.08 408.76 L220.18 409.09 L220.28 409.43 L220.37 409.76 L220.47 410.09 L220.56 410.42 L220.66 410.75 L220.75 411.08 L220.85 411.41 L220.94 411.73 L221.04 412.06 L221.13 412.38 L221.23 412.70 L221.33 413.03 L221.42 413.35 L221.52 413.67 L221.61 413.98 L221.71 414.30 L221.80 414.62 L221.90 414.93 L221.99 415.24 L222.09 415.55 L222.19 415.86 L222.28 416.17 L222.38 416.48 L222.47 416.78 L222.57 417.09 L222.66 417.39 L222.76 417.69 L222.85 417.99 L222.95 418.28 L223.04 418.58 L223.14 418.87 L223.24 419.16 L223.33 419.45 L223.43 419.74 L223.52 420.03 L223.62 420.31 L223.71 420.59 L223.81 420.87 L223.90 421.15 L224.00 421.43 L224.09 421.70 L224.19 421.97 L224.29 422.25 L224.38 422.51 L224.48 422.78 L224.57 423.04 L224.67 423.30 L224.76 423.56 L224.86 423.82 L224.95 424.08 L225.05 424.33 L226.00 426.75 L226.96 429.08 L227.92 431.35 L228.87 433.55 L229.83 435.68 L230.78 437.74 L231.74 439.74 L232.69 441.67 L233.65 443.54 L234.60 445.34 L235.56 447.08 L236.51 448.76 L237.47 450.38 L238.42 451.93 L239.38 453.43 L240.33 454.86 L241.29 456.23 L242.24 457.51 L243.20 458.72 L244.15 459.87 L245.11 460.95 L246.06 462.00 L247.02 463.00 L247.97 463.97 L248.93 464.92 L249.88 465.84 L250.84 466.73 L251.79 467.60 L252.75 468.44 L253.70 469.25 L254.66 470.03 L255.61 470.79 L256.56 471.51 L257.52 472.22 L258.48 472.91 L259.43 473.58 L260.38 474.23 L261.34 474.86 L262.30 475.48 L263.25 476.07 L264.21 476.63 L265.16 477.17 L266.12 477.69 L267.07 478.18 L268.02 478.66 L268.98 479.13 L269.94 479.60 L270.89 480.05 L271.85 480.50 L272.80 480.94 L273.75 481.37 L274.71 481.80 L275.67 482.22 L276.62 482.63 L277.58 483.03 L278.53 483.42 L279.49 483.81 L280.44 484.19 L281.39 484.56 L282.35 484.93 L283.31 485.29 L284.26 485.64 L285.22 485.99 L286.17 486.33 L287.12 486.66 L288.08 486.98 L289.04 487.30 L289.99 487.61 L290.95 487.92 L291.90 488.22 L292.86 488.51 L293.81 488.80 L294.76 489.09 L295.72 489.37 L296.68 489.64 L297.63 489.91 L298.59 490.17 L299.54 490.43 L300.50 490.69 L301.45 490.94 L302.41 491.19 L303.36 491.43 L304.32 491.66 L305.27 491.90 L306.23 492.13 L307.18 492.35 L308.13 492.57 L309.09 492.78 L310.05 493.00 L311.00 493.20 L311.96 493.41 L312.91 493.60 L313.87 493.80 L314.82 493.99 L315.78 494.18 L316.73 494.36 L317.69 494.54 L318.64 494.72 L319.60 494.90 L320.55 495.07 L321.50 495.24 L322.46 495.41 L323.42 495.58 L324.37 495.75 L325.33 495.91 L326.28 496.07 L327.24 496.23 L328.19 496.38 L329.14 496.53 L330.10 496.68 L331.06 496.82 L332.01 496.96 L332.97 497.10 L333.92 497.23 L334.88 497.36 L335.83 497.49 L336.79 497.61 L337.74 497.73 L338.70 497.84 L339.65 497.95" stroke="#0000ff" stroke-width="3.2" stroke-dasharray="13 7"/>
<path d="M53.15 495.94 L54.10 495.74 L55.06 495.54 L56.01 495.33 L56.97 495.12 L57.92 494.90 L58.88 494.67 L59.83 494.44 L60.79 494.21 L61.74 493.97 L62.70 493.72 L63.66 493.47 L64.61 493.21 L65.56 492.95 L66.52 492.69 L67.47 492.42 L68.43 492.15 L69.38 491.87 L70.34 491.59 L71.29 491.30 L72.25 491.01 L73.20 490.72 L74.16 490.42 L75.11 490.12 L76.07 489.82 L77.02 489.51 L77.98 489.20 L78.93 488.88 L79.89 488.56 L80.84 488.23 L81.80 487.89 L82.75 487.55 L83.71 487.20 L84.66 486.84 L85.62 486.48 L86.58 486.11 L87.53 485.73 L88.48 485.35 L89.44 484.97 L90.39 484.57 L91.35 484.18 L92.30 483.77 L93.26 483.36 L94.22 482.95 L95.17 482.53 L96.12 482.10 L97.08 481.67 L98.03 481.24 L98.99 480.80 L99.94 480.35 L100.90 479.91 L101.85 479.45 L102.81 479.00 L103.77 478.53 L104.72 478.07 L105.67 477.59 L106.63 477.12 L107.58 476.63 L108.54 476.14 L109.49 475.64 L110.45 475.13 L111.41 474.62 L112.36 474.09 L113.32 473.56 L114.27 473.02 L115.22 472.46 L116.18 471.90 L117.13 471.32 L118.09 470.74 L119.04 470.14 L120.00 469.53 L120.95 468.90 L121.91 468.27 L122.86 467.62 L123.82 466.95 L124.78 466.27 L125.73 465.58 L126.69 464.87 L127.64 464.14 L128.59 463.40 L129.55 462.64 L130.50 461.86 L131.46 461.07 L132.41 460.25 L133.37 459.42 L134.32 458.57 L135.28 457.70 L136.23 456.81 L137.19 455.90 L138.15 454.97 L139.10 454.01 L140.06 453.04 L141.01 452.05 L141.97 451.03 L142.92 449.99 L143.88 448.93 L144.83 447.84 L145.78 446.73 L146.74 445.60 L147.69 444.44 L148.65 443.26 L149.60 442.05 L150.56 440.82 L151.51 439.56 L152.47 438.24 L153.43 436.84 L154.38 435.35 L155.34 433.79 L156.29 432.16 L157.25 430.46 L158.20 428.70 L159.16 426.88 L160.11 425.00 L161.06 423.08 L162.02 421.10 L162.97 419.09 L163.93 417.00 L164.88 414.78 L165.84 412.46 L166.80 410.03 L167.75 407.51 L167.85 407.25 L167.94 406.99 L168.04 406.73 L168.13 406.47 L168.23 406.21 L168.32 405.95 L168.42 405.68 L168.51 405.42 L168.61 405.16 L168.71 404.89 L168.80 404.62 L168.90 404.36 L168.99 404.09 L169.09 403.82 L169.18 403.55 L169.28 403.28 L169.37 403.01 L169.47 402.74 L169.56 402.46 L169.66 402.19 L169.76 401.92 L169.85 401.64 L169.95 401.36 L170.04 401.09 L170.14 400.80 L170.23 400.52 L170.33 400.23 L170.42 399.94 L170.52 399.64 L170.62 399.35 L170.71 399.04 L170.81 398.74 L170.90 398.43 L171.00 398.12 L171.09 397.81 L171.19 397.50 L171.28 397.18 L171.38 396.87 L171.47 396.55 L171.57 396.22 L171.67 395.90 L171.76 395.58 L171.86 395.25 L171.95 394.92 L172.05 394.59 L172.14 394.26 L172.24 393.93 L172.33 393.60 L172.43 393.27 L172.53 392.94 L172.62 392.61 L172.72 392.27 L172.81 391.94 L172.91 391.60 L173.00 391.27 L173.10 390.94 L173.19 390.61 L173.29 390.27 L173.38 389.94 L173.48 389.61 L173.58 389.28 L173.67 388.95 L173.77 388.62 L173.86 388.30 L173.96 387.97 L174.05 387.65 L174.15 387.32 L174.24 387.00 L174.34 386.68 L174.44 386.37 L174.53 386.05 L174.63 385.74 L174.72 385.43 L174.82 385.12 L174.91 384.81 L175.01 384.51 L175.10 384.21 L175.20 383.91 L175.29 383.62 L175.39 383.33 L175.49 383.04 L175.58 382.75 L175.68 382.47 L175.77 382.18 L175.87 381.90 L175.96 381.62 L176.06 381.34 L176.15 381.06 L176.25 380.79 L176.34 380.51 L176.44 380.24 L176.54 379.97 L176.63 379.70 L176.73 379.42 L176.82 379.16 L176.92 378.89 L177.01 378.62 L177.11 378.35 L177.20 378.09 L177.30 377.82 L177.40 377.56 L177.49 377.29 L177.59 377.03 L177.68 376.77 L177.78 376.50 L177.87 376.24 L177.97 375.98 L178.06 375.72 L178.16 375.46 L178.25 375.20 L178.35 374.94 L178.45 374.68 L178.54 374.42 L178.64 374.16 L178.73 373.90 L178.83 373.64 L178.92 373.38 L179.02 373.11 L179.11 372.85 L179.21 372.59 L179.31 372.33 L179.40 372.07 L179.50 371.81 L179.59 371.54 L179.69 371.28 L179.78 371.01 L179.88 370.75 L179.97 370.48 L180.07 370.22 L180.17 369.95 L180.26 369.69 L180.36 369.42 L180.45 369.16 L180.55 368.89 L180.64 368.63 L180.74 368.37 L180.83 368.10 L180.93 367.84 L181.02 367.58 L181.12 367.32 L181.22 367.05 L181.31 366.79 L181.41 366.53 L181.50 366.27 L181.60 366.00 L181.69 365.74 L181.79 365.48 L181.88 365.22 L181.98 364.95 L182.08 364.69 L182.17 364.43 L182.27 364.16 L182.36 363.90 L182.46 363.64 L182.55 363.37 L182.65 363.11 L182.74 362.85 L182.84 362.58 L182.93 362.32 L183.03 362.05 L183.13 361.78 L183.22 361.52 L183.32 361.25 L183.41 360.98 L183.51 360.72 L183.60 360.45 L183.70 360.18 L183.79 359.91 L183.89 359.64 L183.99 359.37 L184.08 359.09 L184.18 358.80 L184.27 358.49 L184.37 358.18 L184.46 357.85 L184.56 357.52 L184.65 357.17 L184.75 356.82 L184.84 356.47 L184.94 356.11 L185.04 355.74 L185.13 355.37 L185.23 355.00 L185.32 354.63 L185.42 354.26 L185.51 353.89 L185.61 353.53 L185.70 353.16 L185.80 352.81 L185.90 352.45 L185.99 352.11 L186.09 351.77 L186.18 351.44 L186.28 351.12 L186.37 350.82 L186.47 350.52 L186.56 350.24 L186.66 349.97 L186.75 349.72 L186.85 349.48 L186.95 349.26 L187.04 349.06 L187.14 348.88 L187.23 348.72 L187.33 348.58 L187.42 348.47 L187.52 348.37 L187.61 348.31 L187.71 348.27 L187.81 348.25 L187.90 348.28 L188.00 348.34 L188.09 348.46 L188.19 348.61 L188.28 348.81 L188.38 349.05 L188.47 349.34 L188.57 349.65 L188.66 350.01 L188.76 350.41 L188.86 350.84 L188.95 351.30 L189.05 351.80 L189.14 352.33 L189.24 352.89 L189.33 353.48 L189.43 354.10 L189.52 354.74 L189.62 355.41 L189.72 356.11 L189.81 356.84 L189.91 357.58 L190.00 358.35 L190.10 359.14 L190.19 359.95 L190.29 360.77 L190.38 361.62 L190.48 362.48 L190.57 363.35 L190.67 364.24 L190.77 365.14 L190.86 366.06 L190.96 366.98 L191.05 367.92 L191.15 368.86 L191.24 369.81 L191.34 370.77 L191.43 371.73 L191.53 372.69 L191.62 373.66 L191.72 374.68 L191.82 375.80 L191.91 377.03 L192.01 378.34 L192.10 379.74 L192.20 381.22 L192.29 382.79 L192.39 384.42 L192.48 386.13 L192.58 387.90 L192.68 389.72 L192.77 391.60 L192.87 393.53 L192.96 395.51 L193.06 397.52 L193.15 399.57 L193.25 401.65 L193.34 403.76 L193.44 405.88 L193.53 408.02 L193.63 410.18 L193.73 412.33 L193.82 414.49 L193.92 416.65 L194.01 418.80 L194.11 420.93 L194.20 423.05 L194.30 425.14 L194.39 427.21 L194.49 429.24 L194.59 431.27 L194.68 433.31 L194.78 435.38 L194.87 437.46 L194.97 439.56 L195.06 441.68 L195.16 443.82 L195.25 445.97 L195.35 448.14 L195.44 450.32 L195.54 452.52 L195.64 454.74 L195.73 456.97 L195.83 459.21 L195.92 461.46 L196.02 463.73 L196.11 466.01 L196.21 468.30 L196.30 470.60 L196.40 472.91 L196.50 470.60 L196.59 468.30 L196.69 466.01 L196.78 463.73 L196.88 461.46 L196.97 459.21 L197.07 456.97 L197.16 454.74 L197.26 452.52 L197.36 450.32 L197.45 448.14 L197.55 445.97 L197.64 443.82 L197.74 441.68 L197.83 439.56 L197.93 437.46 L198.02 435.38 L198.12 433.31 L198.21 431.27 L198.31 429.24 L198.41 427.21 L198.50 425.14 L198.60 423.05 L198.69 420.93 L198.79 418.80 L198.88 416.65 L198.98 414.49 L199.07 412.33 L199.17 410.18 L199.27 408.02 L199.36 405.88 L199.46 403.76 L199.55 401.65 L199.65 399.57 L199.74 397.52 L199.84 395.51 L199.93 393.53 L200.03 391.60 L200.12 389.72 L200.22 387.90 L200.32 386.13 L200.41 384.42 L200.51 382.79 L200.60 381.22 L200.70 379.74 L200.79 378.34 L200.89 377.03 L200.98 375.80 L201.08 374.68 L201.18 373.66 L201.27 372.69 L201.37 371.73 L201.46 370.77 L201.56 369.81 L201.65 368.86 L201.75 367.92 L201.84 366.98 L201.94 366.06 L202.03 365.14 L202.13 364.24 L202.23 363.35 L202.32 362.48 L202.42 361.62 L202.51 360.77 L202.61 359.95 L202.70 359.14 L202.80 358.35 L202.89 357.58 L202.99 356.84 L203.09 356.11 L203.18 355.41 L203.28 354.74 L203.37 354.10 L203.47 353.48 L203.56 352.89 L203.66 352.33 L203.75 351.80 L203.85 351.30 L203.94 350.84 L204.04 350.41 L204.14 350.01 L204.23 349.65 L204.33 349.34 L204.42 349.05 L204.52 348.81 L204.61 348.61 L204.71 348.46 L204.80 348.34 L204.90 348.28 L205.00 348.25 L205.09 348.27 L205.19 348.31 L205.28 348.37 L205.38 348.47 L205.47 348.58 L205.57 348.72 L205.66 348.88 L205.76 349.06 L205.85 349.26 L205.95 349.48 L206.05 349.72 L206.14 349.97 L206.24 350.24 L206.33 350.52 L206.43 350.82 L206.52 351.12 L206.62 351.44 L206.71 351.77 L206.81 352.11 L206.91 352.45 L207.00 352.81 L207.10 353.16 L207.19 353.53 L207.29 353.89 L207.38 354.26 L207.48 354.63 L207.57 355.00 L207.67 355.37 L207.76 355.74 L207.86 356.11 L207.96 356.47 L208.05 356.82 L208.15 357.17 L208.24 357.52 L208.34 357.85 L208.43 358.18 L208.53 358.49 L208.62 358.80 L208.72 359.09 L208.81 359.37 L208.91 359.64 L209.01 359.91 L209.10 360.18 L209.20 360.45 L209.29 360.72 L209.39 360.98 L209.48 361.25 L209.58 361.52 L209.67 361.78 L209.77 362.05 L209.87 362.32 L209.96 362.58 L210.06 362.85 L210.15 363.11 L210.25 363.37 L210.34 363.64 L210.44 363.90 L210.53 364.16 L210.63 364.43 L210.72 364.69 L210.82 364.95 L210.92 365.22 L211.01 365.48 L211.11 365.74 L211.20 366.00 L211.30 366.27 L211.39 366.53 L211.49 366.79 L211.58 367.05 L211.68 367.32 L211.78 367.58 L211.87 367.84 L211.97 368.10 L212.06 368.37 L212.16 368.63 L212.25 368.89 L212.35 369.16 L212.44 369.42 L212.54 369.69 L212.63 369.95 L212.73 370.22 L212.83 370.48 L212.92 370.75 L213.02 371.01 L213.11 371.28 L213.21 371.54 L213.30 371.81 L213.40 372.07 L213.49 372.33 L213.59 372.59 L213.69 372.85 L213.78 373.11 L213.88 373.38 L213.97 373.64 L214.07 373.90 L214.16 374.16 L214.26 374.42 L214.35 374.68 L214.45 374.94 L214.55 375.20 L214.64 375.46 L214.74 375.72 L214.83 375.98 L214.93 376.24 L215.02 376.50 L215.12 376.77 L215.21 377.03 L215.31 377.29 L215.40 377.56 L215.50 377.82 L215.60 378.09 L215.69 378.35 L215.79 378.62 L215.88 378.89 L215.98 379.16 L216.07 379.42 L216.17 379.70 L216.26 379.97 L216.36 380.24 L216.46 380.51 L216.55 380.79 L216.65 381.06 L216.74 381.34 L216.84 381.62 L216.93 381.90 L217.03 382.18 L217.12 382.47 L217.22 382.75 L217.31 383.04 L217.41 383.33 L217.51 383.62 L217.60 383.91 L217.70 384.21 L217.79 384.51 L217.89 384.81 L217.98 385.12 L218.08 385.43 L218.17 385.74 L218.27 386.05 L218.37 386.37 L218.46 386.68 L218.56 387.00 L218.65 387.32 L218.75 387.65 L218.84 387.97 L218.94 388.30 L219.03 388.62 L219.13 388.95 L219.22 389.28 L219.32 389.61 L219.42 389.94 L219.51 390.27 L219.61 390.61 L219.70 390.94 L219.80 391.27 L219.89 391.60 L219.99 391.94 L220.08 392.27 L220.18 392.61 L220.28 392.94 L220.37 393.27 L220.47 393.60 L220.56 393.93 L220.66 394.26 L220.75 394.59 L220.85 394.92 L220.94 395.25 L221.04 395.58 L221.13 395.90 L221.23 396.22 L221.33 396.55 L221.42 396.87 L221.52 397.18 L221.61 397.50 L221.71 397.81 L221.80 398.12 L221.90 398.43 L221.99 398.74 L222.09 399.04 L222.19 399.35 L222.28 399.64 L222.38 399.94 L222.47 400.23 L222.57 400.52 L222.66 400.80 L222.76 401.09 L222.85 401.36 L222.95 401.64 L223.04 401.92 L223.14 402.19 L223.24 402.46 L223.33 402.74 L223.43 403.01 L223.52 403.28 L223.62 403.55 L223.71 403.82 L223.81 404.09 L223.90 404.36 L224.00 404.62 L224.09 404.89 L224.19 405.16 L224.29 405.42 L224.38 405.68 L224.48 405.95 L224.57 406.21 L224.67 406.47 L224.76 406.73 L224.86 406.99 L224.95 407.25 L225.05 407.51 L226.00 410.03 L226.96 412.46 L227.92 414.78 L228.87 417.00 L229.83 419.09 L230.78 421.10 L231.74 423.08 L232.69 425.00 L233.65 426.88 L234.60 428.70 L235.56 430.46 L236.51 432.16 L237.47 433.79 L238.42 435.35 L239.38 436.84 L240.33 438.24 L241.29 439.56 L242.24 440.82 L243.20 442.05 L244.15 443.26 L245.11 444.44 L246.06 445.60 L247.02 446.73 L247.97 447.84 L248.93 448.93 L249.88 449.99 L250.84 451.03 L251.79 452.05 L252.75 453.04 L253.70 454.01 L254.66 454.97 L255.61 455.90 L256.56 456.81 L257.52 457.70 L258.48 458.57 L259.43 459.42 L260.38 460.25 L261.34 461.07 L262.30 461.86 L263.25 462.64 L264.21 463.40 L265.16 464.14 L266.12 464.87 L267.07 465.58 L268.02 466.27 L268.98 466.95 L269.94 467.62 L270.89 468.27 L271.85 468.90 L272.80 469.53 L273.75 470.14 L274.71 470.74 L275.67 471.32 L276.62 471.90 L277.58 472.46 L278.53 473.02 L279.49 473.56 L280.44 474.09 L281.39 474.62 L282.35 475.13 L283.31 475.64 L284.26 476.14 L285.22 476.63 L286.17 477.12 L287.12 477.59 L288.08 478.07 L289.04 478.53 L289.99 479.00 L290.95 479.45 L291.90 479.91 L292.86 480.35 L293.81 480.80 L294.76 481.24 L295.72 481.67 L296.68 482.10 L297.63 482.53 L298.59 482.95 L299.54 483.36 L300.50 483.77 L301.45 484.18 L302.41 484.57 L303.36 484.97 L304.32 485.35 L305.27 485.73 L306.23 486.11 L307.18 486.48 L308.13 486.84 L309.09 487.20 L310.05 487.55 L311.00 487.89 L311.96 488.23 L312.91 488.56 L313.87 488.88 L314.82 489.20 L315.78 489.51 L316.73 489.82 L317.69 490.12 L318.64 490.42 L319.60 490.72 L320.55 491.01 L321.50 491.30 L322.46 491.59 L323.42 491.87 L324.37 492.15 L325.33 492.42 L326.28 492.69 L327.24 492.95 L328.19 493.21 L329.14 493.47 L330.10 493.72 L331.06 493.97 L332.01 494.21 L332.97 494.44 L333.92 494.67 L334.88 494.90 L335.83 495.12 L336.79 495.33 L337.74 495.54 L338.70 495.74 L339.65 495.94" stroke="#ff00ff" stroke-width="1"/>
<path d="M53.15 496.71 L54.10 496.54 L55.06 496.35 L56.01 496.16 L56.97 495.97 L57.92 495.76 L58.88 495.55 L59.83 495.33 L60.79 495.11 L61.74 494.88 L62.70 494.64 L63.66 494.40 L64.61 494.15 L65.56 493.90 L66.52 493.64 L67.47 493.38 L68.43 493.11 L69.38 492.83 L70.34 492.56 L71.29 492.27 L72.25 491.99 L73.20 491.69 L74.16 491.40 L75.11 491.10 L76.07 490.80 L77.02 490.49 L77.98 490.18 L78.93 489.86 L79.89 489.53 L80.84 489.19 L81.80 488.84 L82.75 488.48 L83.71 488.12 L84.66 487.75 L85.62 487.37 L86.58 486.98 L87.53 486.58 L88.48 486.18 L89.44 485.77 L90.39 485.35 L91.35 484.93 L92.30 484.50 L93.26 484.07 L94.22 483.63 L95.17 483.18 L96.12 482.73 L97.08 482.27 L98.03 481.81 L98.99 481.34 L99.94 480.87 L100.90 480.39 L101.85 479.91 L102.81 479.42 L103.77 478.92 L104.72 478.42 L105.67 477.91 L106.63 477.39 L107.58 476.87 L108.54 476.33 L109.49 475.79 L110.45 475.24 L111.41 474.68 L112.36 474.11 L113.32 473.53 L114.27 472.95 L115.22 472.35 L116.18 471.74 L117.13 471.12 L118.09 470.49 L119.04 469.85 L120.00 469.20 L120.95 468.53 L121.91 467.86 L122.86 467.17 L123.82 466.47 L124.78 465.75 L125.73 465.02 L126.69 464.28 L127.64 463.53 L128.59 462.76 L129.55 461.98 L130.50 461.18 L131.46 460.37 L132.41 459.55 L133.37 458.70 L134.32 457.84 L135.28 456.97 L136.23 456.07 L137.19 455.16 L138.15 454.23 L139.10 453.28 L140.06 452.31 L141.01 451.32 L141.97 450.31 L142.92 449.28 L143.88 448.23 L144.83 447.16 L145.78 446.07 L146.74 444.95 L147.69 443.82 L148.65 442.66 L149.60 441.47 L150.56 440.26 L151.51 439.03 L152.47 437.77 L153.43 436.46 L154.38 435.09 L155.34 433.67 L156.29 432.18 L157.25 430.63 L158.20 429.03 L159.16 427.37 L160.11 425.66 L161.06 423.90 L162.02 422.08 L162.97 420.22 L163.93 418.32 L164.88 416.37 L165.84 414.38 L166.80 412.34 L167.75 410.27 L167.85 410.05 L167.94 409.83 L168.04 409.61 L168.13 409.39 L168.23 409.16 L168.32 408.93 L168.42 408.69 L168.51 408.46 L168.61 408.22 L168.71 407.98 L168.80 407.73 L168.90 407.48 L168.99 407.24 L169.09 406.98 L169.18 406.73 L169.28 406.47 L169.37 406.21 L169.47 405.95 L169.56 405.69 L169.66 405.43 L169.76 405.16 L169.85 404.89 L169.95 404.62 L170.04 404.35 L170.14 404.08 L170.23 403.80 L170.33 403.53 L170.42 403.25 L170.52 402.97 L170.62 402.69 L170.71 402.41 L170.81 402.13 L170.90 401.84 L171.00 401.56 L171.09 401.28 L171.19 400.99 L171.28 400.71 L171.38 400.42 L171.47 400.13 L171.57 399.85 L171.67 399.56 L171.76 399.27 L171.86 398.99 L171.95 398.70 L172.05 398.41 L172.14 398.12 L172.24 397.84 L172.33 397.55 L172.43 397.26 L172.53 396.98 L172.62 396.69 L172.72 396.41 L172.81 396.12 L172.91 395.84 L173.00 395.55 L173.10 395.27 L173.19 394.99 L173.29 394.71 L173.38 394.43 L173.48 394.15 L173.58 393.88 L173.67 393.60 L173.77 393.33 L173.86 393.06 L173.96 392.79 L174.05 392.52 L174.15 392.25 L174.24 391.98 L174.34 391.72 L174.44 391.46 L174.53 391.20 L174.63 390.94 L174.72 390.69 L174.82 390.43 L174.91 390.18 L175.01 389.93 L175.10 389.69 L175.20 389.45 L175.29 389.20 L175.39 388.97 L175.49 388.73 L175.58 388.50 L175.68 388.27 L175.77 388.05 L175.87 387.82 L175.96 387.60 L176.06 387.39 L176.15 387.17 L176.25 386.96 L176.34 386.76 L176.44 386.55 L176.54 386.36 L176.63 386.16 L176.73 385.97 L176.82 385.78 L176.92 385.60 L177.01 385.42 L177.11 385.24 L177.20 385.07 L177.30 384.89 L177.40 384.72 L177.49 384.55 L177.59 384.39 L177.68 384.22 L177.78 384.06 L177.87 383.90 L177.97 383.74 L178.06 383.59 L178.16 383.43 L178.25 383.28 L178.35 383.13 L178.45 382.98 L178.54 382.83 L178.64 382.68 L178.73 382.54 L178.83 382.39 L178.92 382.25 L179.02 382.11 L179.11 381.97 L179.21 381.83 L179.31 381.69 L179.40 381.55 L179.50 381.41 L179.59 381.28 L179.69 381.14 L179.78 381.01 L179.88 380.88 L179.97 380.74 L180.07 380.61 L180.17 380.48 L180.26 380.35 L180.36 380.21 L180.45 380.08 L180.55 379.95 L180.64 379.82 L180.74 379.69 L180.83 379.56 L180.93 379.43 L181.02 379.30 L181.12 379.17 L181.22 379.04 L181.31 378.91 L181.41 378.77 L181.50 378.64 L181.60 378.51 L181.69 378.38 L181.79 378.24 L181.88 378.11 L181.98 377.97 L182.08 377.84 L182.17 377.70 L182.27 377.57 L182.36 377.43 L182.46 377.29 L182.55 377.15 L182.65 377.01 L182.74 376.86 L182.84 376.72 L182.93 376.57 L183.03 376.43 L183.13 376.28 L183.22 376.13 L183.32 375.98 L183.41 375.83 L183.51 375.68 L183.60 375.52 L183.70 375.37 L183.79 375.21 L183.89 375.06 L183.99 374.90 L184.08 374.74 L184.18 374.59 L184.27 374.43 L184.37 374.27 L184.46 374.11 L184.56 373.95 L184.65 373.79 L184.75 373.63 L184.84 373.46 L184.94 373.27 L185.04 373.08 L185.13 372.87 L185.23 372.66 L185.32 372.44 L185.42 372.22 L185.51 372.00 L185.61 371.77 L185.70 371.55 L185.80 371.34 L185.90 371.12 L185.99 370.92 L186.09 370.72 L186.18 370.54 L186.28 370.37 L186.37 370.21 L186.47 370.07 L186.56 369.95 L186.66 369.85 L186.75 369.78 L186.85 369.72 L186.95 369.69 L187.04 369.70 L187.14 369.74 L187.23 369.84 L187.33 369.98 L187.42 370.16 L187.52 370.39 L187.61 370.66 L187.71 370.97 L187.81 371.32 L187.90 371.71 L188.00 372.14 L188.09 372.61 L188.19 373.11 L188.28 373.64 L188.38 374.21 L188.47 374.81 L188.57 375.44 L188.66 376.11 L188.76 376.80 L188.86 377.52 L188.95 378.26 L189.05 379.03 L189.14 379.83 L189.24 380.64 L189.33 381.48 L189.43 382.35 L189.52 383.23 L189.62 384.13 L189.72 385.05 L189.81 385.98 L189.91 386.93 L190.00 387.90 L190.10 388.87 L190.19 389.86 L190.29 390.87 L190.38 391.88 L190.48 392.90 L190.57 393.93 L190.67 394.96 L190.77 396.00 L190.86 397.04 L190.96 398.09 L191.05 399.14 L191.15 400.19 L191.24 401.24 L191.34 402.29 L191.43 403.34 L191.53 404.38 L191.62 405.42 L191.72 406.50 L191.82 407.65 L191.91 408.87 L192.01 410.16 L192.10 411.51 L192.20 412.91 L192.29 414.38 L192.39 415.89 L192.48 417.45 L192.58 419.05 L192.68 420.68 L192.77 422.35 L192.87 424.04 L192.96 425.76 L193.06 427.50 L193.15 429.26 L193.25 431.03 L193.34 432.80 L193.44 434.57 L193.53 436.35 L193.63 438.12 L193.73 439.88 L193.82 441.62 L193.92 443.34 L194.01 445.05 L194.11 446.72 L194.20 448.36 L194.30 449.97 L194.39 451.54 L194.49 453.06 L194.59 454.56 L194.68 456.04 L194.78 457.52 L194.87 459.00 L194.97 460.46 L195.06 461.92 L195.16 463.37 L195.25 464.82 L195.35 466.25 L195.44 467.69 L195.54 469.11 L195.64 470.53 L195.73 471.94 L195.83 473.34 L195.92 474.74 L196.02 476.13 L196.11 477.52 L196.21 478.90 L196.30 480.28 L196.40 481.64 L196.50 480.28 L196.59 478.90 L196.69 477.52 L196.78 476.13 L196.88 474.74 L196.97 473.34 L197.07 471.94 L197.16 470.53 L197.26 469.11 L197.36 467.69 L197.45 466.25 L197.55 464.82 L197.64 463.37 L197.74 461.92 L197.83 460.46 L197.93 459.00 L198.02 457.52 L198.12 456.04 L198.21 454.56 L198.31 453.06 L198.41 451.54 L198.50 449.97 L198.60 448.36 L198.69 446.72 L198.79 445.05 L198.88 443.34 L198.98 441.62 L199.07 439.88 L199.17 438.12 L199.27 436.35 L199.36 434.57 L199.46 432.80 L199.55 431.03 L199.65 429.26 L199.74 427.50 L199.84 425.76 L199.93 424.04 L200.03 422.35 L200.12 420.68 L200.22 419.05 L200.32 417.45 L200.41 415.89 L200.51 414.38 L200.60 412.91 L200.70 411.51 L200.79 410.16 L200.89 408.87 L200.98 407.65 L201.08 406.50 L201.18 405.42 L201.27 404.38 L201.37 403.34 L201.46 402.29 L201.56 401.24 L201.65 400.19 L201.75 399.14 L201.84 398.09 L201.94 397.04 L202.03 396.00 L202.13 394.96 L202.23 393.93 L202.32 392.90 L202.42 391.88 L202.51 390.87 L202.61 389.86 L202.70 388.87 L202.80 387.90 L202.89 386.93 L202.99 385.98 L203.09 385.05 L203.18 384.13 L203.28 383.23 L203.37 382.35 L203.47 381.48 L203.56 380.64 L203.66 379.83 L203.75 379.03 L203.85 378.26 L203.94 377.52 L204.04 376.80 L204.14 376.11 L204.23 375.44 L204.33 374.81 L204.42 374.21 L204.52 373.64 L204.61 373.11 L204.71 372.61 L204.80 372.14 L204.90 371.71 L205.00 371.32 L205.09 370.97 L205.19 370.66 L205.28 370.39 L205.38 370.16 L205.47 369.98 L205.57 369.84 L205.66 369.74 L205.76 369.70 L205.85 369.69 L205.95 369.72 L206.05 369.78 L206.14 369.85 L206.24 369.95 L206.33 370.07 L206.43 370.21 L206.52 370.37 L206.62 370.54 L206.71 370.72 L206.81 370.92 L206.91 371.12 L207.00 371.34 L207.10 371.55 L207.19 371.77 L207.29 372.00 L207.38 372.22 L207.48 372.44 L207.57 372.66 L207.67 372.87 L207.76 373.08 L207.86 373.27 L207.96 373.46 L208.05 373.63 L208.15 373.79 L208.24 373.95 L208.34 374.11 L208.43 374.27 L208.53 374.43 L208.62 374.59 L208.72 374.74 L208.81 374.90 L208.91 375.06 L209.01 375.21 L209.10 375.37 L209.20 375.52 L209.29 375.68 L209.39 375.83 L209.48 375.98 L209.58 376.13 L209.67 376.28 L209.77 376.43 L209.87 376.57 L209.96 376.72 L210.06 376.86 L210.15 377.01 L210.25 377.15 L210.34 377.29 L210.44 377.43 L210.53 377.57 L210.63 377.70 L210.72 377.84 L210.82 377.97 L210.92 378.11 L211.01 378.24 L211.11 378.38 L211.20 378.51 L211.30 378.64 L211.39 378.77 L211.49 378.91 L211.58 379.04 L211.68 379.17 L211.78 379.30 L211.87 379.43 L211.97 379.56 L212.06 379.69 L212.16 379.82 L212.25 379.95 L212.35 380.08 L212.44 380.21 L212.54 380.35 L212.63 380.48 L212.73 380.61 L212.83 380.74 L212.92 380.88 L213.02 381.01 L213.11 381.14 L213.21 381.28 L213.30 381.41 L213.40 381.55 L213.49 381.69 L213.59 381.83 L213.69 381.97 L213.78 382.11 L213.88 382.25 L213.97 382.39 L214.07 382.54 L214.16 382.68 L214.26 382.83 L214.35 382.98 L214.45 383.13 L214.55 383.28 L214.64 383.43 L214.74 383.59 L214.83 383.74 L214.93 383.90 L215.02 384.06 L215.12 384.22 L215.21 384.39 L215.31 384.55 L215.40 384.72 L215.50 384.89 L215.60 385.07 L215.69 385.24 L215.79 385.42 L215.88 385.60 L215.98 385.78 L216.07 385.97 L216.17 386.16 L216.26 386.36 L216.36 386.55 L216.46 386.76 L216.55 386.96 L216.65 387.17 L216.74 387.39 L216.84 387.60 L216.93 387.82 L217.03 388.05 L217.12 388.27 L217.22 388.50 L217.31 388.73 L217.41 388.97 L217.51 389.20 L217.60 389.45 L217.70 389.69 L217.79 389.93 L217.89 390.18 L217.98 390.43 L218.08 390.69 L218.17 390.94 L218.27 391.20 L218.37 391.46 L218.46 391.72 L218.56 391.98 L218.65 392.25 L218.75 392.52 L218.84 392.79 L218.94 393.06 L219.03 393.33 L219.13 393.60 L219.22 393.88 L219.32 394.15 L219.42 394.43 L219.51 394.71 L219.61 394.99 L219.70 395.27 L219.80 395.55 L219.89 395.84 L219.99 396.12 L220.08 396.41 L220.18 396.69 L220.28 396.98 L220.37 397.26 L220.47 397.55 L220.56 397.84 L220.66 398.12 L220.75 398.41 L220.85 398.70 L220.94 398.99 L221.04 399.27 L221.13 399.56 L221.23 399.85 L221.33 400.13 L221.42 400.42 L221.52 400.71 L221.61 400.99 L221.71 401.28 L221.80 401.56 L221.90 401.84 L221.99 402.13 L222.09 402.41 L222.19 402.69 L222.28 402.97 L222.38 403.25 L222.47 403.53 L222.57 403.80 L222.66 404.08 L222.76 404.35 L222.85 404.62 L222.95 404.89 L223.04 405.16 L223.14 405.43 L223.24 405.69 L223.33 405.95 L223.43 406.21 L223.52 406.47 L223.62 406.73 L223.71 406.98 L223.81 407.24 L223.90 407.48 L224.00 407.73 L224.09 407.98 L224.19 408.22 L224.29 408.46 L224.38 408.69 L224.48 408.93 L224.57 409.16 L224.67 409.39 L224.76 409.61 L224.86 409.83 L224.95 410.05 L225.05 410.27 L226.00 412.34 L226.96 414.38 L227.92 416.37 L228.87 418.32 L229.83 420.22 L230.78 422.08 L231.74 423.90 L232.69 425.66 L233.65 427.37 L234.60 429.03 L235.56 430.63 L236.51 432.18 L237.47 433.67 L238.42 435.09 L239.38 436.46 L240.33 437.77 L241.29 439.03 L242.24 440.26 L243.20 441.47 L244.15 442.66 L245.11 443.82 L246.06 444.95 L247.02 446.07 L247.97 447.16 L248.93 448.23 L249.88 449.28 L250.84 450.31 L251.79 451.32 L252.75 452.31 L253.70 453.28 L254.66 454.23 L255.61 455.16 L256.56 456.07 L257.52 456.97 L258.48 457.84 L259.43 458.70 L260.38 459.55 L261.34 460.37 L262.30 461.18 L263.25 461.98 L264.21 462.76 L265.16 463.53 L266.12 464.28 L267.07 465.02 L268.02 465.75 L268.98 466.47 L269.94 467.17 L270.89 467.86 L271.85 468.53 L272.80 469.20 L273.75 469.85 L274.71 470.49 L275.67 471.12 L276.62 471.74 L277.58 472.35 L278.53 472.95 L279.49 473.53 L280.44 474.11 L281.39 474.68 L282.35 475.24 L283.31 475.79 L284.26 476.33 L285.22 476.87 L286.17 477.39 L287.12 477.91 L288.08 478.42 L289.04 478.92 L289.99 479.42 L290.95 479.91 L291.90 480.39 L292.86 480.87 L293.81 481.34 L294.76 481.81 L295.72 482.27 L296.68 482.73 L297.63 483.18 L298.59 483.63 L299.54 484.07 L300.50 484.50 L301.45 484.93 L302.41 485.35 L303.36 485.77 L304.32 486.18 L305.27 486.58 L306.23 486.98 L307.18 487.37 L308.13 487.75 L309.09 488.12 L310.05 488.48 L311.00 488.84 L311.96 489.19 L312.91 489.53 L313.87 489.86 L314.82 490.18 L315.78 490.49 L316.73 490.80 L317.69 491.10 L318.64 491.40 L319.60 491.69 L320.55 491.99 L321.50 492.27 L322.46 492.56 L323.42 492.83 L324.37 493.11 L325.33 493.38 L326.28 493.64 L327.24 493.90 L328.19 494.15 L329.14 494.40 L330.10 494.64 L331.06 494.88 L332.01 495.11 L332.97 495.33 L333.92 495.55 L334.88 495.76 L335.83 495.97 L336.79 496.16 L337.74 496.35 L338.70 496.54 L339.65 496.71" stroke="#00ff00" stroke-width="3" stroke-dasharray="6.5 5.5"/>
</g>
<g stroke="#000" fill="none">
<line x1="48.5" y1="298.5" x2="339.5" y2="298.5" stroke-width="1.2"/>
<line x1="339.5" y1="298" x2="339.5" y2="505" stroke-width="1.2"/>
<line x1="53" y1="504.5" x2="340" y2="504.5" stroke-width="1.2"/>
<line x1="53.5" y1="298" x2="53.5" y2="509.5" stroke-width="1.3"/>
<line x1="48.5" y1="500.70" x2="53.5" y2="500.70" stroke-width="1"/>
<line x1="50.5" y1="480.85" x2="53.5" y2="480.85" stroke-width="1"/>
<line x1="48.5" y1="461.00" x2="53.5" y2="461.00" stroke-width="1"/>
<line x1="50.5" y1="441.15" x2="53.5" y2="441.15" stroke-width="1"/>
<line x1="48.5" y1="421.30" x2="53.5" y2="421.30" stroke-width="1"/>
<line x1="50.5" y1="401.45" x2="53.5" y2="401.45" stroke-width="1"/>
<line x1="48.5" y1="381.60" x2="53.5" y2="381.60" stroke-width="1"/>
<line x1="50.5" y1="361.75" x2="53.5" y2="361.75" stroke-width="1"/>
<line x1="48.5" y1="341.90" x2="53.5" y2="341.90" stroke-width="1"/>
<line x1="50.5" y1="322.05" x2="53.5" y2="322.05" stroke-width="1"/>
<line x1="48.5" y1="302.20" x2="53.5" y2="302.20" stroke-width="1"/>
<line x1="53.15" y1="504" x2="53.15" y2="509.50" stroke-width="1"/>
<line x1="77.02" y1="504" x2="77.02" y2="507.50" stroke-width="1"/>
<line x1="100.90" y1="504" x2="100.90" y2="509.50" stroke-width="1"/>
<line x1="124.78" y1="504" x2="124.78" y2="507.50" stroke-width="1"/>
<line x1="148.65" y1="504" x2="148.65" y2="509.50" stroke-width="1"/>
<line x1="172.53" y1="504" x2="172.53" y2="507.50" stroke-width="1"/>
<line x1="196.40" y1="504" x2="196.40" y2="509.50" stroke-width="1"/>
<line x1="220.28" y1="504" x2="220.28" y2="507.50" stroke-width="1"/>
<line x1="244.15" y1="504" x2="244.15" y2="509.50" stroke-width="1"/>
<line x1="268.02" y1="504" x2="268.02" y2="507.50" stroke-width="1"/>
<line x1="291.90" y1="504" x2="291.90" y2="509.50" stroke-width="1"/>
<line x1="315.78" y1="504" x2="315.78" y2="507.50" stroke-width="1"/>
<line x1="339.65" y1="504" x2="339.65" y2="509.50" stroke-width="1"/>
</g>
<text class="sf" x="46" y="504.00" text-anchor="end">0</text>
<text class="sf" x="46" y="464.30" text-anchor="end">50</text>
<text class="sf" x="46" y="424.60" text-anchor="end">100</text>
<text class="sf" x="46" y="384.90" text-anchor="end">150</text>
<text class="sf" x="46" y="345.20" text-anchor="end">200</text>
<text class="sf" x="46" y="305.50" text-anchor="end">250</text>
<text class="sf" x="51.95" y="522.5" text-anchor="middle">-15</text>
<text class="sf" x="99.70" y="522.5" text-anchor="middle">-10</text>
<text class="sf" x="147.45" y="522.5" text-anchor="middle">-5</text>
<text class="sf" x="196.40" y="522.5" text-anchor="middle">0</text>
<text class="sf" x="244.15" y="522.5" text-anchor="middle">5</text>
<text class="sf" x="291.90" y="522.5" text-anchor="middle">10</text>
<text class="sf" x="339.65" y="522.5" text-anchor="middle">15</text>
<text class="ss" font-size="16" transform="translate(199.80 541.80) scale(1.083 1)" text-anchor="middle" >H (kA/m)</text>
<text class="ss" font-size="15" transform="translate(18,391.6) rotate(-90) scale(1.04 1)" text-anchor="middle">ΔZ/Z (%)</text>
<text class="ss" font-size="22" transform="translate(58.00 322.30) scale(1.090 1)" text-anchor="start" >(b)</text>
<text class="ss" font-size="16" transform="translate(68.00 366.60) scale(1.033 1)" text-anchor="start" ><tspan font-style="italic">T</tspan><tspan font-style="italic" font-size="10" dy="7.3">ann</tspan><tspan dy="-7.3">=350 </tspan><tspan dx="-1" dy="-1.3" stroke-width="0">°</tspan><tspan dx="-0.6" dy="1.3">C</tspan></text>
<text class="ss" font-size="16" transform="translate(66.20 392.50) scale(1.054 1)" text-anchor="start" ><tspan font-family="Liberation Serif" font-style="italic" font-size="17">σ</tspan><tspan font-style="italic" font-size="10" dy="6.3">m</tspan><tspan dy="-6.3">=472 MPa</tspan></text>
<line x1="219.0" y1="312.4" x2="258.5" y2="312.4" stroke="#000" stroke-width="1.2"/>
<text class="ss" font-size="16" transform="translate(262.20 318.70) scale(1.080 1)" text-anchor="start" >100 MHz</text>
<line x1="218.1" y1="332.9" x2="258.5" y2="332.9" stroke="#ff0000" stroke-width="2.4" stroke-dasharray="2.8 5.45"/>
<text class="ss" font-size="16" transform="translate(262.20 339.20) scale(1.080 1)" text-anchor="start" >150 MHz</text>
<line x1="218.1" y1="353.6" x2="258.5" y2="353.6" stroke="#0000ff" stroke-width="3.2" stroke-dasharray="10.4 8.8"/>
<text class="ss" font-size="16" transform="translate(262.20 359.90) scale(1.080 1)" text-anchor="start" >200 MHz</text>
<line x1="219.0" y1="374.1" x2="258.5" y2="374.1" stroke="#ff00ff" stroke-width="1"/>
<text class="ss" font-size="16" transform="translate(262.20 380.40) scale(1.080 1)" text-anchor="start" >500 MHz</text>
<line x1="218.1" y1="394.7" x2="258.5" y2="394.7" stroke="#00ff00" stroke-width="3" stroke-dasharray="3.5 7.8"/>
<text class="ss" font-size="16" transform="translate(262.20 401.00) scale(1.080 1)" text-anchor="start" >700 MHz</text>
</svg></body></html>
